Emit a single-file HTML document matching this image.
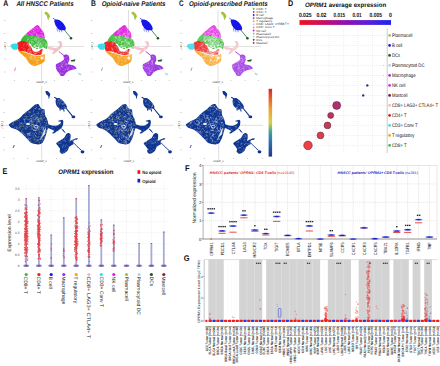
<!DOCTYPE html><html><head><meta charset="utf-8"><style>html,body{margin:0;padding:0;background:#fff;width:440px;height:366px;overflow:hidden}svg{display:block}</style></head><body>
<svg width="440" height="366" viewBox="0 0 440 366" text-rendering="geometricPrecision" font-family='"Liberation Sans", sans-serif'>
<defs>
<g id="uc"><g stroke="#bcbcbc" stroke-width="0.5" fill="none">
<line x1="41.6" y1="10" x2="41.6" y2="81.0"/>
<line x1="7" y1="46.4" x2="84.4" y2="46.4"/>
</g>
<g fill="#a8a8a8">
<rect x="4.0" y="20.0" width="1.3" height="0.6"/>
<rect x="4.0" y="33.300000000000004" width="1.3" height="0.6"/>
<rect x="4.0" y="58.7" width="1.3" height="0.6"/>
<rect x="4.0" y="71.7" width="1.3" height="0.6"/>
<rect x="14.1" y="80" width="0.6" height="1.0"/>
<rect x="28.099999999999998" y="80" width="0.6" height="1.0"/>
<rect x="54.300000000000004" y="80" width="0.6" height="1.0"/>
<rect x="68.4" y="80" width="0.6" height="1.0"/>
<rect x="82.0" y="80" width="0.6" height="1.0"/>
</g>
<text transform="translate(6.00,46.40) rotate(-90)" font-size="2.6" text-anchor="middle" fill="#333" textLength="8.5" lengthAdjust="spacingAndGlyphs" >UMAP_2</text>
<text x="41.40" y="82.90" font-size="2.6" text-anchor="middle" fill="#333" textLength="10.5" lengthAdjust="spacingAndGlyphs" >UMAP_1</text>
<path fill="#3cba3c" fill-opacity="1.0" d="M20.00,42.80 C20.16,42.13 20.97,39.59 21.80,38.40 C22.63,37.21 24.68,34.33 26.20,33.90 C27.72,33.47 30.76,34.60 33.20,35.20 C35.64,35.80 42.58,37.31 44.50,38.40 C46.42,39.49 47.35,41.99 47.60,43.40 C47.85,44.81 46.99,48.49 46.40,49.00 C45.81,49.51 44.29,47.20 43.20,47.20 C42.11,47.20 39.53,49.00 38.20,49.00 C36.87,49.00 34.55,48.03 33.20,47.20 C31.85,46.37 29.78,43.31 28.10,42.80 C26.42,42.29 21.68,43.40 20.60,43.40 C19.52,43.40 19.84,43.47 20.00,42.80Z"/>
<path fill="#e020e0" fill-opacity="1.0" d="M26.20,33.90 C26.35,33.09 30.57,29.93 31.90,28.90 C33.23,27.87 36.54,25.10 37.60,25.10 C38.66,25.10 40.28,28.01 41.00,28.90 C41.72,29.79 43.39,31.59 43.80,32.70 C44.21,33.81 45.15,37.96 44.50,38.40 C43.85,38.84 39.82,36.80 38.20,36.50 C36.58,36.20 32.00,36.10 30.60,35.80 C29.20,35.50 26.05,34.70 26.20,33.90Z"/>
<path fill="#f5a01a" fill-opacity="1.0" d="M18.10,50.30 C18.61,50.14 22.56,51.61 24.40,52.20 C26.24,52.79 29.90,54.19 31.90,54.70 C33.90,55.21 37.72,56.08 39.40,56.00 C41.08,55.92 43.82,53.43 44.50,54.10 C45.18,54.77 45.01,59.67 44.50,61.00 C43.99,62.33 42.05,63.43 40.70,64.10 C39.35,64.77 35.91,66.08 34.40,66.00 C32.89,65.92 30.57,64.59 29.40,63.50 C28.23,62.41 26.77,59.15 25.60,57.80 C24.43,56.45 21.60,54.40 20.60,53.40 C19.60,52.40 17.59,50.46 18.10,50.30Z"/>
<path fill="#ee1a1a" fill-opacity="1.0" d="M17.40,42.80 C17.99,41.55 21.67,40.90 23.10,40.90 C24.53,40.90 27.01,41.96 28.10,42.80 C29.19,43.64 30.62,46.12 31.30,47.20 C31.98,48.28 32.28,50.31 33.20,50.90 C34.12,51.49 37.12,51.85 38.20,51.60 C39.28,51.35 40.63,49.25 41.30,49.00 C41.97,48.75 43.03,49.11 43.20,49.70 C43.37,50.29 43.27,52.65 42.60,53.40 C41.93,54.15 39.63,55.21 38.20,55.30 C36.77,55.39 33.74,54.59 31.90,54.10 C30.06,53.61 26.16,52.11 24.40,51.60 C22.64,51.09 19.63,51.47 18.70,50.30 C17.77,49.13 16.81,44.05 17.40,42.80Z"/>
<path fill="#30dcec" fill-opacity="1.0" d="M11.10,44.60 C11.83,43.97 14.33,43.40 15.50,43.40 C16.67,43.40 17.75,43.67 18.10,44.60 C18.45,45.53 18.33,48.15 17.60,49.00 C16.87,49.85 14.78,50.00 13.70,49.70 C12.62,49.40 11.53,48.05 11.10,47.20 C10.67,46.35 10.37,45.23 11.10,44.60Z"/>
<path d="M41.4,46.5 l0.6,0.5 M28.8,49.4 l-1.0,0.7 M27.9,45.4 l2.3,0.3 M34.0,55.9 l-0.6,1.7 M36.1,33.2 l1.1,2.2 M28.1,49.9 l0.9,0.3 M32.2,41.0 l-1.0,0.4 M32.0,59.5 l0.9,1.0 M30.2,32.8 l1.2,2.1 M26.0,56.7 l-1.4,2.1 M42.7,49.4 l0.7,2.4 M32.3,34.8 l1.2,0.8 M38.6,48.0 l-1.5,1.9 M40.5,57.6 l0.1,0.9 M33.9,63.9 l-0.5,1.6 M38.3,47.0 l2.2,0.5 M31.0,50.9 l-0.7,1.4 M33.0,41.6 l0.7,0.6 M41.7,55.0 l1.1,1.0 M27.0,41.6 l-0.2,0.9 M36.6,53.3 l-1.4,0.2 M43.9,40.8 l-1.8,1.4 M29.7,48.1 l-1.9,1.3 M44.8,61.3 l-0.2,0.9 M35.6,50.8 l-1.1,0.8 M36.2,61.6 l1.7,0.4 M37.7,52.1 l2.3,0.8 M39.1,47.0 l-1.0,0.6 M29.0,45.6 l-0.2,1.6 M42.0,46.0 l0.7,1.8 M39.8,41.0 l-1.7,1.4 M38.2,42.5 l-1.8,0.7 M36.4,44.3 l1.7,1.4 M41.2,39.1 l0.7,0.6 M42.6,34.8 l-0.1,1.0 M29.8,56.4 l-1.0,1.4 M40.4,49.2 l-0.9,0.2 M37.3,52.2 l-0.7,0.5 M41.0,56.1 l0.6,0.8 M37.2,43.7 l0.9,2.2 M31.7,48.3 l1.4,1.0 M44.5,43.0 l1.2,0.1 M39.4,47.1 l1.2,1.4 M42.1,53.7 l1.2,2.1 M30.5,52.6 l1.4,0.6 M31.2,56.5 l-0.4,0.9 M38.6,42.5 l-0.7,0.8 M26.1,57.3 l0.5,1.0 M28.0,34.5 l-0.9,0.6 M42.6,50.9 l-0.7,0.7 M44.9,38.3 l1.2,1.0 M36.4,51.2 l-2.5,0.4 M30.8,49.0 l-0.5,1.4 M30.8,56.0 l1.3,1.8 M21.4,47.3 l1.1,0.3 M42.3,52.3 l-1.5,1.3 M39.8,42.9 l0.9,0.9 M27.9,43.1 l-1.3,2.1 M41.8,44.5 l1.0,0.6 M35.0,51.8 l0.8,2.4 M27.9,52.9 l-0.0,1.1 M41.1,45.1 l-1.0,1.2 M40.9,56.3 l0.4,2.5 M44.2,56.1 l-1.2,0.9 M37.9,59.3 l0.1,1.5 M25.8,51.1 l-0.9,1.0 M36.4,49.1 l-0.6,1.2 M34.7,58.0 l-0.8,1.4 M30.6,51.8 l-1.6,0.7 M46.4,43.1 l-1.3,0.3 M39.1,39.8 l-1.0,1.2 M38.9,45.6 l0.4,0.9 M31.7,65.2 l0.7,1.7 M29.5,50.9 l0.9,0.0 M36.5,44.4 l-1.0,2.0 M35.4,43.8 l0.3,1.8 M26.0,60.2 l0.8,1.7 M40.2,43.2 l-0.6,1.1 M45.7,43.8 l0.3,2.4 M38.4,28.6 l-1.4,0.0 M41.6,47.2 l-1.0,0.2 M46.4,31.3 l-1.1,0.6 M44.2,58.6 l-1.5,0.2 M35.1,56.7 l0.7,1.7 M37.3,54.9 l2.2,0.2 M31.6,37.4 l0.8,0.2 M38.8,44.2 l1.5,2.1 M41.4,42.2 l-1.0,0.3 M33.5,49.6 l1.0,1.0 M30.3,57.6 l-0.2,1.6 M46.0,43.9 l0.0,2.5 M37.1,47.1 l-0.8,0.2 M35.6,44.3 l-2.1,1.0 M43.9,52.7 l-0.5,1.3 M43.9,56.2 l0.5,0.8 M44.7,56.9 l1.0,1.3 M35.9,63.0 l2.2,0.6 M31.3,57.5 l1.4,1.9 M44.1,32.6 l0.7,2.4 M40.1,44.1 l-0.2,1.0 M39.1,44.7 l-1.3,0.6 M35.5,53.1 l-1.6,0.3 M32.9,60.1 l0.6,0.6 M31.0,41.3 l0.7,2.2 M42.5,42.9 l1.6,0.7 M25.7,49.6 l-1.4,1.5 M43.8,49.7 l-1.5,1.1 M45.4,46.8 l0.3,1.8 M42.7,49.1 l-1.9,0.9 M41.3,45.0 l0.8,0.4 M40.5,44.1 l1.1,0.1 M46.9,54.1 l-1.3,1.8 M31.9,54.3 l-1.6,0.9 M32.1,41.1 l-0.2,1.3 M39.4,51.3 l1.0,0.4 M35.4,45.8 l-1.3,1.3 M28.5,46.2 l1.8,1.1 M27.3,28.4 l-0.8,2.1 M42.3,49.9 l-0.5,1.2 M33.2,51.9 l0.8,1.9 M35.2,38.6 l2.4,0.3 M24.1,47.7 l-0.2,1.9 M33.5,49.9 l0.7,2.0 M37.4,43.4 l0.6,1.7 M30.9,48.2 l-1.7,1.5 M46.2,44.0 l1.0,0.3 M37.7,36.5 l-1.0,2.3 M19.3,49.2 l-0.9,1.3 M35.4,49.7 l1.5,0.8 M45.2,32.1 l0.1,0.9 M44.8,65.8 l-0.8,1.1 M30.1,44.4 l-0.4,1.0 M32.4,41.6 l1.2,0.4 M33.7,48.2 l0.5,1.1 M27.3,59.3 l-0.7,0.5 M32.0,52.3 l-1.3,1.2 M38.3,40.9 l-1.5,0.9 M37.9,62.4 l-0.7,0.5 M37.3,64.3 l0.3,2.5 M46.5,38.2 l-1.4,1.5 M34.5,50.5 l1.1,0.7 M39.1,45.8 l-1.2,2.2 M37.4,51.6 l-0.8,2.3 M26.4,63.0 l-0.5,2.1 M35.6,56.3 l-0.5,1.1 M37.9,41.4 l0.6,2.3 M42.2,53.6 l-1.5,0.8 M40.5,43.5 l1.7,0.8 M29.9,40.4 l-0.6,2.2 M33.4,50.2 l-1.3,1.6 M28.6,50.0 l-1.4,1.5 M27.6,44.3 l-1.1,0.9 M25.8,60.2 l2.1,1.4 M37.3,34.1 l-1.2,2.0 M33.4,26.9 l-0.1,2.0 M43.4,63.3 l-1.6,1.0 M38.1,47.1 l-0.3,1.2 M30.6,58.0 l0.0,1.9 M29.7,57.3 l0.9,1.1 M18.4,42.1 l0.6,0.9 M37.7,57.0 l0.7,0.5 M35.1,55.9 l-0.8,1.5 M40.6,44.5 l1.3,0.6 M44.2,45.3 l1.2,1.1 M27.2,65.7 l-0.5,0.7 M37.8,50.7 l0.8,0.6 M36.3,50.0 l-1.2,2.2 M43.6,62.5 l-1.6,2.0 M27.4,50.9 l1.4,1.2 M37.6,57.0 l0.1,1.4 M46.1,45.0 l-0.9,1.5 M39.1,48.2 l0.4,1.0 M30.1,46.3 l1.9,0.3 M41.1,34.6 l1.2,1.0 M40.0,43.6 l-0.9,0.7 M36.9,49.0 l0.3,1.5 M42.5,36.3 l1.6,0.8 M43.1,44.7 l-0.6,2.1 M44.8,48.2 l-0.3,1.7 M23.3,53.7 l-1.0,0.3 M36.9,30.4 l0.8,0.6 M42.7,54.1 l0.9,0.4 M36.6,41.5 l0.4,0.8 M34.8,59.9 l-1.1,0.9 M36.6,46.2 l-0.1,2.1 M39.4,39.2 l1.3,0.6 M30.2,53.9 l1.7,1.3 M44.6,52.1 l0.6,1.3 M43.7,48.5 l1.2,1.5 M30.5,50.7 l-0.9,2.1 M40.7,42.4 l-0.8,1.8 M37.7,57.5 l2.1,0.1 M39.2,37.6 l-0.5,1.2 M19.5,55.0 l-0.5,1.0 M34.5,39.6 l1.9,1.4 M40.6,45.3 l-1.4,1.1 M32.2,56.4 l-1.2,0.4 M29.1,38.8 l-1.6,1.8 M46.7,56.0 l0.8,1.0 M33.1,55.1 l0.9,0.2 M24.8,61.8 l-0.8,0.1 M30.9,46.0 l1.7,1.7 M38.5,37.7 l-1.4,0.4 M32.0,41.2 l0.4,1.4 M38.8,59.2 l-0.1,1.8 M33.0,47.9 l-1.0,0.7 M37.9,26.2 l-0.8,0.2 M37.9,46.0 l1.3,1.2 M24.9,34.4 l-1.0,0.4 M38.6,54.9 l0.7,0.5 M43.3,36.1 l-0.8,1.1 M33.5,42.4 l0.0,1.4 M32.8,43.6 l-1.1,0.8 M36.0,60.0 l2.4,0.6 M29.5,42.7 l-0.9,1.2 M39.1,35.7 l-1.8,0.2 M22.2,51.1 l1.9,0.5 M24.4,43.7 l-0.9,1.9 M44.6,50.7 l1.1,1.1 M30.4,46.6 l-0.5,1.9 M29.0,43.4 l0.5,2.0 M35.3,45.4 l-0.6,1.3 M31.4,47.1 l0.5,0.7 M37.2,39.5 l-2.1,1.4 M37.0,59.0 l-1.7,0.8 M29.1,54.6 l-0.8,0.2 M44.8,41.7 l-1.7,1.2 M40.1,44.7 l-1.4,0.7 M40.1,41.0 l-1.8,1.8 M34.0,39.9 l1.1,0.6 M35.6,43.9 l1.6,0.1 M44.4,29.4 l0.7,2.3 M32.9,55.3 l-1.3,0.4 M26.1,32.1 l0.9,0.4 M35.6,58.8 l0.0,1.1 M33.2,54.8 l1.9,1.2 M41.0,40.5 l-1.4,0.1 M32.2,44.9 l-0.8,0.2" stroke="#ffffff" stroke-width="0.35" opacity="0.8" fill="none"/>
<g fill="#ffffff" opacity="0.85"><ellipse cx="37" cy="48.3" rx="2.6" ry="1.4"/><ellipse cx="34.5" cy="46" rx="1.2" ry="0.8"/><ellipse cx="43" cy="52.5" rx="1.2" ry="2.2"/><ellipse cx="42" cy="58" rx="1.5" ry="1.6"/><ellipse cx="30" cy="44.5" rx="1.3" ry="0.8"/></g><ellipse cx="37" cy="48.3" rx="1.2" ry="0.6" fill="#3cba3c"/>
<path d="M28.3,26.9 l-1.3,0.0 M34.2,37.8 l1.0,0.1 M41.1,26.1 l0.9,0.3 M43.2,38.7 l-0.9,0.7 M41.5,37.4 l-1.6,1.1 M34.7,29.7 l1.2,0.4 M28.5,38.9 l-0.8,0.6 M35.8,27.0 l0.8,1.5 M44.6,32.1 l-0.2,1.2 M41.1,34.9 l1.0,1.2 M28.8,30.3 l-1.1,1.6 M36.8,38.7 l-0.3,1.0 M38.8,34.1 l0.2,1.8 M32.1,32.6 l1.7,0.3 M45.5,39.5 l1.1,0.5 M28.2,37.2 l-1.6,0.5 M29.4,32.3 l0.4,1.1 M36.3,28.6 l-1.6,0.5 M27.0,34.4 l-0.9,0.1 M32.9,30.4 l1.1,0.5 M32.8,39.6 l-0.8,0.1 M41.1,29.0 l0.8,0.6 M28.0,34.3 l-0.3,0.8 M35.7,37.9 l-1.7,0.2 M39.8,31.7 l1.0,1.1 M32.4,28.4 l-1.6,0.1 M37.7,39.2 l1.4,0.0 M37.3,31.5 l-1.0,0.4 M45.3,30.7 l-0.9,1.2 M34.2,26.3 l1.0,1.1 M31.5,36.4 l-0.4,1.6 M39.3,26.8 l0.2,0.8 M39.1,27.6 l0.2,1.2 M32.8,30.8 l1.4,0.5 M26.0,34.5 l-0.9,1.5 M36.1,35.0 l1.0,0.3 M32.7,32.0 l0.7,0.8 M30.5,27.1 l-1.6,0.3 M36.3,27.3 l1.5,1.1 M34.8,31.5 l-0.3,1.5 M27.7,39.7 l-0.6,0.8 M35.9,31.4 l-0.4,1.1 M31.2,39.3 l1.8,0.5 M43.1,30.9 l0.3,1.5 M43.1,26.8 l-0.2,0.8 M32.2,29.4 l0.8,1.0 M43.3,28.9 l1.2,1.3 M30.5,27.4 l0.3,1.0 M28.7,31.0 l-1.5,0.5 M28.2,30.9 l-1.7,0.6 M42.9,31.6 l-0.2,0.8 M34.0,31.9 l1.6,1.0 M39.5,30.6 l-1.3,1.5 M36.7,33.2 l-0.4,1.4 M26.8,38.9 l1.7,0.3 M41.6,33.9 l1.1,0.8 M31.2,36.4 l1.5,0.0 M29.0,30.9 l-0.3,1.1 M30.5,28.2 l-1.5,0.2 M42.6,31.2 l-0.7,1.8 M28.0,27.7 l1.4,0.4 M27.4,29.1 l-1.1,1.6 M29.4,32.8 l0.1,1.0 M29.1,26.8 l0.4,1.1 M34.2,38.6 l0.4,1.4 M35.2,29.8 l-1.7,0.7 M31.3,35.1 l-1.2,1.2 M41.6,30.0 l0.1,1.2 M33.0,39.5 l1.4,0.0 M43.9,38.2 l-1.2,0.6 M33.5,28.0 l-1.6,0.6 M36.0,39.5 l0.5,0.6 M31.3,29.4 l0.2,2.0 M32.3,33.8 l-0.3,1.8 M31.8,33.0 l-1.0,0.8 M45.3,31.8 l-1.5,0.2 M38.2,29.7 l0.6,1.0 M43.9,31.0 l0.0,1.1 M42.0,32.3 l-0.5,0.8 M32.4,30.0 l-1.0,0.2 M35.6,36.2 l-1.3,0.4 M40.6,28.7 l-1.3,1.1 M36.7,38.1 l-1.8,0.1 M33.2,27.2 l-1.4,0.9 M26.3,34.0 l0.9,0.2 M33.0,27.8 l1.8,0.5 M40.1,36.8 l-0.5,1.5 M34.9,32.9 l-1.5,0.6 M31.8,39.3 l-1.4,0.7 M43.0,35.9 l-0.8,1.7 M34.9,38.6 l1.0,1.4 M30.0,36.4 l0.3,0.9 M45.2,31.2 l0.8,0.3 M28.2,37.8 l-0.0,1.7 M32.2,39.7 l-1.1,1.4 M43.8,31.6 l1.3,0.8 M41.6,39.0 l0.3,1.6 M39.7,34.7 l-0.1,1.5 M40.6,34.5 l-0.1,1.9 M45.7,36.3 l1.0,0.0 M33.3,34.3 l-0.6,1.2 M42.0,37.8 l1.5,0.7 M30.6,31.6 l1.2,0.0 M33.8,30.2 l-0.9,0.6 M33.2,37.5 l-0.1,1.2 M45.4,33.6 l0.7,1.6 M41.7,31.7 l0.1,1.5" stroke="#ffffff" stroke-width="0.3" opacity="0.6" fill="none"/>
<path fill="#f4bcc4" fill-opacity="1.0" d="M47.30,46.20 C47.68,46.00 49.71,46.48 50.60,46.70 C51.49,46.92 54.01,48.07 54.90,48.10 C55.79,48.13 57.63,47.35 58.20,47.00 C58.77,46.65 59.67,45.58 59.80,45.10 C59.93,44.62 59.58,43.25 59.30,42.90 C59.02,42.55 57.27,42.32 57.40,42.10 C57.53,41.88 59.86,40.84 60.40,41.00 C60.94,41.16 61.87,42.77 62.00,43.50 C62.13,44.23 61.87,46.54 61.50,47.30 C61.13,48.06 59.37,49.49 58.80,50.00 C58.23,50.51 57.31,51.19 56.60,51.70 C55.89,52.21 53.21,54.21 52.70,54.40 C52.19,54.59 52.07,53.74 52.20,53.30 C52.33,52.86 54.11,51.04 53.80,50.60 C53.48,50.16 50.26,49.76 49.50,49.50 C48.74,49.24 47.56,48.78 47.30,48.40 C47.04,48.02 46.91,46.40 47.30,46.20Z"/>
<path d="M47,48.5 l5,-1 M55,47 l4,2 M52,50 l2,2" stroke="#fff" stroke-width="0.35" fill="none"/>
<path d="M58.8,51.5 L64,55.5" stroke="#9a30e0" stroke-width="0.9"/>
<path fill="#9a30e0" fill-opacity="1.0" d="M63.50,55.40 C63.81,54.85 65.98,54.53 66.60,54.60 C67.22,54.67 68.47,55.37 68.80,56.00 C69.13,56.63 69.49,59.05 69.40,60.00 C69.31,60.95 67.52,63.46 68.00,64.10 C68.48,64.74 72.51,64.97 73.50,65.50 C74.49,66.03 76.91,68.00 76.50,68.60 C76.09,69.19 71.17,70.14 70.00,70.60 C68.83,71.05 67.21,71.91 66.50,72.50 C65.79,73.09 64.60,75.33 63.90,75.70 C63.20,76.07 61.14,76.10 60.50,75.70 C59.86,75.30 58.90,73.09 58.40,72.30 C57.90,71.51 56.48,69.81 56.20,68.90 C55.92,67.99 55.50,65.29 56.00,64.50 C56.50,63.71 59.58,62.71 60.50,62.10 C61.42,61.49 63.55,60.08 63.90,59.30 C64.25,58.52 63.19,55.95 63.50,55.40Z"/>
<path d="M60,66 l4,2 M62,70 l3,1 M65,64 l2,3" stroke="#c090f0" stroke-width="0.35" fill="none"/>
<path d="M67.6,64.4 l-1.7,0.2 M61.3,62.0 l1.0,1.2 M65.5,73.7 l1.0,0.5 M61.5,65.0 l0.9,1.4 M57.4,67.5 l-1.5,0.3 M68.9,62.7 l-0.7,0.4 M68.9,72.3 l-0.1,1.1 M61.8,57.3 l-0.4,0.6 M64.0,60.2 l0.3,1.6 M63.0,61.8 l0.8,1.1 M59.3,73.9 l1.2,0.0 M59.4,70.3 l0.6,0.3 M68.6,71.0 l0.4,1.0 M58.8,74.3 l0.9,0.9 M69.6,66.6 l0.1,0.6 M57.8,62.6 l-0.6,0.3 M65.9,57.5 l0.9,0.0 M56.9,62.1 l-0.2,0.6 M68.0,74.9 l-0.9,1.4 M59.8,60.3 l-0.5,1.1 M67.7,69.2 l0.9,1.2 M58.6,74.8 l1.0,1.1 M59.9,60.2 l1.1,0.4 M62.7,72.5 l-1.3,1.0 M60.5,70.0 l-0.6,0.4 M69.2,74.4 l1.3,0.7 M59.8,61.7 l1.4,0.2 M64.8,69.2 l1.2,0.7 M65.2,61.5 l-1.0,0.2 M56.7,74.2 l0.5,0.4 M61.5,57.2 l0.8,0.9 M65.5,63.7 l0.6,0.0 M62.7,58.9 l0.1,1.3 M65.3,74.6 l-0.2,1.8 M58.3,56.6 l-0.6,1.4 M67.3,56.3 l0.8,0.8 M68.5,67.4 l-0.1,0.7 M59.9,67.5 l0.4,1.6 M56.8,58.3 l-1.2,0.0 M59.6,67.3 l-0.1,0.6 M59.3,67.9 l-0.9,0.2 M59.1,74.4 l1.5,0.6 M62.0,65.9 l-0.6,0.8 M69.3,62.1 l1.2,0.2 M65.0,69.0 l0.2,0.7 M63.0,63.1 l0.1,0.7 M68.4,60.8 l-1.4,0.2 M64.6,65.2 l1.0,0.0 M60.5,72.4 l-1.2,0.6 M62.7,73.7 l1.2,0.0 M66.4,63.3 l0.4,1.5 M58.5,64.8 l-0.5,1.2 M66.9,75.0 l0.5,1.1 M65.0,73.0 l0.6,0.3 M68.5,71.7 l1.6,0.4 M61.2,65.8 l-0.0,1.0 M61.6,58.0 l1.3,0.3 M69.5,70.5 l-0.5,1.1 M60.1,73.1 l1.2,0.2 M65.1,62.6 l0.9,1.2 M56.2,70.4 l0.7,0.1 M57.2,60.3 l-0.6,0.6 M68.3,61.8 l1.3,0.2 M62.4,66.4 l0.6,0.6 M66.9,69.3 l1.2,0.9 M65.7,58.2 l-1.1,0.2 M68.2,68.7 l-0.7,0.2 M68.5,67.9 l0.6,1.6 M66.1,68.0 l1.4,0.2 M61.2,63.6 l-0.9,1.1 M67.6,59.8 l-1.0,0.5 M56.7,72.6 l1.0,0.7 M63.4,57.6 l0.4,0.5 M63.7,57.1 l1.3,1.1 M61.6,64.4 l1.7,0.4 M55.2,46.3 l-0.3,1.1 M56.8,47.5 l0.4,0.9 M58.0,51.6 l-1.0,1.3 M52.6,52.1 l-0.3,0.9 M47.9,51.0 l1.1,0.4 M53.4,44.0 l-1.0,0.3 M60.0,53.1 l1.0,0.2 M55.4,48.3 l-0.8,0.6 M49.4,52.4 l0.4,0.7 M47.1,43.4 l0.6,1.4 M49.3,45.7 l0.9,1.5 M59.6,51.7 l0.9,1.0 M49.2,51.8 l-0.0,0.6 M51.1,48.1 l0.5,0.8 M60.8,49.4 l-1.0,0.1 M58.1,45.6 l-1.3,1.1 M51.6,43.4 l-1.1,1.0 M60.2,44.8 l-0.8,0.1 M55.0,43.2 l-0.4,1.6 M52.4,43.7 l0.5,1.2 M58.7,46.1 l-1.2,1.3 M55.4,47.7 l-0.9,0.6 M52.2,48.5 l0.4,1.0 M57.9,51.4 l-0.7,0.8 M58.6,51.4 l0.4,0.9 M54.6,49.7 l-0.8,0.0 M49.3,53.8 l1.1,1.0 M50.8,48.3 l1.3,0.2 M56.9,44.6 l0.6,1.1 M47.5,45.6 l0.5,0.5 M50.1,44.1 l0.8,0.5" stroke="#ffffff" stroke-width="0.35" opacity="0.75" fill="none"/>
<path d="M71,66.5 L79.5,73.5" stroke="#a8d8f0" stroke-width="0.4"/>
<polygon fill="#9fd2ee" points="78.3,73 81.7,74 80.5,75.3 78.5,74.6"/>
<polygon fill="#1a5a1a" points="70.7,60.2 75.5,59.3 74.6,61.4 71.2,61.6"/>
<path fill="#1616e8" d="M54.50,20.20 C55.14,19.56 56.50,19.44 58.00,19.80 C59.50,20.16 60.60,20.76 62.00,22.00 C63.40,23.24 64.28,24.50 65.00,26.00 C65.72,27.50 66.00,28.64 65.60,29.50 C65.20,30.36 64.32,30.30 63.00,30.30 C61.68,30.30 60.40,30.36 59.00,29.50 C57.60,28.64 56.84,27.30 56.00,26.00 C55.16,24.70 55.10,24.16 54.80,23.00 C54.50,21.84 53.86,20.84 54.50,20.20Z"/>
<path d="M53,18.2 L57,21" stroke="#1616e8" stroke-width="0.7"/>
<path d="M64.4,30 L71,38" stroke="#2a6a3a" stroke-width="0.8"/>
<path d="M57,28 l0.5,3.5 M59,29 l0.6,3.2 M61.5,29.6 l0.3,2.7" stroke="#1616e8" stroke-width="0.45"/>
<circle cx="71" cy="38.3" r="1.3" fill="#1a5a1a"/>
<path fill="#9cc43c" d="M44.60,12.40 C44.84,12.11 46.21,11.67 46.80,11.90 C47.39,12.13 48.57,13.46 49.00,14.10 C49.43,14.74 50.00,16.18 50.00,16.70 C50.00,17.22 49.23,17.52 49.00,18.00 C48.77,18.48 48.51,20.27 48.30,20.30 C48.09,20.33 47.63,18.83 47.40,18.20 C47.17,17.57 46.92,16.15 46.60,15.60 C46.28,15.05 45.27,14.53 45.00,14.10 C44.73,13.67 44.36,12.69 44.60,12.40Z"/>
<circle cx="47.3" cy="14.5" r="0.5" fill="#e8b040"/>
<path d="M14.5,71 L15.6,67.5" stroke="#b02040" stroke-width="0.5"/></g>
<g id="ucb"><g stroke="#bcbcbc" stroke-width="0.5" fill="none">
<line x1="41.6" y1="10" x2="41.6" y2="81.0"/>
<line x1="7" y1="46.4" x2="84.4" y2="46.4"/>
</g>
<g fill="#a8a8a8">
<rect x="4.0" y="20.0" width="1.3" height="0.6"/>
<rect x="4.0" y="33.300000000000004" width="1.3" height="0.6"/>
<rect x="4.0" y="58.7" width="1.3" height="0.6"/>
<rect x="4.0" y="71.7" width="1.3" height="0.6"/>
<rect x="14.1" y="80" width="0.6" height="1.0"/>
<rect x="28.099999999999998" y="80" width="0.6" height="1.0"/>
<rect x="54.300000000000004" y="80" width="0.6" height="1.0"/>
<rect x="68.4" y="80" width="0.6" height="1.0"/>
<rect x="82.0" y="80" width="0.6" height="1.0"/>
</g>
<text transform="translate(6.00,46.40) rotate(-90)" font-size="2.6" text-anchor="middle" fill="#333" textLength="8.5" lengthAdjust="spacingAndGlyphs" >UMAP_2</text>
<text x="41.40" y="82.90" font-size="2.6" text-anchor="middle" fill="#333" textLength="10.5" lengthAdjust="spacingAndGlyphs" >UMAP_1</text>
<path fill="#3cba3c" fill-opacity="0.95" d="M20.00,42.80 C20.16,42.13 20.97,39.59 21.80,38.40 C22.63,37.21 24.68,34.33 26.20,33.90 C27.72,33.47 30.76,34.60 33.20,35.20 C35.64,35.80 42.58,37.31 44.50,38.40 C46.42,39.49 47.35,41.99 47.60,43.40 C47.85,44.81 46.99,48.49 46.40,49.00 C45.81,49.51 44.29,47.20 43.20,47.20 C42.11,47.20 39.53,49.00 38.20,49.00 C36.87,49.00 34.55,48.03 33.20,47.20 C31.85,46.37 29.78,43.31 28.10,42.80 C26.42,42.29 21.68,43.40 20.60,43.40 C19.52,43.40 19.84,43.47 20.00,42.80Z"/>
<path fill="#e020e0" fill-opacity="0.95" d="M26.20,33.90 C26.35,33.09 30.57,29.93 31.90,28.90 C33.23,27.87 36.54,25.10 37.60,25.10 C38.66,25.10 40.28,28.01 41.00,28.90 C41.72,29.79 43.39,31.59 43.80,32.70 C44.21,33.81 45.15,37.96 44.50,38.40 C43.85,38.84 39.82,36.80 38.20,36.50 C36.58,36.20 32.00,36.10 30.60,35.80 C29.20,35.50 26.05,34.70 26.20,33.90Z"/>
<path fill="#f5a01a" fill-opacity="0.95" d="M18.10,50.30 C18.61,50.14 22.56,51.61 24.40,52.20 C26.24,52.79 29.90,54.19 31.90,54.70 C33.90,55.21 37.72,56.08 39.40,56.00 C41.08,55.92 43.82,53.43 44.50,54.10 C45.18,54.77 45.01,59.67 44.50,61.00 C43.99,62.33 42.05,63.43 40.70,64.10 C39.35,64.77 35.91,66.08 34.40,66.00 C32.89,65.92 30.57,64.59 29.40,63.50 C28.23,62.41 26.77,59.15 25.60,57.80 C24.43,56.45 21.60,54.40 20.60,53.40 C19.60,52.40 17.59,50.46 18.10,50.30Z"/>
<path fill="#ee1a1a" fill-opacity="0.95" d="M17.40,42.80 C17.99,41.55 21.67,40.90 23.10,40.90 C24.53,40.90 27.01,41.96 28.10,42.80 C29.19,43.64 30.62,46.12 31.30,47.20 C31.98,48.28 32.28,50.31 33.20,50.90 C34.12,51.49 37.12,51.85 38.20,51.60 C39.28,51.35 40.63,49.25 41.30,49.00 C41.97,48.75 43.03,49.11 43.20,49.70 C43.37,50.29 43.27,52.65 42.60,53.40 C41.93,54.15 39.63,55.21 38.20,55.30 C36.77,55.39 33.74,54.59 31.90,54.10 C30.06,53.61 26.16,52.11 24.40,51.60 C22.64,51.09 19.63,51.47 18.70,50.30 C17.77,49.13 16.81,44.05 17.40,42.80Z"/>
<path fill="#30dcec" fill-opacity="0.95" d="M11.10,44.60 C11.83,43.97 14.33,43.40 15.50,43.40 C16.67,43.40 17.75,43.67 18.10,44.60 C18.45,45.53 18.33,48.15 17.60,49.00 C16.87,49.85 14.78,50.00 13.70,49.70 C12.62,49.40 11.53,48.05 11.10,47.20 C10.67,46.35 10.37,45.23 11.10,44.60Z"/>
<path d="M45.8,31.6 l-1.1,0.0 M37.4,33.4 l-0.1,0.9 M45.6,46.5 l2.3,0.7 M27.5,40.3 l1.8,0.2 M41.1,51.9 l-0.5,0.7 M30.6,36.8 l-1.4,0.1 M38.8,44.6 l1.0,0.8 M43.8,51.8 l0.0,1.9 M19.2,45.5 l-0.6,0.5 M24.8,47.4 l1.1,2.1 M43.9,48.1 l-1.5,0.8 M29.2,52.2 l0.8,0.4 M43.1,49.9 l-0.6,0.6 M41.9,29.9 l1.4,0.9 M36.1,55.6 l-2.5,0.2 M36.9,38.9 l0.7,0.6 M44.8,37.9 l0.5,0.8 M30.9,39.3 l0.1,1.5 M32.9,34.7 l1.0,0.9 M41.2,46.2 l0.7,1.3 M44.5,49.3 l-0.4,0.8 M28.5,37.4 l1.0,0.3 M31.1,57.1 l0.2,1.9 M35.0,38.1 l-1.4,2.1 M34.1,58.9 l-2.0,0.9 M34.6,50.1 l-0.2,1.4 M21.7,55.5 l-0.4,1.3 M38.7,35.3 l0.8,1.8 M32.7,32.4 l0.7,1.5 M38.2,49.1 l2.0,1.3 M36.2,39.4 l-0.8,0.9 M41.3,42.3 l0.9,1.6 M44.7,44.1 l1.9,0.4 M42.8,41.6 l-0.8,2.1 M42.1,44.2 l1.0,0.1 M39.2,40.7 l0.1,1.2 M23.5,41.6 l-1.2,0.4 M44.1,55.5 l-2.1,0.7 M42.9,59.2 l0.5,0.9 M43.8,45.3 l-1.1,1.0 M38.5,37.0 l0.9,1.2 M45.0,35.1 l0.1,1.9 M40.8,45.5 l-0.1,1.0 M32.6,35.3 l-0.6,1.9 M38.0,46.3 l1.3,0.1 M41.2,41.1 l0.6,2.2 M43.3,41.6 l-0.7,0.6 M43.0,39.0 l0.4,0.9 M24.8,43.2 l0.9,2.1 M35.2,41.8 l-1.1,1.0 M38.5,48.8 l2.0,0.1 M41.3,48.2 l1.1,0.9 M40.8,43.8 l1.7,0.2 M35.3,48.4 l0.8,0.2 M36.3,41.1 l1.7,0.6 M46.2,54.6 l-1.0,1.7 M30.4,50.7 l1.5,0.9 M37.9,39.1 l0.8,2.5 M42.9,43.9 l-0.1,2.4 M36.7,46.3 l1.2,0.4 M38.8,41.5 l2.3,0.8 M43.9,47.1 l2.0,1.5 M28.5,40.9 l-0.5,1.1 M39.7,60.3 l-1.8,1.3 M40.4,64.7 l1.1,1.1 M41.7,47.4 l-0.9,1.4 M44.2,28.0 l-0.8,1.1 M30.5,45.4 l1.2,1.1 M37.6,45.6 l-0.8,0.9 M29.5,37.9 l1.1,0.2 M42.1,54.8 l-0.2,1.0 M32.7,45.7 l-1.0,0.9 M31.8,35.9 l-0.4,1.0 M41.2,41.0 l-0.7,0.5 M26.6,52.2 l-1.1,1.5 M46.4,46.0 l1.1,2.0 M31.0,62.9 l0.7,0.8 M38.7,56.9 l-1.9,1.5 M36.2,47.3 l0.1,0.8 M34.3,63.6 l1.9,0.2 M41.9,43.2 l-0.9,1.8 M45.4,54.8 l0.2,2.0 M40.6,38.6 l-0.3,1.1 M41.6,41.3 l-0.9,1.4 M25.1,51.4 l0.3,1.4 M45.7,49.8 l0.5,0.9 M31.4,42.0 l0.9,1.0 M36.5,45.3 l-1.7,0.7 M34.4,41.1 l1.5,2.1 M36.3,33.0 l0.6,0.7 M43.3,43.0 l-2.0,0.5 M38.2,39.8 l1.1,0.1 M36.7,47.5 l-1.9,1.4 M35.6,53.0 l-2.1,0.3 M20.5,61.9 l0.4,0.7 M43.5,47.3 l-0.8,1.9 M34.5,43.3 l0.0,1.5 M46.0,50.8 l1.6,0.0 M41.7,48.0 l0.1,0.9 M38.2,34.6 l0.0,1.7 M43.8,49.9 l-0.4,2.5 M28.4,55.2 l-1.7,1.6 M40.7,45.6 l1.2,1.4 M45.6,33.7 l1.8,0.3 M32.5,52.5 l-1.6,0.0 M25.0,50.9 l-1.1,2.1 M37.5,45.8 l2.0,0.9 M29.4,48.5 l1.8,1.0 M25.7,41.4 l-1.0,0.7 M38.9,44.4 l2.3,0.6 M22.3,31.9 l0.6,1.0 M37.6,50.7 l1.5,0.4 M27.3,46.7 l2.4,0.5 M31.2,44.7 l0.4,2.3 M32.6,37.9 l-0.4,1.0 M28.0,31.4 l-1.4,0.9 M33.4,37.5 l-2.0,0.1 M38.0,51.2 l-2.0,1.2 M37.6,49.2 l-0.7,1.1 M34.4,52.0 l-1.0,0.1 M41.5,47.8 l0.2,0.9 M41.0,29.8 l-0.8,2.1 M42.8,51.5 l0.9,2.1 M26.2,52.0 l-1.9,0.5 M42.0,52.5 l-1.1,0.5 M29.4,53.6 l0.4,1.1 M44.2,39.9 l0.7,0.4 M19.7,43.6 l-1.2,1.2 M46.2,57.2 l-1.2,1.4 M43.2,59.0 l-0.4,2.0 M42.3,52.0 l0.0,2.5 M34.8,53.7 l0.5,1.4 M32.4,30.3 l0.4,1.2 M33.0,53.3 l0.6,0.9 M34.4,53.7 l0.2,1.9 M41.1,37.8 l2.0,0.2 M34.3,56.8 l1.2,0.1 M33.3,47.8 l0.9,0.6 M33.0,57.1 l-2.1,1.1 M38.3,40.3 l-0.8,0.3 M39.2,64.6 l-1.4,0.5 M44.5,56.1 l-0.5,1.1 M46.4,38.1 l0.0,1.0 M32.7,49.9 l-0.2,1.6 M39.2,42.9 l1.8,0.7 M45.9,42.3 l1.3,1.3 M28.7,55.2 l-1.0,0.0 M44.6,53.4 l0.4,1.4 M45.7,46.7 l1.1,0.3 M43.9,43.7 l0.7,1.4 M43.8,55.7 l-1.0,1.2 M40.1,51.5 l-1.3,0.5 M46.1,47.2 l0.1,1.6 M32.2,29.5 l-0.6,2.2 M36.0,47.3 l-0.0,2.2 M33.8,42.7 l0.6,1.5 M46.1,52.1 l-0.4,0.9 M41.0,57.5 l-1.9,1.6 M32.5,47.5 l1.0,1.3 M43.7,46.6 l-0.3,1.9 M41.5,34.6 l-0.0,1.4 M40.6,52.7 l-0.5,2.4 M34.7,50.5 l-1.2,1.1 M33.0,41.0 l-1.5,1.1 M36.7,45.2 l-0.5,0.9 M31.1,50.7 l1.5,1.4 M38.1,32.7 l-1.2,2.3 M32.0,50.1 l2.0,0.4 M46.8,50.9 l-1.6,0.3 M33.4,39.7 l-0.0,1.6 M41.1,47.6 l1.4,1.8 M31.7,46.6 l-2.2,1.2 M41.1,33.6 l-0.5,2.5 M37.2,44.1 l0.7,2.0 M40.7,29.2 l-1.0,0.6 M31.8,62.5 l-2.0,0.8 M27.1,50.7 l-1.4,2.1 M27.7,26.8 l0.8,1.8 M20.9,47.1 l-1.2,0.8 M33.0,46.3 l-1.0,0.5 M38.7,39.6 l-0.4,1.4 M45.0,45.9 l-0.9,1.3 M45.4,47.1 l1.0,1.0 M30.7,60.3 l2.0,1.2 M37.5,43.4 l0.9,1.3 M25.4,42.1 l1.2,1.6 M39.6,34.9 l-1.1,0.0 M34.5,41.2 l1.9,0.6 M39.2,58.1 l-1.8,0.3 M24.7,39.9 l0.1,1.1 M26.7,41.3 l1.1,0.2 M41.9,52.6 l-0.1,1.6 M33.1,46.6 l0.1,0.9 M33.7,55.5 l0.3,1.8 M32.0,37.5 l1.4,1.0 M39.5,51.0 l-0.8,1.1 M24.4,50.7 l-0.7,1.1 M38.8,48.2 l-0.3,2.4 M40.5,50.5 l-1.1,2.2 M34.8,57.5 l1.0,0.2 M27.7,28.7 l1.0,0.6 M33.8,50.5 l2.1,0.8 M22.9,37.3 l1.4,0.4 M46.7,46.7 l-0.8,2.3 M38.4,36.8 l1.4,1.0 M36.5,52.7 l0.0,1.1 M39.5,60.7 l-2.3,0.6 M33.9,53.2 l-0.7,1.4 M44.9,30.2 l-1.2,1.2 M32.5,39.7 l0.6,0.7 M29.1,44.3 l0.5,0.8 M41.3,56.0 l0.2,1.2 M44.1,37.4 l1.0,2.0 M44.2,51.5 l-2.1,1.3 M31.0,55.7 l-0.9,1.1 M34.6,35.6 l-2.5,0.2 M38.5,52.6 l-2.2,1.3 M27.4,41.4 l-0.8,0.8 M39.7,58.2 l2.1,0.9 M24.4,48.3 l1.1,1.0 M46.2,47.0 l-2.3,0.6 M34.0,60.1 l2.4,0.6 M40.0,42.7 l-0.7,0.7 M43.2,55.5 l-1.6,0.1 M41.5,33.2 l0.9,1.5 M41.3,50.4 l-0.5,1.7 M29.9,52.9 l-2.1,0.2 M31.8,43.1 l-0.0,1.2 M26.4,50.2 l-0.8,0.3 M41.1,54.5 l1.0,1.0 M43.5,54.2 l-0.8,0.9 M39.6,43.6 l-0.6,0.8 M38.7,53.4 l0.8,2.2 M40.2,38.1 l0.9,0.3 M41.5,55.7 l0.6,0.6 M25.3,54.4 l-1.5,0.9 M39.0,49.5 l-1.9,1.1 M32.7,46.9 l-1.3,2.1 M45.8,65.6 l-0.3,1.6 M45.5,48.5 l1.3,0.5 M45.7,45.7 l-0.0,0.9 M46.1,54.1 l0.2,1.0 M31.8,55.9 l-1.0,1.5 M30.1,45.9 l-0.9,1.2 M39.3,41.8 l1.1,1.5 M37.1,41.5 l-2.3,0.2 M25.4,36.7 l0.9,0.9 M32.6,39.7 l-1.6,0.6 M41.6,58.4 l0.8,1.1 M34.0,39.0 l-1.9,1.7 M36.8,42.2 l2.2,0.4 M46.7,53.7 l-0.9,2.3 M26.6,49.3 l-1.7,0.1 M20.5,59.4 l1.4,0.3 M26.6,41.6 l-1.0,2.0 M36.0,45.8 l-0.3,0.8 M34.1,42.4 l1.2,0.5 M27.4,39.2 l0.6,0.7 M36.7,53.2 l-0.7,1.3 M41.6,57.5 l1.0,1.4 M46.7,53.5 l0.1,1.2 M44.5,38.2 l-0.2,2.5 M44.5,38.3 l-1.6,0.0 M40.7,49.5 l-0.6,2.2 M22.5,41.8 l-2.3,0.0 M45.1,41.6 l-2.0,0.1" stroke="#ffffff" stroke-width="0.35" opacity="0.8" fill="none"/>
<g fill="#ffffff" opacity="0.85"><ellipse cx="37" cy="48.3" rx="2.6" ry="1.4"/><ellipse cx="34.5" cy="46" rx="1.2" ry="0.8"/><ellipse cx="43" cy="52.5" rx="1.2" ry="2.2"/><ellipse cx="42" cy="58" rx="1.5" ry="1.6"/><ellipse cx="30" cy="44.5" rx="1.3" ry="0.8"/></g><ellipse cx="37" cy="48.3" rx="1.2" ry="0.6" fill="#3cba3c"/>
<path d="M30.9,29.7 l-1.8,0.0 M31.6,32.5 l-0.2,0.8 M35.8,36.8 l-1.4,0.8 M35.4,31.0 l-0.9,0.2 M29.2,26.2 l-0.8,0.2 M45.6,36.6 l-1.5,0.3 M29.6,29.0 l1.6,1.2 M30.7,28.6 l0.8,0.9 M39.6,36.8 l-1.3,1.2 M44.3,36.6 l-0.7,0.5 M44.0,29.6 l-0.1,0.9 M31.9,33.7 l-1.7,0.0 M35.2,34.4 l1.4,0.0 M28.9,36.6 l-1.0,0.5 M28.9,37.6 l-0.8,0.2 M34.1,37.0 l-0.2,1.0 M28.1,28.6 l1.4,0.0 M34.6,29.9 l-1.0,0.9 M29.7,28.0 l-0.7,0.6 M39.2,39.9 l-1.1,0.6 M41.0,37.4 l-1.9,0.6 M45.6,30.7 l1.7,0.8 M39.5,34.3 l-0.5,1.5 M40.6,32.1 l0.7,1.6 M41.3,26.7 l-1.2,1.1 M29.0,27.3 l-0.8,0.4 M36.1,28.5 l-1.0,0.3 M37.3,31.0 l1.0,1.0 M32.2,35.3 l1.6,0.7 M44.4,34.6 l-1.4,1.0 M26.1,32.3 l1.0,1.3 M36.4,36.8 l1.1,1.4 M28.9,37.3 l0.8,0.3 M33.8,38.4 l-0.5,0.7 M26.6,38.5 l-0.3,1.5 M34.5,30.8 l-1.5,0.1 M40.6,36.7 l0.4,1.7 M31.9,29.0 l-0.9,0.0 M39.7,27.5 l-0.9,0.2 M29.8,37.5 l-1.3,0.6 M28.4,36.4 l-1.8,0.6 M28.6,36.5 l0.9,1.1 M33.2,34.5 l-1.2,0.9 M42.7,32.8 l-1.1,0.7 M26.3,29.6 l-0.8,0.4 M34.5,36.1 l0.7,0.8 M38.2,33.1 l-1.2,0.3 M38.1,28.3 l1.2,1.3 M41.1,36.4 l-1.1,1.1 M36.1,32.8 l1.5,0.2 M35.3,34.2 l0.2,1.8 M26.5,28.5 l0.4,1.6 M38.8,27.6 l0.7,0.9 M30.6,38.6 l-1.2,0.5 M37.2,37.5 l-0.7,0.8 M32.4,31.6 l-1.1,0.8 M26.8,34.0 l1.1,0.8 M38.7,29.3 l-0.6,0.8 M32.5,36.6 l-0.5,1.6 M40.9,27.6 l-0.2,1.7 M29.5,38.0 l1.2,1.4 M30.2,26.4 l1.5,0.9 M42.4,36.9 l-1.7,0.8 M35.2,39.8 l-0.3,0.8 M42.0,33.1 l1.3,0.3 M34.9,27.1 l-1.1,0.3 M37.3,37.5 l0.1,0.9 M42.4,34.5 l0.3,1.1 M43.9,29.1 l1.8,0.2 M39.9,35.7 l0.2,1.1 M27.5,29.5 l-1.6,1.1 M40.7,28.3 l-0.7,0.5 M45.9,38.6 l0.4,1.9 M27.8,36.8 l-0.8,1.6 M39.2,32.6 l1.1,1.0 M40.7,32.4 l-0.4,1.6 M30.1,32.6 l1.2,0.7 M43.2,27.4 l0.1,1.7 M38.9,35.6 l0.2,1.6 M41.2,31.1 l-1.2,0.8 M32.0,38.6 l-1.0,1.6 M40.4,32.5 l0.0,1.0 M39.6,39.2 l0.4,1.9 M39.6,26.1 l1.0,0.9 M43.1,34.4 l-1.4,0.2 M30.1,38.3 l-1.7,0.6 M28.7,30.2 l1.8,0.7 M40.3,36.7 l1.1,0.7 M42.0,31.3 l0.3,1.2 M45.9,37.2 l-0.4,0.8 M40.0,26.6 l-0.4,1.0 M40.2,40.0 l0.6,0.7 M26.9,28.8 l0.6,0.8 M41.6,31.7 l1.0,1.7 M40.8,30.3 l-0.1,0.9 M35.5,30.0 l-1.6,0.2 M31.0,33.0 l-0.6,1.7 M44.4,28.6 l-1.2,0.8 M45.4,36.5 l-1.3,0.5 M33.8,27.2 l-0.5,1.0 M40.8,36.4 l1.1,0.7 M28.2,27.5 l1.1,0.1 M36.4,34.3 l0.4,1.7 M27.7,37.4 l1.2,0.7 M28.6,31.2 l-0.6,1.1 M26.6,28.4 l-1.6,0.2 M36.9,35.5 l-1.1,0.4 M35.5,34.3 l0.9,0.2 M38.7,39.0 l-0.5,0.8 M39.5,33.0 l-1.5,0.0 M37.2,33.3 l-1.0,0.1 M44.6,36.4 l-0.6,1.7 M45.4,30.7 l-0.6,1.5 M38.8,38.0 l1.4,0.5 M26.1,28.5 l-0.3,1.3 M27.8,28.7 l2.0,0.0" stroke="#ffffff" stroke-width="0.3" opacity="0.6" fill="none"/>
<path fill="#f4bcc4" fill-opacity="0.95" d="M47.30,46.20 C47.68,46.00 49.71,46.48 50.60,46.70 C51.49,46.92 54.01,48.07 54.90,48.10 C55.79,48.13 57.63,47.35 58.20,47.00 C58.77,46.65 59.67,45.58 59.80,45.10 C59.93,44.62 59.58,43.25 59.30,42.90 C59.02,42.55 57.27,42.32 57.40,42.10 C57.53,41.88 59.86,40.84 60.40,41.00 C60.94,41.16 61.87,42.77 62.00,43.50 C62.13,44.23 61.87,46.54 61.50,47.30 C61.13,48.06 59.37,49.49 58.80,50.00 C58.23,50.51 57.31,51.19 56.60,51.70 C55.89,52.21 53.21,54.21 52.70,54.40 C52.19,54.59 52.07,53.74 52.20,53.30 C52.33,52.86 54.11,51.04 53.80,50.60 C53.48,50.16 50.26,49.76 49.50,49.50 C48.74,49.24 47.56,48.78 47.30,48.40 C47.04,48.02 46.91,46.40 47.30,46.20Z"/>
<path d="M47,48.5 l5,-1 M55,47 l4,2 M52,50 l2,2" stroke="#fff" stroke-width="0.35" fill="none"/>
<path d="M58.8,51.5 L64,55.5" stroke="#9a30e0" stroke-width="0.9"/>
<path fill="#9a30e0" fill-opacity="0.95" d="M63.50,55.40 C63.81,54.85 65.98,54.53 66.60,54.60 C67.22,54.67 68.47,55.37 68.80,56.00 C69.13,56.63 69.49,59.05 69.40,60.00 C69.31,60.95 67.52,63.46 68.00,64.10 C68.48,64.74 72.51,64.97 73.50,65.50 C74.49,66.03 76.91,68.00 76.50,68.60 C76.09,69.19 71.17,70.14 70.00,70.60 C68.83,71.05 67.21,71.91 66.50,72.50 C65.79,73.09 64.60,75.33 63.90,75.70 C63.20,76.07 61.14,76.10 60.50,75.70 C59.86,75.30 58.90,73.09 58.40,72.30 C57.90,71.51 56.48,69.81 56.20,68.90 C55.92,67.99 55.50,65.29 56.00,64.50 C56.50,63.71 59.58,62.71 60.50,62.10 C61.42,61.49 63.55,60.08 63.90,59.30 C64.25,58.52 63.19,55.95 63.50,55.40Z"/>
<path d="M60,66 l4,2 M62,70 l3,1 M65,64 l2,3" stroke="#c090f0" stroke-width="0.35" fill="none"/>
<path d="M65.9,61.5 l-1.4,0.4 M69.8,64.4 l1.5,0.3 M61.2,68.7 l0.4,0.7 M63.6,69.1 l1.7,0.2 M57.1,63.9 l0.8,0.1 M57.7,60.3 l-0.6,0.3 M59.5,60.6 l0.2,0.7 M59.1,68.3 l0.5,0.9 M59.4,67.7 l1.7,0.6 M57.2,66.1 l-1.6,0.8 M65.7,61.9 l-0.2,1.6 M68.9,74.3 l1.2,0.9 M61.7,67.6 l-0.6,0.5 M61.9,68.4 l1.3,1.1 M60.1,56.0 l-1.1,1.0 M58.6,73.9 l-0.3,0.8 M65.2,68.7 l1.1,0.0 M63.5,73.5 l-1.0,0.5 M65.9,71.1 l0.9,0.9 M59.9,59.0 l-0.4,0.6 M60.6,67.9 l0.7,0.5 M62.0,62.8 l-0.7,1.4 M67.2,68.1 l0.9,0.5 M59.3,70.0 l-0.7,0.6 M65.4,63.1 l0.8,1.0 M66.4,60.3 l-1.4,0.3 M56.4,66.5 l-0.1,0.7 M58.4,71.7 l1.0,1.0 M60.1,58.3 l0.8,0.5 M68.8,73.4 l0.6,0.1 M65.1,66.3 l0.6,0.6 M57.8,69.7 l-1.0,0.2 M62.7,72.7 l-0.2,1.8 M64.7,67.2 l0.9,0.5 M67.3,64.2 l-0.6,0.3 M65.3,60.2 l0.7,1.2 M62.5,72.6 l-0.5,0.7 M59.2,73.1 l0.5,1.5 M67.3,57.9 l-0.1,0.7 M67.6,58.9 l-0.8,0.7 M59.2,75.0 l0.9,0.5 M62.7,56.3 l1.3,0.9 M69.6,63.1 l0.0,1.1 M58.4,73.9 l-0.1,0.8 M69.3,61.9 l0.1,1.3 M63.1,63.1 l1.6,0.7 M66.3,56.3 l-1.2,0.3 M61.8,68.1 l-0.5,0.3 M59.3,74.0 l-0.3,0.7 M58.5,66.7 l0.7,1.3 M61.6,61.3 l-0.3,1.0 M60.2,61.6 l1.1,0.3 M64.2,61.1 l1.2,1.3 M64.9,70.6 l-1.0,1.1 M64.8,62.4 l1.3,0.1 M56.4,68.8 l0.1,1.0 M58.2,67.3 l-1.3,0.6 M61.6,71.7 l0.4,0.8 M64.4,60.4 l0.7,1.3 M61.3,59.7 l1.3,0.6 M62.0,69.1 l-0.8,0.8 M66.1,56.4 l0.3,1.4 M64.0,71.5 l-1.3,0.2 M57.5,71.7 l0.0,0.8 M56.5,66.3 l1.1,0.4 M59.9,72.0 l1.0,0.9 M61.1,63.0 l-1.3,0.4 M61.9,73.1 l0.3,1.2 M61.7,59.3 l0.7,0.7 M60.0,70.4 l0.7,0.0 M65.7,64.4 l-1.7,0.5 M62.2,71.0 l1.5,0.1 M57.9,60.8 l0.6,0.7 M61.5,62.6 l0.4,1.6 M62.5,57.2 l-0.9,1.2 M59.2,64.0 l-0.2,1.5 M62.3,65.0 l0.5,1.3 M69.2,70.9 l-0.2,0.6 M57.3,51.3 l0.9,0.3 M56.1,51.8 l1.1,1.0 M61.0,49.9 l-1.2,0.9 M54.7,48.9 l-0.8,1.0 M47.0,43.2 l-0.5,0.7 M60.1,46.8 l0.4,1.2 M59.4,49.5 l0.9,0.9 M59.8,44.9 l1.3,0.2 M49.4,45.7 l1.4,0.3 M53.1,53.3 l0.7,1.2 M50.3,45.2 l-1.1,1.3 M53.8,47.1 l-0.5,1.2 M51.6,49.6 l-1.1,0.5 M58.2,49.2 l0.2,1.0 M57.7,49.3 l0.2,1.3 M52.4,50.4 l-0.9,0.4 M55.5,45.4 l-1.0,0.7 M57.5,49.2 l0.2,0.7 M54.4,43.6 l-1.0,0.6 M52.0,52.3 l0.4,0.5 M57.9,52.2 l-0.4,0.7 M49.4,43.1 l1.0,0.0 M59.8,46.4 l0.9,0.6 M50.4,53.0 l-1.0,0.9 M54.8,45.3 l-0.5,1.4 M57.0,47.9 l0.6,0.0 M50.5,43.2 l-1.4,0.4 M48.9,44.2 l-0.9,0.9 M52.6,53.3 l-0.9,0.1 M50.3,51.0 l-1.8,0.3 M60.1,46.9 l1.2,0.5 M56.3,49.3 l1.4,1.0" stroke="#ffffff" stroke-width="0.35" opacity="0.75" fill="none"/>
<path d="M71,66.5 L79.5,73.5" stroke="#a8d8f0" stroke-width="0.4"/>
<polygon fill="#9fd2ee" points="78.3,73 81.7,74 80.5,75.3 78.5,74.6"/>
<polygon fill="#1a5a1a" points="70.7,60.2 75.5,59.3 74.6,61.4 71.2,61.6"/>
<path fill="#1616e8" d="M54.50,20.20 C55.14,19.56 56.50,19.44 58.00,19.80 C59.50,20.16 60.60,20.76 62.00,22.00 C63.40,23.24 64.28,24.50 65.00,26.00 C65.72,27.50 66.00,28.64 65.60,29.50 C65.20,30.36 64.32,30.30 63.00,30.30 C61.68,30.30 60.40,30.36 59.00,29.50 C57.60,28.64 56.84,27.30 56.00,26.00 C55.16,24.70 55.10,24.16 54.80,23.00 C54.50,21.84 53.86,20.84 54.50,20.20Z"/>
<path d="M53,18.2 L57,21" stroke="#1616e8" stroke-width="0.7"/>
<path d="M64.4,30 L71,38" stroke="#2a6a3a" stroke-width="0.8"/>
<path d="M57,28 l0.5,3.5 M59,29 l0.6,3.2 M61.5,29.6 l0.3,2.7" stroke="#1616e8" stroke-width="0.45"/>
<circle cx="71" cy="38.3" r="1.3" fill="#1a5a1a"/>
<path fill="#9cc43c" d="M44.60,12.40 C44.84,12.11 46.21,11.67 46.80,11.90 C47.39,12.13 48.57,13.46 49.00,14.10 C49.43,14.74 50.00,16.18 50.00,16.70 C50.00,17.22 49.23,17.52 49.00,18.00 C48.77,18.48 48.51,20.27 48.30,20.30 C48.09,20.33 47.63,18.83 47.40,18.20 C47.17,17.57 46.92,16.15 46.60,15.60 C46.28,15.05 45.27,14.53 45.00,14.10 C44.73,13.67 44.36,12.69 44.60,12.40Z"/>
<circle cx="47.3" cy="14.5" r="0.5" fill="#e8b040"/>
<path d="M14.5,71 L15.6,67.5" stroke="#b02040" stroke-width="0.5"/></g>
<g id="ucc"><g stroke="#bcbcbc" stroke-width="0.5" fill="none">
<line x1="41.6" y1="10" x2="41.6" y2="81.0"/>
<line x1="7" y1="46.4" x2="84.4" y2="46.4"/>
</g>
<g fill="#a8a8a8">
<rect x="4.0" y="20.0" width="1.3" height="0.6"/>
<rect x="4.0" y="33.300000000000004" width="1.3" height="0.6"/>
<rect x="4.0" y="58.7" width="1.3" height="0.6"/>
<rect x="4.0" y="71.7" width="1.3" height="0.6"/>
<rect x="14.1" y="80" width="0.6" height="1.0"/>
<rect x="28.099999999999998" y="80" width="0.6" height="1.0"/>
<rect x="54.300000000000004" y="80" width="0.6" height="1.0"/>
<rect x="68.4" y="80" width="0.6" height="1.0"/>
<rect x="82.0" y="80" width="0.6" height="1.0"/>
</g>
<text transform="translate(6.00,46.40) rotate(-90)" font-size="2.6" text-anchor="middle" fill="#333" textLength="8.5" lengthAdjust="spacingAndGlyphs" >UMAP_2</text>
<text x="41.40" y="82.90" font-size="2.6" text-anchor="middle" fill="#333" textLength="10.5" lengthAdjust="spacingAndGlyphs" >UMAP_1</text>
<path fill="#3cba3c" fill-opacity="0.85" d="M20.00,42.80 C20.16,42.13 20.97,39.59 21.80,38.40 C22.63,37.21 24.68,34.33 26.20,33.90 C27.72,33.47 30.76,34.60 33.20,35.20 C35.64,35.80 42.58,37.31 44.50,38.40 C46.42,39.49 47.35,41.99 47.60,43.40 C47.85,44.81 46.99,48.49 46.40,49.00 C45.81,49.51 44.29,47.20 43.20,47.20 C42.11,47.20 39.53,49.00 38.20,49.00 C36.87,49.00 34.55,48.03 33.20,47.20 C31.85,46.37 29.78,43.31 28.10,42.80 C26.42,42.29 21.68,43.40 20.60,43.40 C19.52,43.40 19.84,43.47 20.00,42.80Z"/>
<path fill="#e020e0" fill-opacity="0.85" d="M26.20,33.90 C26.35,33.09 30.57,29.93 31.90,28.90 C33.23,27.87 36.54,25.10 37.60,25.10 C38.66,25.10 40.28,28.01 41.00,28.90 C41.72,29.79 43.39,31.59 43.80,32.70 C44.21,33.81 45.15,37.96 44.50,38.40 C43.85,38.84 39.82,36.80 38.20,36.50 C36.58,36.20 32.00,36.10 30.60,35.80 C29.20,35.50 26.05,34.70 26.20,33.90Z"/>
<path fill="#f5a01a" fill-opacity="0.85" d="M18.10,50.30 C18.61,50.14 22.56,51.61 24.40,52.20 C26.24,52.79 29.90,54.19 31.90,54.70 C33.90,55.21 37.72,56.08 39.40,56.00 C41.08,55.92 43.82,53.43 44.50,54.10 C45.18,54.77 45.01,59.67 44.50,61.00 C43.99,62.33 42.05,63.43 40.70,64.10 C39.35,64.77 35.91,66.08 34.40,66.00 C32.89,65.92 30.57,64.59 29.40,63.50 C28.23,62.41 26.77,59.15 25.60,57.80 C24.43,56.45 21.60,54.40 20.60,53.40 C19.60,52.40 17.59,50.46 18.10,50.30Z"/>
<path fill="#ee1a1a" fill-opacity="0.85" d="M17.40,42.80 C17.99,41.55 21.67,40.90 23.10,40.90 C24.53,40.90 27.01,41.96 28.10,42.80 C29.19,43.64 30.62,46.12 31.30,47.20 C31.98,48.28 32.28,50.31 33.20,50.90 C34.12,51.49 37.12,51.85 38.20,51.60 C39.28,51.35 40.63,49.25 41.30,49.00 C41.97,48.75 43.03,49.11 43.20,49.70 C43.37,50.29 43.27,52.65 42.60,53.40 C41.93,54.15 39.63,55.21 38.20,55.30 C36.77,55.39 33.74,54.59 31.90,54.10 C30.06,53.61 26.16,52.11 24.40,51.60 C22.64,51.09 19.63,51.47 18.70,50.30 C17.77,49.13 16.81,44.05 17.40,42.80Z"/>
<path fill="#30dcec" fill-opacity="0.85" d="M11.10,44.60 C11.83,43.97 14.33,43.40 15.50,43.40 C16.67,43.40 17.75,43.67 18.10,44.60 C18.45,45.53 18.33,48.15 17.60,49.00 C16.87,49.85 14.78,50.00 13.70,49.70 C12.62,49.40 11.53,48.05 11.10,47.20 C10.67,46.35 10.37,45.23 11.10,44.60Z"/>
<path d="M35.1,52.3 l-1.4,0.1 M40.0,40.7 l-0.7,1.2 M35.1,43.9 l0.9,0.6 M27.4,58.6 l0.9,0.3 M41.8,39.2 l0.8,1.1 M40.5,48.0 l2.1,0.7 M38.5,59.1 l-0.3,2.4 M35.2,63.8 l-0.9,0.1 M28.9,33.7 l0.1,1.1 M33.8,58.5 l0.6,2.3 M36.5,35.5 l0.6,2.1 M34.2,48.0 l1.8,0.6 M34.3,47.7 l-0.3,1.6 M31.0,54.7 l0.8,2.1 M31.9,53.6 l-0.3,1.7 M26.6,62.0 l-2.2,0.9 M35.5,37.7 l0.6,1.2 M45.8,39.7 l0.6,2.2 M31.9,48.2 l0.6,0.7 M37.7,37.7 l-1.9,0.5 M38.6,48.8 l-1.6,1.0 M35.2,39.1 l2.2,0.7 M36.0,47.3 l0.3,1.4 M40.4,59.2 l0.7,2.0 M40.0,47.4 l0.3,0.9 M35.1,42.6 l1.1,1.7 M36.1,43.1 l-2.5,0.6 M37.2,43.2 l-1.3,0.7 M29.1,28.3 l0.9,2.4 M39.5,54.4 l0.7,0.8 M32.9,47.7 l1.6,0.3 M36.0,56.0 l-0.1,1.1 M45.5,52.7 l-2.5,0.6 M45.8,51.3 l1.2,1.4 M22.1,65.0 l-1.8,1.2 M34.5,48.9 l-0.4,1.0 M41.1,40.2 l-0.1,2.4 M30.0,60.1 l1.0,1.7 M35.7,59.3 l-1.8,1.3 M46.3,50.5 l-0.0,2.3 M33.1,47.5 l-2.2,0.5 M46.5,56.7 l1.0,1.0 M43.7,44.4 l-0.2,1.2 M40.5,55.4 l-0.4,1.9 M40.0,43.9 l-1.2,0.3 M39.4,44.6 l0.5,0.8 M29.7,52.7 l-0.7,0.8 M43.5,63.8 l-2.0,0.9 M29.7,39.6 l1.4,0.0 M37.3,59.9 l1.8,0.7 M43.7,35.8 l-0.8,1.9 M39.2,39.6 l-0.6,2.2 M41.0,30.7 l0.9,0.4 M34.6,55.9 l-1.3,1.4 M37.1,33.7 l-1.7,0.7 M40.0,58.3 l-0.1,1.1 M35.8,43.4 l1.1,0.4 M45.9,60.6 l-1.0,0.6 M23.6,62.5 l-0.1,1.2 M40.4,31.3 l0.8,0.5 M42.7,47.1 l-0.1,2.3 M27.1,49.2 l-1.8,1.8 M24.5,43.0 l1.7,0.5 M45.0,36.4 l1.1,2.1 M22.6,55.1 l1.5,1.0 M34.1,54.8 l-1.8,1.3 M41.6,44.0 l1.6,0.4 M45.9,53.2 l-0.8,0.3 M36.0,34.0 l2.1,0.2 M40.7,40.9 l-0.2,1.1 M33.3,39.7 l-0.7,1.0 M34.6,46.1 l1.6,1.0 M26.6,50.9 l0.5,2.5 M34.5,58.4 l0.7,1.9 M40.1,53.7 l0.3,1.3 M22.1,40.2 l-1.2,1.5 M28.5,55.9 l0.6,0.8 M28.5,64.7 l0.6,2.3 M40.0,54.9 l-1.1,1.7 M42.2,40.9 l1.1,1.0 M37.0,52.5 l0.5,1.5 M37.7,43.5 l0.7,0.6 M31.0,37.6 l0.1,2.2 M43.9,51.3 l-2.0,0.2 M41.9,59.7 l1.8,1.3 M29.3,62.0 l-1.9,0.4 M31.6,39.9 l0.1,1.3 M25.2,47.5 l1.0,1.2 M40.7,60.6 l0.3,1.1 M36.9,56.4 l0.8,1.3 M24.7,56.5 l-0.1,2.1 M36.2,44.8 l0.9,2.2 M26.9,48.4 l2.4,0.4 M32.0,50.2 l1.6,1.9 M35.3,48.0 l-0.8,0.8 M40.7,45.3 l1.4,2.2 M36.5,41.9 l-0.2,1.4 M46.3,46.0 l-0.8,0.5 M26.1,44.1 l0.3,1.6 M33.4,52.1 l1.2,0.2 M46.6,49.0 l1.0,1.2 M26.5,40.4 l0.6,0.8 M41.4,60.1 l-1.5,1.7 M36.9,50.8 l0.7,1.2 M33.6,33.6 l1.2,0.1 M33.5,51.8 l2.1,0.5 M37.8,54.2 l0.5,1.4 M33.8,58.8 l0.9,2.3 M36.1,45.0 l1.9,0.4 M32.4,41.8 l1.2,1.5 M38.8,30.6 l0.4,1.0 M31.2,56.6 l-0.5,1.0 M29.1,58.6 l-1.4,1.2 M43.1,36.2 l1.8,1.1 M33.0,45.7 l2.5,0.2 M34.5,49.4 l-1.5,0.6 M33.6,57.9 l-1.6,1.0 M33.9,53.9 l2.6,0.2 M46.0,58.6 l0.4,2.5 M22.9,48.8 l-0.1,1.0 M44.0,50.6 l-0.6,1.3 M45.1,36.9 l0.1,2.2 M40.4,52.4 l-2.0,1.4 M38.1,44.6 l-1.3,1.9 M45.8,55.1 l0.8,1.4 M38.9,56.2 l0.3,1.9 M38.7,49.7 l0.1,1.7 M29.1,38.8 l1.1,0.2 M41.3,29.2 l-1.4,0.2 M31.2,43.0 l-0.1,1.2 M28.8,45.2 l-0.2,0.9 M40.2,58.7 l-0.1,1.8 M46.1,59.9 l-1.2,1.7 M30.0,35.4 l-2.0,0.8 M26.7,65.6 l-2.0,0.3 M34.0,49.0 l1.3,1.4 M27.8,53.8 l1.0,0.8 M45.8,63.4 l-0.4,1.1 M28.0,38.2 l-0.3,1.1 M32.9,38.4 l-1.4,1.4 M34.8,45.9 l1.2,0.3 M21.7,42.7 l0.0,1.4 M42.2,53.0 l-0.6,0.6 M37.8,50.2 l0.8,0.8 M40.1,56.9 l-1.5,1.6 M32.8,47.0 l0.2,1.2 M34.6,60.3 l0.4,1.4 M28.4,53.1 l-0.1,1.6 M33.2,36.1 l-0.7,0.5 M35.0,38.3 l-1.0,0.1 M42.2,61.2 l-0.3,1.7 M22.4,53.3 l2.3,0.0 M46.4,38.1 l1.3,1.5 M33.3,48.4 l1.2,1.3 M33.4,51.0 l-1.0,0.1 M32.8,49.7 l0.5,1.1 M33.8,54.1 l0.1,1.2 M28.5,39.6 l-2.3,0.9 M25.0,53.4 l0.5,1.8 M35.8,52.6 l-0.1,2.3 M44.4,45.4 l-0.3,0.8 M31.9,40.1 l0.6,1.9 M30.1,40.9 l-0.9,0.6 M26.9,58.9 l1.5,1.4 M31.3,53.8 l-2.4,0.9 M42.0,42.3 l0.6,2.3 M41.7,39.3 l-2.1,0.1 M24.5,45.2 l1.5,1.7 M45.7,43.1 l0.5,1.9 M40.1,60.2 l0.4,2.1 M27.5,50.3 l-1.3,2.2 M29.9,36.8 l-2.1,0.9 M34.9,49.5 l-0.2,0.8 M34.3,52.4 l0.8,1.7 M40.7,62.3 l0.2,1.6 M37.4,50.1 l0.8,0.2 M36.0,49.1 l-1.9,0.7 M38.0,35.9 l-0.2,1.4 M33.7,52.1 l1.4,2.2 M43.2,41.9 l-0.4,0.8 M40.0,57.1 l-1.4,1.1 M45.6,58.7 l-0.9,1.3 M37.1,40.9 l-0.7,1.1 M34.2,54.0 l0.9,0.6 M35.9,64.5 l-0.0,2.2 M36.9,48.9 l0.5,1.1 M38.4,52.3 l0.2,1.3 M37.7,51.4 l0.4,1.7 M37.2,52.5 l-0.7,0.8 M36.8,53.0 l-0.8,1.4 M45.3,51.6 l-0.0,1.6 M31.1,53.6 l-1.1,0.1 M38.5,39.2 l-0.9,2.1 M39.5,39.6 l-0.7,1.4 M43.6,42.2 l-0.8,0.3 M28.7,54.1 l0.3,2.3 M44.7,62.0 l0.4,0.8 M35.8,63.7 l-2.1,0.2 M37.3,43.1 l1.0,1.6 M28.5,51.9 l-0.5,1.1 M45.9,30.8 l-1.9,0.7 M42.2,56.4 l2.1,1.5 M36.0,48.6 l0.1,1.1 M40.2,42.6 l1.1,0.5 M23.2,56.2 l0.6,0.9 M33.7,45.4 l0.5,2.3 M19.7,49.9 l1.2,2.1 M35.6,59.0 l-2.0,0.5 M40.8,60.6 l-1.8,0.8 M34.5,57.0 l0.9,0.2 M33.6,55.4 l-1.5,1.8 M32.1,29.8 l2.0,0.7 M40.8,33.6 l-1.2,0.6 M32.1,41.7 l-0.9,0.0 M34.3,54.3 l0.3,2.6 M46.4,45.8 l-2.0,1.6 M31.9,43.7 l-0.3,1.0 M40.5,43.6 l-2.1,0.0 M36.0,60.9 l2.0,0.6 M42.9,47.9 l0.7,1.2 M41.7,48.8 l-0.1,2.2 M46.0,48.7 l-0.5,1.3 M36.8,44.0 l-1.5,1.2 M36.9,39.9 l0.7,0.4 M42.4,58.4 l-0.9,1.0 M28.1,56.8 l-0.5,1.3 M31.7,35.1 l-1.6,0.2 M43.6,44.7 l1.0,0.5 M44.2,44.5 l0.8,0.4 M32.3,52.6 l0.6,2.0 M35.5,37.7 l-0.3,1.3 M26.6,33.1 l1.3,1.1 M46.7,54.5 l0.8,0.9 M35.9,41.0 l-1.0,1.0 M29.3,36.0 l0.3,2.0 M36.3,52.5 l-0.9,1.0 M37.6,42.6 l-1.8,0.8 M42.2,50.5 l-0.9,0.7 M39.3,51.3 l-1.0,0.4 M37.2,46.6 l2.0,0.5 M37.6,56.3 l-1.6,0.4 M43.5,44.9 l0.9,0.8 M33.6,51.2 l-2.1,1.1 M37.5,55.0 l-1.4,0.5 M41.7,43.5 l0.7,1.2 M24.3,46.4 l-2.1,0.5 M33.4,41.0 l1.7,1.0 M32.4,43.9 l-2.1,0.1 M36.7,61.9 l1.0,2.2 M38.3,38.8 l-1.6,0.1 M38.0,46.0 l1.2,1.9 M41.4,44.9 l1.1,1.4 M30.0,49.8 l-0.9,0.1 M36.6,44.0 l-2.4,0.6 M46.2,62.4 l1.6,0.5 M39.8,45.0 l1.7,1.4 M34.8,53.3 l1.9,1.7 M32.6,48.8 l1.1,0.0 M27.9,63.9 l-1.9,0.3 M22.3,48.3 l-0.9,0.9 M37.8,48.2 l2.1,0.3 M32.0,50.6 l-0.8,0.2 M33.4,42.6 l1.2,0.4 M26.4,42.7 l0.6,2.5 M39.7,31.7 l-2.5,0.2 M36.0,36.5 l-1.0,0.5 M28.8,34.2 l1.2,0.5 M38.7,43.6 l2.1,0.3 M43.9,50.5 l1.1,1.3 M38.8,39.1 l2.5,0.5 M30.1,53.9 l1.2,0.8 M36.4,47.4 l0.0,1.6 M29.0,40.1 l-0.0,2.2 M24.3,44.8 l1.4,1.1 M44.4,37.3 l-2.3,0.8 M41.1,36.4 l-1.1,0.1 M40.0,35.6 l-1.3,1.8 M29.9,40.6 l-1.9,0.1 M37.8,59.9 l0.2,1.5 M40.0,34.6 l-0.1,0.8 M39.0,48.4 l-1.7,1.5 M43.3,39.6 l2.0,1.1 M40.1,45.1 l1.9,0.7 M36.6,54.6 l1.1,0.3 M29.5,55.4 l0.8,1.5 M24.9,26.5 l1.2,1.4 M32.8,38.1 l-0.5,2.1 M35.4,57.2 l1.1,0.1 M37.7,48.4 l0.9,0.1 M24.6,38.7 l-2.3,0.5 M36.2,42.8 l-1.0,0.7 M20.9,49.6 l-2.3,1.1 M45.6,51.7 l-0.6,1.5 M31.4,39.8 l2.3,0.3 M40.4,49.5 l0.5,1.8 M43.9,49.1 l0.9,0.5 M41.2,41.6 l0.4,0.9 M32.1,62.1 l1.9,0.1 M37.2,54.2 l1.0,1.6 M42.0,65.1 l2.0,0.7 M39.7,64.1 l2.5,0.6 M39.4,54.2 l-1.7,1.2 M31.4,63.4 l1.0,1.9 M43.5,51.7 l-2.4,0.1 M38.7,45.2 l-0.9,1.5 M33.7,45.1 l1.7,0.4 M37.8,41.7 l0.5,1.0 M36.7,51.0 l1.5,0.7 M32.2,41.5 l-1.0,1.6 M44.0,53.1 l-1.2,0.4 M36.1,41.0 l-1.5,0.1 M33.0,45.3 l-1.4,0.3 M45.6,57.6 l-1.8,0.3 M32.0,46.8 l1.0,0.2 M38.5,58.9 l-0.7,0.5 M41.0,36.8 l-1.4,0.8 M35.8,57.1 l-0.1,1.1 M41.3,45.3 l2.4,0.2 M36.2,53.1 l-0.7,1.9 M36.1,35.3 l0.2,1.7 M25.9,56.4 l2.0,0.4 M33.4,51.5 l-1.0,1.5 M39.5,38.8 l-0.9,0.3 M30.8,50.7 l0.5,2.5 M33.6,40.1 l0.8,1.4 M39.1,58.6 l1.7,0.2 M30.5,49.9 l0.3,0.8 M41.4,44.4 l0.1,1.4 M40.3,56.4 l-1.2,0.0 M31.4,31.5 l0.1,2.1 M44.5,50.0 l-1.8,1.3 M29.7,52.4 l0.3,1.1 M35.0,60.5 l-2.4,0.3 M29.6,52.3 l1.0,0.7 M45.1,60.3 l-1.6,0.8 M29.3,40.9 l-1.7,1.6 M41.4,56.5 l-0.4,1.7 M40.3,51.1 l-1.1,0.2 M46.9,52.2 l1.9,1.0 M43.0,56.2 l1.8,1.7 M41.2,31.5 l-0.7,0.8 M29.0,55.6 l-0.5,1.9 M25.6,41.5 l-2.5,0.3 M23.9,51.9 l1.0,0.5 M39.3,63.2 l-0.3,1.0 M42.2,41.5 l-0.0,1.3 M39.7,41.0 l0.8,0.9 M43.7,44.7 l1.7,1.6 M38.9,40.9 l-1.1,1.2 M36.0,47.9 l0.6,0.9 M37.8,33.0 l-2.1,1.2 M29.1,44.5 l0.9,0.4 M33.8,61.4 l-1.7,0.3 M31.2,46.9 l0.3,1.5 M36.0,41.6 l0.1,1.9 M23.2,34.1 l0.9,1.2 M45.4,43.0 l-0.7,1.9 M39.0,39.1 l-1.3,0.8 M45.5,39.9 l0.7,2.4 M39.7,54.7 l0.1,1.5 M27.9,38.5 l-1.0,1.7 M40.1,50.6 l-1.2,0.4 M37.2,56.1 l-0.8,1.6 M34.2,43.5 l-0.6,0.7 M42.2,54.7 l1.7,1.0 M33.1,43.1 l-0.2,1.5 M41.9,34.8 l-1.1,0.1 M28.5,52.6 l2.1,0.1 M44.8,51.4 l-2.1,1.0 M34.4,29.3 l-1.0,1.0 M33.7,49.0 l-1.1,0.7 M40.8,48.3 l0.4,0.7 M28.3,52.3 l-0.0,0.9 M36.4,33.3 l-0.6,1.4 M31.5,48.0 l1.5,0.3 M33.0,37.1 l-2.0,0.9 M38.3,45.8 l-0.2,2.3 M34.9,56.4 l-1.6,0.0 M37.7,31.8 l-1.4,0.5 M25.1,45.9 l-0.9,0.1 M36.5,60.7 l-0.1,2.3 M37.4,44.4 l0.4,2.2 M45.6,37.1 l-0.3,1.9 M33.5,46.9 l-2.0,0.4 M41.6,52.3 l-2.3,0.8 M43.6,46.9 l0.0,1.0 M31.1,59.2 l0.2,1.1 M42.6,48.8 l-0.2,0.9 M26.9,41.8 l0.3,0.9 M32.5,34.7 l-1.0,1.8 M30.1,40.2 l-1.5,1.8 M36.2,65.7 l-0.4,1.0 M30.1,54.8 l-0.5,1.2 M40.6,46.9 l1.2,1.2 M37.3,63.5 l1.1,0.8 M27.9,49.8 l-1.1,1.5 M26.6,58.8 l-0.3,1.0 M24.7,49.5 l-1.3,2.0 M45.2,45.8 l-0.1,1.5 M41.0,45.4 l2.4,0.0 M39.1,63.4 l-0.8,0.3 M42.8,39.8 l-1.3,1.1 M33.0,40.3 l0.8,0.3 M44.7,61.6 l-1.5,0.6 M43.4,56.6 l1.1,0.8 M35.9,42.9 l0.7,1.4 M35.7,29.1 l-1.5,0.8 M28.5,30.6 l-0.9,0.7 M40.3,49.8 l0.4,1.8 M33.6,37.2 l-1.0,2.0 M37.0,50.7 l-1.6,1.6 M33.6,45.6 l1.1,1.7 M44.4,40.5 l0.9,0.1 M20.9,56.5 l1.3,0.4 M37.3,40.5 l1.0,0.7 M39.3,51.1 l-0.8,1.8 M37.5,49.2 l-1.6,0.5 M40.3,45.0 l2.1,0.8 M33.9,40.3 l0.5,2.0 M45.1,62.1 l-0.3,0.8 M34.1,44.4 l1.0,0.4 M41.5,55.3 l-0.9,1.1 M40.1,43.1 l-1.8,0.1 M34.0,62.8 l-1.6,1.4 M45.3,49.3 l1.2,0.7 M41.6,43.7 l1.2,1.7 M34.2,38.8 l1.0,0.3 M46.9,55.1 l-1.4,0.5 M38.3,53.1 l-1.4,0.2 M41.6,41.3 l0.6,0.9 M46.7,39.8 l0.7,0.5 M44.9,47.1 l-0.8,2.1 M37.6,53.0 l-1.4,1.2 M42.1,47.4 l-1.6,1.5 M36.6,41.6 l0.2,1.2 M35.1,38.5 l-1.2,0.8 M31.3,53.5 l0.2,1.3 M41.5,46.4 l-1.1,0.7 M41.7,42.2 l0.0,2.5 M44.8,44.0 l-1.1,0.7 M36.9,43.2 l-2.4,0.7 M37.3,33.6 l1.2,0.6 M35.9,53.1 l1.2,1.5 M35.1,51.1 l-1.1,1.9 M29.4,46.2 l0.0,1.4 M35.5,60.5 l-0.2,0.9 M44.2,45.5 l1.3,0.9 M25.1,44.4 l0.7,1.6 M25.0,56.5 l-0.4,1.4 M46.2,56.0 l-1.2,1.8 M38.6,60.0 l2.4,0.3 M38.4,53.4 l0.7,1.1 M44.3,35.6 l-1.0,0.3 M39.7,32.6 l1.1,2.2 M31.7,49.3 l-1.0,2.2 M29.5,26.2 l0.5,2.5 M36.5,48.0 l-1.3,1.3 M35.9,47.3 l0.2,1.2 M35.5,56.8 l-1.6,0.2 M44.0,57.4 l-1.4,1.4 M21.7,56.5 l0.7,0.7 M36.9,53.8 l1.2,1.1 M35.6,38.4 l0.5,1.5 M40.4,50.7 l0.9,1.8 M40.2,49.0 l1.3,1.6 M26.9,56.0 l-2.2,0.4 M47.0,42.4 l1.4,0.8 M32.9,43.7 l-0.5,1.5 M24.7,35.6 l0.1,1.5 M37.1,45.3 l1.5,0.8 M44.0,49.1 l-0.9,1.8 M27.0,35.9 l1.5,2.0 M31.1,43.9 l0.5,0.8 M34.8,41.8 l-0.3,1.1 M28.1,54.0 l2.4,0.7 M34.0,37.8 l1.2,0.2 M39.1,48.1 l1.8,1.8 M41.6,49.4 l0.9,0.1 M39.7,46.2 l-2.4,0.3 M39.8,55.2 l1.6,1.9 M46.4,54.5 l-0.4,1.7 M39.9,44.6 l0.6,0.7 M46.9,41.0 l0.0,0.9 M27.2,58.9 l0.9,1.9 M33.0,53.6 l1.9,1.1 M38.6,35.6 l1.3,1.7 M32.5,44.6 l0.7,0.6 M33.6,52.3 l-2.2,0.1 M35.0,36.4 l-2.1,1.1 M43.1,53.3 l0.3,2.1 M43.0,48.1 l-1.5,0.1 M44.4,52.4 l0.4,0.7 M37.7,37.2 l-0.3,1.0 M39.1,42.4 l-2.0,1.1 M40.2,46.3 l0.9,0.5 M44.3,45.8 l-1.1,0.1 M32.4,54.0 l1.5,1.2 M40.6,37.2 l-1.3,1.9 M39.5,50.9 l0.8,1.2 M34.3,39.1 l-0.9,0.9 M36.1,45.8 l-0.8,0.7 M37.1,48.5 l-0.2,1.1 M33.4,34.3 l-1.2,0.9 M36.4,45.1 l0.5,0.8 M40.0,56.9 l-0.1,0.8 M40.0,45.5 l-0.9,0.1 M44.8,48.0 l0.4,1.2 M42.6,33.2 l-1.1,0.4 M40.8,44.7 l0.6,1.2 M38.4,50.2 l-1.6,0.8 M22.0,49.5 l-1.5,0.2 M40.7,55.1 l-1.3,1.1 M43.5,55.8 l2.2,0.4 M46.7,51.4 l1.0,1.9 M34.1,40.0 l0.9,1.5 M33.2,37.4 l-1.7,0.0 M37.8,54.5 l-1.8,0.8 M39.7,28.0 l1.1,0.1 M36.2,47.7 l-2.1,0.9 M30.0,27.9 l-1.7,1.8 M36.3,37.4 l2.4,0.0 M33.6,31.3 l-1.2,1.7 M39.6,48.1 l0.7,0.7 M26.9,46.9 l-0.7,1.9 M36.9,45.3 l1.8,0.6 M36.0,52.7 l-0.4,0.9 M36.1,35.7 l0.6,1.4 M28.5,51.3 l-0.8,2.4 M44.6,50.5 l-2.0,0.1 M30.8,49.5 l0.7,0.9 M37.9,41.7 l-1.3,0.2 M45.3,43.6 l0.5,0.7 M44.6,48.4 l-0.7,1.9 M27.8,40.8 l2.4,0.1 M33.2,39.1 l0.5,2.5 M31.0,52.1 l1.4,1.7 M35.1,57.6 l2.1,0.7 M36.6,47.2 l0.6,1.2 M35.0,50.5 l1.7,1.9 M45.1,32.8 l0.6,0.8 M40.4,38.2 l-1.5,0.5 M34.3,39.0 l1.9,1.2 M41.0,51.4 l1.2,2.2 M31.5,46.0 l-1.6,1.1" stroke="#ffffff" stroke-width="0.35" opacity="0.8" fill="none"/>
<g fill="#ffffff" opacity="0.85"><ellipse cx="37" cy="48.3" rx="2.6" ry="1.4"/><ellipse cx="34.5" cy="46" rx="1.2" ry="0.8"/><ellipse cx="43" cy="52.5" rx="1.2" ry="2.2"/><ellipse cx="42" cy="58" rx="1.5" ry="1.6"/><ellipse cx="30" cy="44.5" rx="1.3" ry="0.8"/></g><ellipse cx="37" cy="48.3" rx="1.2" ry="0.6" fill="#3cba3c"/>
<path d="M35.6,33.3 l-1.6,0.6 M35.8,33.1 l1.7,0.6 M28.0,30.4 l-1.4,0.8 M40.0,29.2 l-0.9,0.0 M38.4,26.0 l-1.3,0.4 M42.9,27.8 l1.5,1.0 M35.5,35.2 l-0.2,0.8 M26.1,29.7 l1.0,0.2 M30.9,31.7 l0.9,0.4 M32.1,31.9 l-0.9,0.0 M28.6,33.7 l0.4,1.2 M44.3,32.3 l-1.5,0.8 M31.1,39.4 l0.6,0.9 M27.5,29.3 l0.1,1.4 M40.5,28.4 l-0.8,0.1 M33.0,39.6 l-1.3,0.5 M41.1,33.6 l1.7,0.2 M34.3,32.2 l0.5,1.7 M45.7,35.4 l0.4,1.1 M43.6,31.8 l1.0,0.0 M45.2,39.5 l-0.6,1.6 M28.3,38.4 l0.8,0.9 M40.7,26.1 l-0.2,1.3 M37.6,34.6 l-1.3,0.2 M32.3,35.2 l-1.5,0.3 M32.3,32.3 l-0.5,0.8 M34.0,29.5 l-1.2,0.4 M40.5,27.7 l0.9,1.0 M29.6,28.9 l0.4,1.6 M33.0,33.3 l-0.9,0.0 M33.3,30.3 l-0.1,0.8 M41.1,26.9 l-0.7,0.6 M44.7,32.7 l-1.2,0.2 M30.8,32.8 l-1.6,0.6 M33.1,34.1 l-1.0,0.2 M33.8,36.5 l-0.4,1.3 M44.0,37.2 l1.4,0.3 M28.2,39.8 l0.4,1.9 M37.0,29.3 l-1.8,0.3 M28.9,36.5 l1.7,0.6 M42.7,38.6 l0.9,1.1 M40.3,36.9 l0.1,1.5 M42.6,34.9 l1.9,0.1 M42.6,30.7 l1.1,0.6 M34.3,28.5 l1.6,1.0 M29.7,28.3 l0.8,0.5 M27.4,35.1 l0.2,0.8 M28.6,32.6 l-1.8,0.1 M44.6,28.7 l1.5,1.2 M42.9,35.0 l-0.0,1.8 M41.8,37.8 l1.8,0.4 M40.1,36.4 l1.6,0.8 M37.7,37.1 l-1.2,1.4 M36.7,35.1 l1.0,0.7 M37.1,39.2 l0.1,1.2 M33.6,38.7 l0.1,2.0 M38.4,38.6 l-0.4,1.9 M31.9,27.6 l-1.4,1.0 M31.9,32.2 l-1.0,1.4 M43.6,38.8 l-0.5,1.0 M42.3,37.4 l-1.4,0.7 M37.7,34.8 l0.8,1.0 M45.9,29.1 l-1.2,0.0 M36.0,27.2 l0.4,1.4 M43.3,27.3 l1.0,0.4 M42.7,33.8 l-0.0,1.1 M40.3,27.0 l0.3,0.9 M26.4,37.9 l1.4,0.4 M43.5,30.4 l1.8,0.6 M28.4,38.1 l-1.8,0.1 M33.2,39.5 l1.5,0.0 M26.8,31.7 l1.4,1.1 M28.8,39.7 l1.0,0.4 M43.3,37.9 l0.4,1.1 M28.1,35.7 l0.2,1.8 M39.2,39.3 l-0.1,1.4 M28.2,39.4 l1.1,1.5 M27.6,33.9 l1.9,0.3 M28.5,33.6 l-0.8,1.6 M34.0,30.4 l0.6,1.3 M37.2,29.0 l-1.4,0.2 M30.9,26.5 l0.9,0.8 M26.0,37.2 l-1.0,0.3 M35.3,35.7 l0.5,1.5 M38.8,34.6 l-1.2,1.5 M37.2,29.8 l-1.1,1.3 M32.6,32.3 l0.5,1.5 M26.2,27.5 l0.8,0.6 M38.1,39.6 l0.8,0.3 M35.9,28.4 l-1.0,0.8 M38.8,39.5 l-1.5,1.3 M41.5,30.3 l0.8,0.0 M36.8,28.3 l0.7,0.6 M35.5,39.4 l1.1,0.4 M38.3,35.2 l-0.9,0.0 M28.4,29.6 l-0.7,0.5 M27.0,39.0 l1.8,0.1 M43.1,28.2 l-0.7,0.6 M42.5,31.9 l-1.3,1.4 M45.3,27.0 l-0.8,0.5 M29.5,31.8 l-0.7,1.6 M39.4,33.8 l-0.4,0.8 M38.5,37.8 l1.5,1.0 M35.5,35.7 l-0.7,1.8 M40.9,28.1 l-1.7,0.1 M44.9,32.9 l-0.6,1.8 M32.9,30.4 l-0.6,0.7 M45.8,29.2 l0.9,0.4 M35.9,29.0 l1.5,1.1 M29.9,37.1 l0.1,1.7 M30.6,36.5 l1.1,0.3 M27.4,26.1 l-1.4,1.4 M32.2,38.8 l-1.2,0.3 M38.0,36.3 l0.6,1.6 M26.4,33.5 l-1.2,1.5 M39.2,27.5 l-0.8,0.3 M30.3,27.0 l0.2,1.9 M31.6,39.9 l-0.2,0.9 M43.5,32.3 l0.2,1.2 M34.8,27.8 l-0.9,1.5 M38.8,35.6 l1.3,0.1 M26.8,26.1 l0.6,1.0 M26.3,29.7 l-1.4,0.4 M44.1,27.9 l1.2,0.2 M36.2,28.5 l0.5,1.9 M45.9,26.4 l-0.8,0.9 M28.7,38.6 l1.5,0.6 M38.3,39.3 l-1.3,0.2 M30.8,38.6 l0.1,1.0 M33.6,26.4 l-1.3,0.0 M26.1,33.3 l0.1,1.1 M43.9,31.7 l0.8,1.8 M39.2,26.3 l1.7,0.5 M43.4,38.1 l2.0,0.1 M42.2,29.2 l0.0,0.8 M39.9,29.6 l-0.1,0.9 M27.8,34.5 l0.6,0.6 M30.2,35.8 l0.6,0.7" stroke="#ffffff" stroke-width="0.3" opacity="0.6" fill="none"/>
<path fill="#f4bcc4" fill-opacity="0.85" d="M47.30,46.20 C47.68,46.00 49.71,46.48 50.60,46.70 C51.49,46.92 54.01,48.07 54.90,48.10 C55.79,48.13 57.63,47.35 58.20,47.00 C58.77,46.65 59.67,45.58 59.80,45.10 C59.93,44.62 59.58,43.25 59.30,42.90 C59.02,42.55 57.27,42.32 57.40,42.10 C57.53,41.88 59.86,40.84 60.40,41.00 C60.94,41.16 61.87,42.77 62.00,43.50 C62.13,44.23 61.87,46.54 61.50,47.30 C61.13,48.06 59.37,49.49 58.80,50.00 C58.23,50.51 57.31,51.19 56.60,51.70 C55.89,52.21 53.21,54.21 52.70,54.40 C52.19,54.59 52.07,53.74 52.20,53.30 C52.33,52.86 54.11,51.04 53.80,50.60 C53.48,50.16 50.26,49.76 49.50,49.50 C48.74,49.24 47.56,48.78 47.30,48.40 C47.04,48.02 46.91,46.40 47.30,46.20Z"/>
<path d="M47,48.5 l5,-1 M55,47 l4,2 M52,50 l2,2" stroke="#fff" stroke-width="0.35" fill="none"/>
<path d="M58.8,51.5 L64,55.5" stroke="#9a30e0" stroke-width="0.9"/>
<path fill="#9a30e0" fill-opacity="0.85" d="M63.50,55.40 C63.81,54.85 65.98,54.53 66.60,54.60 C67.22,54.67 68.47,55.37 68.80,56.00 C69.13,56.63 69.49,59.05 69.40,60.00 C69.31,60.95 67.52,63.46 68.00,64.10 C68.48,64.74 72.51,64.97 73.50,65.50 C74.49,66.03 76.91,68.00 76.50,68.60 C76.09,69.19 71.17,70.14 70.00,70.60 C68.83,71.05 67.21,71.91 66.50,72.50 C65.79,73.09 64.60,75.33 63.90,75.70 C63.20,76.07 61.14,76.10 60.50,75.70 C59.86,75.30 58.90,73.09 58.40,72.30 C57.90,71.51 56.48,69.81 56.20,68.90 C55.92,67.99 55.50,65.29 56.00,64.50 C56.50,63.71 59.58,62.71 60.50,62.10 C61.42,61.49 63.55,60.08 63.90,59.30 C64.25,58.52 63.19,55.95 63.50,55.40Z"/>
<path d="M60,66 l4,2 M62,70 l3,1 M65,64 l2,3" stroke="#c090f0" stroke-width="0.35" fill="none"/>
<path d="M58.8,57.1 l0.3,0.6 M63.5,56.2 l-0.2,0.9 M63.6,58.8 l0.2,1.3 M56.7,72.8 l-0.5,0.8 M65.5,64.6 l-1.1,0.1 M61.4,66.8 l0.6,0.8 M58.0,57.4 l-0.1,1.7 M62.2,66.1 l0.6,0.4 M68.7,58.2 l0.1,0.8 M68.8,60.9 l0.6,0.3 M56.8,68.6 l0.7,1.4 M57.5,61.1 l1.2,0.7 M65.8,56.1 l0.0,0.7 M69.1,66.2 l0.8,0.2 M58.2,71.9 l0.6,0.7 M57.3,61.5 l-0.1,1.7 M61.9,69.1 l-1.5,0.4 M62.0,65.7 l0.9,0.8 M64.1,60.8 l1.1,0.3 M67.5,66.1 l0.5,1.0 M59.6,59.0 l0.5,0.7 M56.4,69.5 l0.4,0.7 M57.9,66.6 l-0.5,0.6 M57.8,56.5 l-1.0,0.2 M61.7,64.8 l1.0,1.4 M69.2,58.5 l0.1,0.9 M57.4,66.0 l-0.9,0.2 M60.5,58.9 l-0.4,0.5 M61.9,57.6 l-0.3,1.3 M61.8,73.0 l0.2,1.7 M61.8,64.1 l1.4,0.9 M67.9,60.8 l0.2,0.6 M59.1,71.9 l1.3,0.3 M68.3,70.8 l-0.9,0.4 M62.4,60.7 l-1.1,0.6 M66.0,73.5 l-0.4,0.7 M64.7,61.9 l0.5,1.1 M60.5,61.7 l1.2,1.1 M67.5,67.9 l0.7,0.9 M69.3,74.0 l0.9,0.8 M65.6,68.1 l1.0,0.7 M62.8,74.8 l-0.6,0.5 M67.1,69.8 l0.8,0.7 M57.6,62.5 l-0.8,1.3 M62.3,60.9 l0.4,0.5 M57.9,74.6 l1.5,0.5 M56.4,73.2 l-0.7,0.6 M69.3,65.4 l0.7,0.3 M59.4,61.8 l0.7,0.4 M61.7,68.4 l0.8,0.4 M69.5,63.5 l-0.9,0.6 M67.6,70.3 l-0.9,0.6 M58.1,57.6 l-0.5,0.4 M62.6,67.5 l0.5,1.4 M66.5,60.5 l-0.0,1.4 M58.9,62.9 l-0.4,0.9 M67.9,57.3 l-0.2,0.7 M67.5,73.7 l-1.2,0.3 M65.0,68.6 l-0.1,0.8 M69.4,63.1 l-0.7,0.0 M59.1,65.1 l-0.3,1.2 M58.8,57.3 l0.3,1.1 M56.7,63.7 l0.1,0.8 M64.5,72.6 l-0.4,0.6 M69.4,60.6 l-0.9,0.7 M57.0,59.7 l0.4,1.5 M62.7,56.5 l-1.2,0.9 M69.9,74.1 l0.3,0.7 M69.0,58.6 l1.5,0.0 M67.9,67.9 l-0.9,1.1 M59.5,65.5 l-0.4,0.4 M65.4,71.3 l-1.3,0.1 M59.2,74.9 l-0.8,0.2 M61.3,63.0 l1.0,0.9 M65.6,74.0 l-0.3,1.5 M62.8,61.3 l0.5,1.3 M58.1,61.1 l0.5,0.4 M60.6,64.0 l-0.6,0.2 M56.9,66.3 l0.6,1.6 M66.1,60.7 l-0.9,1.2 M65.6,58.0 l0.4,1.4 M57.9,62.8 l0.3,0.9 M66.6,70.8 l0.5,0.3 M61.7,73.4 l0.4,1.0 M64.8,58.1 l1.1,0.2 M66.5,60.2 l-0.8,1.6 M57.8,64.4 l-0.1,0.7 M58.0,62.6 l-0.2,0.7 M57.7,63.0 l-1.4,0.3 M64.6,57.5 l1.5,0.7 M68.2,59.3 l-1.7,0.1 M62.8,60.2 l-0.6,0.5 M65.2,68.5 l-0.8,0.9 M58.5,74.1 l0.9,1.4 M62.7,69.8 l0.2,0.7 M63.6,60.4 l-0.4,0.6 M61.2,62.6 l-0.2,0.8 M63.4,71.5 l0.7,0.7 M67.5,67.2 l-0.7,0.6 M64.9,73.6 l0.1,1.4 M62.9,72.1 l-1.5,0.1 M68.3,71.9 l-1.0,0.9 M63.4,62.9 l0.9,0.7 M69.7,60.4 l0.8,0.2 M59.5,59.9 l-1.4,0.2 M65.9,59.7 l0.9,0.8 M62.6,67.4 l-0.2,1.8 M56.5,74.4 l1.4,0.5 M57.4,46.1 l0.5,0.4 M51.7,49.3 l1.2,0.5 M56.4,50.3 l1.3,0.5 M50.2,52.0 l0.7,0.4 M47.4,46.1 l0.9,0.5 M52.2,49.2 l0.4,0.8 M54.7,46.8 l0.9,0.5 M47.0,43.0 l0.7,0.5 M48.7,44.9 l-1.6,0.7 M48.6,49.9 l0.6,0.3 M48.9,45.1 l0.7,0.4 M48.4,45.4 l0.8,0.3 M55.7,43.2 l-0.7,0.3 M54.2,47.1 l1.6,0.7 M50.4,50.4 l-1.0,0.6 M50.5,50.9 l-0.0,0.9 M56.6,46.6 l-0.4,1.6 M58.3,50.5 l1.0,0.5 M54.8,44.2 l-0.8,0.2 M50.1,44.0 l1.1,0.1 M51.2,53.0 l-0.6,1.4 M61.0,46.3 l0.8,0.4 M60.8,45.7 l0.5,0.4 M50.2,50.3 l-0.4,1.1 M56.6,50.4 l0.6,0.6 M58.5,48.5 l-0.7,0.7 M52.8,49.6 l1.2,0.8 M57.3,44.7 l-1.0,0.2 M54.8,46.7 l-0.6,0.8 M55.2,43.4 l0.8,1.1 M47.8,53.0 l0.2,1.2 M47.2,45.4 l0.5,1.1 M52.2,47.1 l-0.7,0.1 M58.4,51.1 l-0.8,0.3 M56.2,51.4 l-0.1,0.8 M60.0,50.6 l1.4,0.7 M56.6,47.9 l-1.2,0.6 M50.0,52.7 l-0.5,0.7 M56.2,51.9 l-1.0,0.4 M49.4,50.0 l-0.3,1.6 M60.2,49.1 l0.4,0.7 M55.2,44.3 l1.3,1.2 M58.8,46.4 l0.6,1.7 M52.3,49.0 l-0.6,0.9 M57.9,52.1 l-1.5,0.4" stroke="#ffffff" stroke-width="0.35" opacity="0.75" fill="none"/>
<path d="M71,66.5 L79.5,73.5" stroke="#a8d8f0" stroke-width="0.4"/>
<polygon fill="#9fd2ee" points="78.3,73 81.7,74 80.5,75.3 78.5,74.6"/>
<polygon fill="#1a5a1a" points="70.7,60.2 75.5,59.3 74.6,61.4 71.2,61.6"/>
<path fill="#1616e8" d="M54.50,20.20 C55.14,19.56 56.50,19.44 58.00,19.80 C59.50,20.16 60.60,20.76 62.00,22.00 C63.40,23.24 64.28,24.50 65.00,26.00 C65.72,27.50 66.00,28.64 65.60,29.50 C65.20,30.36 64.32,30.30 63.00,30.30 C61.68,30.30 60.40,30.36 59.00,29.50 C57.60,28.64 56.84,27.30 56.00,26.00 C55.16,24.70 55.10,24.16 54.80,23.00 C54.50,21.84 53.86,20.84 54.50,20.20Z"/>
<path d="M53,18.2 L57,21" stroke="#1616e8" stroke-width="0.7"/>
<path d="M64.4,30 L71,38" stroke="#2a6a3a" stroke-width="0.8"/>
<path d="M57,28 l0.5,3.5 M59,29 l0.6,3.2 M61.5,29.6 l0.3,2.7" stroke="#1616e8" stroke-width="0.45"/>
<circle cx="71" cy="38.3" r="1.3" fill="#1a5a1a"/>
<path fill="#9cc43c" d="M44.60,12.40 C44.84,12.11 46.21,11.67 46.80,11.90 C47.39,12.13 48.57,13.46 49.00,14.10 C49.43,14.74 50.00,16.18 50.00,16.70 C50.00,17.22 49.23,17.52 49.00,18.00 C48.77,18.48 48.51,20.27 48.30,20.30 C48.09,20.33 47.63,18.83 47.40,18.20 C47.17,17.57 46.92,16.15 46.60,15.60 C46.28,15.05 45.27,14.53 45.00,14.10 C44.73,13.67 44.36,12.69 44.60,12.40Z"/>
<circle cx="47.3" cy="14.5" r="0.5" fill="#e8b040"/>
<path d="M14.5,71 L15.6,67.5" stroke="#b02040" stroke-width="0.5"/></g>
<g id="un"><g stroke="#bcbcbc" stroke-width="0.5" fill="none">
<line x1="41.7" y1="86" x2="41.7" y2="159.6"/>
<line x1="0" y1="125.3" x2="85.8" y2="125.3"/>
</g>
<g fill="#a8a8a8">
<rect x="3.3" y="99.7" width="1.3" height="0.6"/>
<rect x="3.3" y="112.0" width="1.3" height="0.6"/>
<rect x="3.3" y="137.29999999999998" width="1.3" height="0.6"/>
<rect x="3.3" y="149.7" width="1.3" height="0.6"/>
<rect x="13.2" y="158" width="0.6" height="1.0"/>
<rect x="27.0" y="158" width="0.6" height="1.0"/>
<rect x="56.1" y="158" width="0.6" height="1.0"/>
<rect x="70.4" y="158" width="0.6" height="1.0"/>
<rect x="84.8" y="158" width="0.6" height="1.0"/>
</g>
<text transform="translate(2.80,125.00) rotate(-90)" font-size="2.6" text-anchor="middle" fill="#333" textLength="8.5" lengthAdjust="spacingAndGlyphs" >UMAP_2</text>
<text x="41.50" y="161.50" font-size="2.6" text-anchor="middle" fill="#333" textLength="10.5" lengthAdjust="spacingAndGlyphs" >UMAP_1</text>
<path fill="#0e3590" d="M8.90,124.60 C9.09,123.87 10.94,122.71 12.30,121.90 C13.66,121.09 17.55,119.59 19.10,118.50 C20.65,117.41 22.53,114.89 23.90,113.70 C25.27,112.51 27.95,110.79 29.40,109.60 C30.85,108.41 33.61,105.53 34.80,104.80 C35.99,104.07 37.47,103.65 38.30,104.10 C39.13,104.55 40.19,107.47 41.00,108.20 C41.81,108.93 43.85,108.68 44.40,109.60 C44.95,110.52 44.74,113.82 45.10,115.10 C45.46,116.38 46.65,117.84 47.10,119.20 C47.55,120.56 48.50,123.75 48.50,125.30 C48.50,126.85 47.55,129.16 47.10,130.80 C46.65,132.44 45.74,135.96 45.10,137.60 C44.46,139.24 43.21,142.19 42.30,143.10 C41.39,144.01 39.75,144.40 38.30,144.40 C36.85,144.40 32.87,143.82 31.40,143.10 C29.93,142.38 28.57,140.28 27.30,139.00 C26.03,137.72 23.35,134.78 21.90,133.50 C20.45,132.22 17.87,130.21 16.40,129.40 C14.93,128.59 11.90,128.04 10.90,127.40 C9.90,126.76 8.71,125.33 8.90,124.60Z"/>
<path fill="#0e3590" d="M47.50,124.20 C48.10,123.98 52.07,125.68 53.00,125.80 C53.93,125.92 56.11,125.59 56.80,125.40 C57.49,125.21 59.48,124.24 59.90,123.90 C60.32,123.56 61.12,122.23 61.00,122.00 C60.88,121.77 58.96,121.72 58.70,121.60 C58.44,121.48 58.05,120.99 58.40,120.80 C58.75,120.61 61.71,119.66 62.20,119.70 C62.69,119.74 63.22,120.67 63.30,121.20 C63.38,121.73 63.19,124.31 63.00,125.00 C62.81,125.69 61.86,127.56 61.40,128.10 C60.94,128.64 59.16,129.87 58.40,130.40 C57.64,130.93 54.42,133.14 53.80,133.40 C53.18,133.66 52.16,133.23 52.20,133.00 C52.24,132.77 54.42,131.52 54.20,131.10 C53.98,130.68 50.72,129.11 50.00,128.80 C49.28,128.49 47.25,128.46 47.00,128.00 C46.75,127.54 46.90,124.42 47.50,124.20Z"/>
<path fill="#0e3590" d="M45.50,91.10 C45.64,90.82 47.03,90.82 47.50,91.10 C47.97,91.38 49.99,93.35 50.20,93.90 C50.41,94.45 49.73,96.06 49.60,96.60 C49.47,97.14 49.04,99.37 48.90,99.30 C48.76,99.23 48.48,96.44 48.20,95.90 C47.92,95.36 46.37,94.38 46.10,93.90 C45.83,93.42 45.36,91.38 45.50,91.10Z"/>
<path fill="#0e3590" d="M56.10,99.00 C56.65,98.20 58.03,97.77 59.00,97.90 C59.97,98.03 60.93,98.93 61.90,99.80 C62.87,100.67 63.98,102.02 64.80,103.10 C65.62,104.18 66.53,105.42 66.80,106.30 C67.07,107.18 66.82,107.98 66.40,108.40 C65.98,108.82 64.92,108.60 64.30,108.80 C63.68,109.00 63.30,109.47 62.70,109.60 C62.10,109.73 61.25,109.80 60.70,109.60 C60.15,109.40 60.02,108.95 59.40,108.40 C58.78,107.85 57.62,107.25 57.00,106.30 C56.38,105.35 55.85,103.92 55.70,102.70 C55.55,101.48 55.55,99.80 56.10,99.00Z"/>
<path d="M54.2,97.3 L57.5,99 M65.5,107.5 L72.3,115.8 M59.8,108.5 l0.5,2.2 M63.5,108.5 l0.6,3" stroke="#0e3590" stroke-width="1.1" fill="none"/>
<ellipse cx="73.4" cy="116.9" rx="1.9" ry="1.4" fill="#0e3590"/>
<path fill="#0e3590" d="M56.20,143.20 C56.39,142.72 58.78,141.38 59.60,140.80 C60.42,140.22 63.73,138.07 64.40,137.40 C65.07,136.73 65.87,134.53 66.30,134.10 C66.73,133.67 68.27,133.05 68.70,133.10 C69.13,133.15 70.41,134.07 70.60,134.60 C70.79,135.13 70.65,137.78 70.60,138.40 C70.55,139.02 69.86,140.70 70.10,140.80 C70.34,140.90 72.47,139.64 73.00,139.40 C73.53,139.16 74.92,138.50 75.40,138.40 C75.88,138.30 77.66,138.26 77.80,138.40 C77.94,138.54 77.14,139.61 76.80,139.80 C76.46,139.99 74.78,140.06 74.40,140.30 C74.02,140.54 73.05,141.86 73.00,142.20 C72.95,142.54 74.00,143.41 73.90,143.70 C73.80,143.99 72.48,144.77 72.00,145.10 C71.52,145.43 69.53,146.47 69.10,147.00 C68.67,147.53 68.17,149.78 67.70,150.40 C67.23,151.02 65.02,152.87 64.40,153.20 C63.78,153.53 61.98,153.84 61.50,153.70 C61.02,153.56 59.75,152.28 59.60,151.80 C59.45,151.32 60.19,149.52 60.00,148.90 C59.81,148.28 58.08,146.17 57.70,145.60 C57.32,145.03 56.01,143.68 56.20,143.20Z"/>
<path d="M73,142.2 L78.7,148 L81.6,150.4" stroke="#0e3590" stroke-width="0.9" fill="none"/>
<ellipse cx="82.5" cy="151.8" rx="1.9" ry="1.6" fill="#0e3590"/>
<path d="M61.4,128.8 L64.5,131.9 M62.6,129.3 l2.5,3.4" stroke="#0e3590" stroke-width="0.9"/>
<path d="M13,148 L14.3,145" stroke="#0e3590" stroke-width="0.8"/>
<clipPath id="mainclip3"><path d="M8.90,124.60 C9.09,123.87 10.94,122.71 12.30,121.90 C13.66,121.09 17.55,119.59 19.10,118.50 C20.65,117.41 22.53,114.89 23.90,113.70 C25.27,112.51 27.95,110.79 29.40,109.60 C30.85,108.41 33.61,105.53 34.80,104.80 C35.99,104.07 37.47,103.65 38.30,104.10 C39.13,104.55 40.19,107.47 41.00,108.20 C41.81,108.93 43.85,108.68 44.40,109.60 C44.95,110.52 44.74,113.82 45.10,115.10 C45.46,116.38 46.65,117.84 47.10,119.20 C47.55,120.56 48.50,123.75 48.50,125.30 C48.50,126.85 47.55,129.16 47.10,130.80 C46.65,132.44 45.74,135.96 45.10,137.60 C44.46,139.24 43.21,142.19 42.30,143.10 C41.39,144.01 39.75,144.40 38.30,144.40 C36.85,144.40 32.87,143.82 31.40,143.10 C29.93,142.38 28.57,140.28 27.30,139.00 C26.03,137.72 23.35,134.78 21.90,133.50 C20.45,132.22 17.87,130.21 16.40,129.40 C14.93,128.59 11.90,128.04 10.90,127.40 C9.90,126.76 8.71,125.33 8.90,124.60Z"/></clipPath>
<g clip-path="url(#mainclip3)">
<path d="M20.6,125.8 l-0.5,1.5 M28.9,137.5 l-0.4,0.8 M34.9,138.7 l-1.2,1.2 M29.0,132.8 l-1.3,1.6 M26.2,136.0 l-2.0,0.4 M15.5,109.4 l-1.3,0.1 M34.6,116.0 l0.4,1.1 M33.1,127.4 l-1.1,1.8 M44.6,126.8 l1.5,1.2 M32.6,115.4 l-2.0,1.0 M15.2,136.0 l1.0,0.5 M39.7,138.9 l-0.2,0.6 M37.9,117.2 l-1.4,0.1 M47.9,116.4 l-0.2,0.6 M25.6,122.4 l-0.7,1.4 M32.1,128.8 l-0.0,1.3 M37.9,113.5 l-1.4,0.1 M31.7,104.5 l-0.2,0.6 M34.2,129.3 l-0.5,1.2 M36.5,118.1 l-0.4,0.5 M23.5,118.6 l0.6,1.4 M20.6,111.5 l-0.4,0.6 M27.8,138.2 l0.8,1.4 M43.9,122.0 l1.3,0.5 M35.1,136.3 l1.0,0.4 M40.6,114.8 l0.3,1.2 M26.7,140.8 l2.1,0.0 M43.7,143.5 l-2.1,0.3 M35.9,124.8 l0.5,0.8 M14.5,127.5 l-0.6,0.4 M44.5,131.7 l-1.9,0.7 M30.9,120.6 l-0.4,1.1 M21.1,138.5 l-0.9,0.7 M41.0,136.9 l-0.8,1.8 M13.8,114.9 l-0.1,1.3 M29.0,135.1 l0.8,0.1 M42.8,107.4 l0.6,0.9 M25.0,111.6 l1.4,0.6 M37.8,119.2 l1.0,0.6 M33.8,135.3 l-1.3,0.9 M27.5,118.9 l-0.8,1.0 M37.0,122.4 l-0.2,1.7 M14.6,121.0 l-2.0,0.8 M21.4,122.6 l-1.4,0.9 M43.9,135.7 l-1.0,1.1 M15.7,127.5 l1.7,0.8 M13.6,107.7 l-0.8,0.3 M12.8,137.7 l-1.5,0.8 M30.4,132.6 l-1.5,1.5 M41.8,113.7 l1.1,1.1 M39.1,119.7 l0.4,1.1 M27.1,107.3 l-1.3,0.1 M39.2,131.0 l0.1,1.6 M44.3,110.0 l-1.5,1.5 M30.6,121.7 l0.9,0.6 M19.2,127.4 l1.3,1.1 M46.3,115.8 l0.5,1.9 M33.0,114.7 l1.4,0.1 M25.8,110.9 l1.0,1.6 M17.2,143.6 l-0.4,1.3 M42.0,136.9 l0.1,1.8 M42.8,120.0 l-1.3,0.2 M20.7,111.6 l1.4,1.0 M42.9,140.0 l-1.0,0.5 M27.2,133.2 l1.9,0.6 M36.3,104.3 l0.3,1.3 M26.1,125.8 l1.1,1.3 M15.5,141.7 l-1.4,1.2 M46.6,130.9 l1.3,0.5 M33.5,126.2 l0.1,1.1 M39.2,125.7 l0.4,0.9 M25.8,138.9 l-0.0,1.0 M39.7,118.2 l0.4,1.4 M39.8,118.1 l1.0,0.4 M38.2,111.4 l0.5,1.7 M41.4,133.9 l1.1,0.5 M46.2,119.3 l-0.4,1.6 M47.2,131.5 l-1.2,0.6 M33.6,133.1 l-1.2,1.1 M29.7,124.9 l1.2,0.8 M34.4,106.0 l0.5,0.5 M31.4,141.2 l-1.6,0.7 M45.4,132.6 l0.9,1.7 M45.5,138.5 l-1.0,1.0 M15.9,105.7 l0.7,0.5 M29.9,132.0 l0.4,1.6 M37.9,118.7 l-0.1,1.5 M20.1,104.1 l-0.6,0.5 M28.6,111.8 l1.1,0.6 M18.1,105.1 l1.2,0.7 M14.1,104.9 l0.5,1.7 M13.8,120.1 l2.1,0.2 M19.9,107.8 l1.4,0.8 M24.5,109.0 l-0.7,0.8 M40.4,122.6 l0.6,0.8 M46.9,127.7 l0.7,0.1 M18.1,105.5 l-1.0,1.8 M19.2,143.0 l-1.7,1.2 M45.8,105.4 l-0.7,2.0 M16.1,119.6 l-1.1,1.8 M42.1,126.1 l0.5,1.1 M20.3,135.2 l0.6,0.7 M37.9,128.2 l0.5,1.3 M17.5,132.4 l0.2,1.8 M36.4,107.9 l-1.4,0.8 M43.6,138.9 l-1.7,0.6 M24.0,118.8 l0.7,2.0 M15.8,126.8 l1.6,0.4 M20.7,106.0 l-0.7,1.4 M19.9,126.5 l-1.2,1.0 M40.4,125.4 l0.6,0.4 M41.7,108.5 l-0.9,0.1 M44.2,107.4 l1.5,1.2 M34.2,129.7 l-1.1,0.5 M33.7,121.8 l-1.3,0.8 M41.3,112.2 l0.2,1.8 M14.8,117.8 l1.4,0.3 M38.5,120.9 l-0.3,0.9 M24.6,143.8 l0.2,0.7 M38.1,139.0 l-0.7,2.0 M31.3,120.7 l-2.0,0.6 M29.4,134.9 l-2.1,0.0 M22.5,141.4 l1.7,0.5 M13.5,133.8 l0.2,1.1 M38.7,133.9 l1.0,0.3 M26.8,107.1 l-1.3,1.2 M25.4,110.5 l0.2,1.4 M31.5,118.4 l0.8,1.0 M43.9,136.3 l1.4,1.3 M12.4,109.3 l-0.1,0.9 M47.3,105.4 l1.3,0.1 M24.2,106.1 l1.1,0.3 M20.9,136.1 l0.5,0.5 M44.9,136.3 l1.7,0.7 M40.4,124.4 l-0.2,1.0 M44.3,140.2 l-1.0,1.8 M41.3,128.1 l-0.1,0.9 M31.7,120.3 l0.3,1.9 M28.3,142.4 l0.8,1.2 M45.5,128.5 l-0.3,1.4 M29.6,115.2 l-0.7,0.2 M36.1,118.9 l-2.0,0.7 M46.0,116.7 l0.5,0.6 M21.0,143.2 l0.7,0.6 M42.2,129.2 l1.1,0.0 M46.6,106.8 l0.1,1.0 M31.7,105.9 l-0.8,0.1 M36.3,129.9 l1.8,0.3 M31.2,119.3 l0.7,2.1 M22.1,109.3 l1.1,0.5 M44.9,107.1 l-2.2,0.4 M47.3,113.8 l-1.4,0.2 M37.3,116.5 l0.8,1.6 M40.1,126.8 l-0.2,1.3 M31.2,137.3 l-0.6,2.0 M42.2,110.7 l0.6,0.4 M30.9,134.6 l-0.2,1.3 M17.3,128.0 l-0.0,1.2 M42.1,115.5 l0.5,0.6 M30.0,133.3 l-0.5,0.9 M46.8,122.1 l-0.2,2.0 M47.5,125.1 l-0.3,0.7 M14.1,138.2 l-1.2,0.1 M25.0,116.0 l0.4,1.1 M35.5,139.0 l0.9,0.4 M25.4,128.6 l1.1,0.3 M22.2,105.2 l-1.4,0.4 M38.5,137.1 l-1.3,0.4 M33.6,107.4 l0.3,0.5 M42.0,111.3 l0.5,1.3 M36.9,107.3 l-1.6,1.5 M14.4,104.4 l0.5,2.0 M41.8,117.3 l-0.5,1.9 M19.3,119.7 l-0.3,0.6 M45.7,124.9 l0.9,0.3 M28.9,138.3 l1.4,1.7 M35.8,125.1 l1.2,1.6 M42.9,133.5 l1.3,0.2 M16.3,140.5 l0.7,0.6 M13.4,124.0 l-1.7,0.9 M14.1,120.1 l0.8,0.5 M21.5,131.8 l0.9,0.3 M27.9,126.6 l-0.6,0.8 M36.1,128.4 l-0.9,0.9 M31.4,127.9 l0.1,0.7 M40.3,138.4 l-0.3,1.0 M44.4,131.4 l-1.8,1.2 M24.5,143.8 l1.5,0.9 M29.2,125.6 l0.2,1.4 M33.0,137.0 l1.7,0.5 M31.9,116.1 l-1.4,0.5 M38.5,118.0 l-0.2,1.0 M37.1,126.5 l1.4,0.5 M23.5,133.0 l0.3,0.9 M26.7,127.1 l1.4,0.2 M19.3,124.2 l1.4,0.5 M45.2,138.7 l0.2,0.7 M16.2,141.9 l0.2,1.0 M30.4,112.0 l-1.9,0.1 M38.4,140.1 l-1.1,1.4 M23.8,134.5 l-0.5,0.9 M30.3,118.9 l-1.0,1.0 M36.7,121.1 l1.0,1.1 M33.1,119.5 l1.4,0.8 M19.6,134.3 l-1.9,0.3 M38.2,118.9 l-0.3,1.8 M45.2,112.1 l-1.8,0.1 M29.4,133.5 l-0.2,1.7 M33.7,110.4 l-0.8,1.9 M17.0,104.3 l-1.0,0.8 M21.5,132.0 l1.1,1.3 M18.1,105.3 l1.1,1.8 M15.7,136.1 l-1.1,0.8 M36.0,117.1 l0.3,1.9 M24.4,113.2 l1.1,0.3 M32.6,125.8 l0.4,0.5 M13.0,117.6 l-0.2,1.0 M39.4,128.1 l-1.0,1.1 M27.4,116.3 l-1.1,0.8 M34.4,121.5 l-0.9,0.0 M25.2,144.0 l0.0,1.4 M20.9,141.0 l1.4,0.0 M23.0,122.9 l0.5,0.7 M13.6,142.6 l1.7,0.5 M31.1,134.8 l-0.3,0.7 M36.3,124.5 l0.7,0.0 M36.3,141.0 l-0.9,1.2 M21.3,122.9 l0.7,1.5 M38.8,142.3 l0.9,0.7 M34.0,113.7 l0.8,0.3 M32.3,117.6 l1.8,0.2 M39.0,118.5 l0.6,0.7 M35.1,133.1 l-1.0,0.9 M25.6,124.1 l1.0,0.7 M35.3,132.6 l1.7,1.2 M40.8,132.5 l1.7,0.8 M46.1,115.7 l-1.2,0.4 M27.2,116.6 l-1.0,0.2 M12.7,142.0 l0.8,2.0 M20.3,140.0 l0.5,0.8 M31.5,126.4 l-0.0,1.1 M42.2,141.4 l-0.6,0.4 M21.0,112.1 l-2.0,0.2 M44.9,126.3 l0.2,0.7 M44.6,114.6 l-0.9,0.2 M45.2,116.4 l1.9,0.7 M33.4,114.0 l-0.2,0.6 M43.4,117.8 l0.4,0.7 M23.4,125.7 l0.5,0.9 M29.5,135.1 l-1.0,0.9 M29.3,119.3 l-1.1,0.6 M25.0,118.6 l-0.2,1.4 M29.8,122.1 l-0.6,0.7 M18.3,135.8 l1.4,0.4 M42.2,137.8 l-0.7,0.0 M28.3,133.8 l-1.7,0.0 M43.5,125.9 l-0.7,0.3 M15.1,137.2 l-0.3,0.6 M19.6,132.6 l-0.1,2.1 M34.3,134.7 l0.9,0.0 M31.3,142.8 l-0.2,0.8 M42.5,121.8 l-0.4,0.7 M38.2,136.0 l0.6,0.8 M17.9,140.0 l0.5,1.3 M37.1,116.7 l-1.4,1.2 M38.3,127.8 l-1.3,0.2 M19.8,108.0 l-0.4,1.1 M46.1,130.0 l-0.8,1.4 M34.2,123.8 l0.1,1.9 M18.9,135.4 l-0.6,0.3 M29.5,121.7 l0.8,0.6 M12.0,111.1 l-1.3,0.2 M32.4,115.6 l-1.4,0.9 M12.1,121.6 l1.8,0.3 M33.1,123.9 l-0.1,1.1" stroke="#ffffff" stroke-width="0.4" opacity="0.75" fill="none"/>
<ellipse cx="28" cy="124" rx="2" ry="1.1" fill="#fff"/>
<ellipse cx="36.2" cy="126.7" rx="1.9" ry="1.4" fill="none" stroke="#fff" stroke-width="0.8"/>
<path d="M41.5,137 L45.5,128.5 L44.5,134.5 Z M40,140 l2,-3 M43,131 l1,-4" fill="#fff" stroke="#fff" stroke-width="0.6" opacity="0.9"/>
<path d="M31,125 q2,-2 3,1 M33,130 q2,1 4,0 M38,121 l2,1 M30,118 l1.5,1 M39,108 l1,2 M24,121 l1.2,0.8 M35,135 l1.5,1.5" stroke="#fff" stroke-width="0.5" fill="none" opacity="0.85"/>
<path d="M14.3,126.5 l0.5,1.0 M24.5,106.3 l0.7,0.1 M15.4,137.5 l-0.2,0.7 M37.6,129.5 l1.3,0.3 M20.2,142.9 l0.7,0.4 M21.0,137.9 l-1.0,0.6 M17.4,121.9 l-0.3,0.5 M45.2,137.1 l-1.2,0.3 M34.2,142.1 l0.6,0.6 M16.4,112.7 l-0.5,0.4 M38.8,120.7 l-1.2,0.5 M36.7,137.3 l0.8,0.1 M25.3,121.9 l-0.7,1.3 M38.6,140.4 l-0.5,0.7 M30.3,133.7 l-0.8,0.5 M24.8,128.7 l1.1,1.0 M12.0,130.0 l0.0,0.7 M32.5,123.5 l-1.5,0.2 M33.1,138.2 l-0.6,0.2 M41.8,136.8 l-1.3,0.0 M26.1,113.6 l-0.3,0.6 M39.3,127.3 l-0.8,0.5 M22.9,139.5 l-0.4,0.8 M32.2,122.1 l-0.5,1.0 M22.3,142.2 l-1.2,0.5 M22.0,113.2 l-0.9,1.1 M35.5,113.9 l-0.7,0.8 M25.4,127.8 l0.2,1.2 M39.1,142.4 l1.1,0.4 M46.0,130.3 l-0.4,1.4 M13.1,135.3 l-0.4,1.1 M23.2,128.9 l1.0,0.4 M21.3,140.5 l-0.8,0.6 M39.2,120.2 l-0.1,0.7 M42.9,134.3 l-0.4,0.4 M41.5,106.4 l-0.2,1.0 M14.1,121.6 l-1.1,0.4 M23.3,136.1 l0.7,1.3 M26.4,108.9 l-0.6,0.1 M21.1,134.5 l1.0,0.4 M42.9,127.8 l0.6,1.2 M41.7,127.4 l-0.3,0.8 M26.7,142.7 l-0.5,0.0 M19.1,114.3 l-0.6,0.4 M18.1,134.3 l1.4,0.8 M28.4,139.2 l-0.6,0.4 M40.3,121.4 l0.4,0.4 M37.3,126.8 l0.8,1.2 M19.1,122.5 l0.9,0.2 M43.8,124.5 l0.7,0.4 M35.2,116.3 l-0.5,0.2 M43.3,129.0 l-0.8,0.5 M14.5,112.4 l-0.2,0.5 M16.0,134.9 l-1.3,0.5 M42.1,126.5 l-1.2,0.5 M32.1,121.8 l0.6,0.0 M21.0,123.1 l1.5,0.6 M32.8,133.4 l-0.7,0.2 M43.9,141.4 l0.4,0.5 M40.8,138.9 l-0.8,0.6 M33.7,110.2 l0.7,0.6 M38.8,109.3 l-0.5,0.1 M46.9,114.8 l-1.2,0.8 M46.4,123.4 l-0.5,0.7 M42.0,110.0 l-1.1,0.4 M14.2,140.8 l0.3,0.5 M21.3,107.0 l0.8,1.0 M47.6,129.4 l-1.3,0.6 M37.7,120.2 l0.5,0.5 M31.7,113.6 l-0.6,0.6 M32.9,126.2 l-0.3,0.6 M21.2,131.5 l1.0,0.8 M46.7,120.4 l-1.2,0.1 M46.0,125.5 l-0.9,0.9 M19.0,125.2 l-0.3,1.0 M35.8,139.6 l-1.1,0.8 M17.2,132.0 l-0.6,1.4 M12.1,112.4 l-0.9,0.1 M37.4,127.9 l0.3,0.9 M32.2,142.5 l-0.1,1.4 M22.9,132.3 l-0.4,1.2 M43.7,109.0 l-1.2,0.1 M21.4,123.2 l0.7,0.2 M42.2,132.3 l-0.6,0.3 M15.9,120.0 l0.0,1.3 M22.7,133.3 l-0.2,0.8 M40.4,108.7 l-0.2,0.7 M13.5,123.7 l-0.1,1.2 M25.5,140.4 l-0.5,0.4 M12.2,141.5 l0.2,0.6 M18.4,131.9 l0.8,0.5 M36.4,119.0 l-0.7,1.4 M40.5,129.2 l-0.3,0.8 M35.1,130.0 l-0.3,1.0 M39.1,113.6 l-1.0,1.2 M13.3,115.3 l-0.6,0.0 M41.4,127.5 l1.2,0.3 M12.3,137.4 l0.9,1.2 M44.3,111.1 l0.2,0.6 M39.3,109.5 l0.6,0.1 M42.9,115.1 l0.5,0.8 M31.9,121.3 l-0.9,0.1 M29.1,137.9 l0.5,0.5 M42.1,117.7 l-1.3,0.5 M25.4,118.3 l1.4,0.5 M27.9,118.7 l0.6,0.4 M43.5,110.8 l-0.2,1.2 M30.7,124.6 l0.2,0.7 M41.6,139.2 l-0.2,0.8 M44.8,113.5 l1.0,0.6 M41.9,127.2 l1.5,0.5 M17.6,118.7 l-1.4,0.1 M39.2,108.8 l-0.8,0.4 M12.4,135.2 l-0.5,0.1 M28.3,139.4 l0.4,0.7 M40.0,122.3 l-1.4,0.0 M42.9,132.2 l1.0,0.7 M32.8,123.9 l-0.2,0.8 M19.1,139.8 l0.3,0.6 M47.2,124.9 l-0.5,0.7 M17.4,118.3 l-0.7,0.4 M44.8,117.3 l-0.7,0.2 M28.0,110.8 l1.0,0.5 M25.1,125.9 l0.7,0.5 M23.6,139.2 l0.9,0.2 M42.8,127.2 l1.1,1.1 M15.9,111.1 l1.0,0.1 M42.9,116.4 l0.9,1.1 M14.8,106.6 l-0.3,0.5 M31.0,111.4 l-0.5,1.4 M28.3,116.1 l-0.5,1.2 M14.0,114.9 l0.4,1.0 M21.8,130.4 l1.0,1.1 M24.7,114.2 l0.6,0.2 M19.8,138.7 l0.3,1.0 M46.5,141.8 l-0.6,0.5 M23.8,124.7 l0.6,0.6 M19.7,114.9 l-0.8,0.8 M28.0,123.5 l-0.4,1.2 M12.8,137.2 l0.1,0.9 M46.5,134.0 l0.2,0.5 M27.7,122.3 l0.2,0.6 M32.8,115.4 l-0.8,0.7 M22.5,136.6 l0.1,0.6 M22.1,107.9 l0.3,1.5 M45.9,130.1 l0.7,0.4 M19.3,119.8 l-0.2,0.5 M29.6,121.7 l-0.7,1.2 M26.3,128.3 l0.7,0.8 M34.9,107.9 l-0.0,1.1 M18.6,115.2 l-0.8,0.5 M18.9,116.5 l-0.1,0.9 M24.6,117.9 l0.8,0.7 M33.6,109.3 l-0.2,0.8 M47.2,140.7 l1.2,0.5 M24.4,110.1 l-1.4,0.6 M40.3,129.6 l-1.1,0.1 M36.3,130.1 l-1.3,0.6 M23.0,113.7 l-0.2,1.1 M24.7,137.8 l-1.1,0.6 M31.3,131.7 l1.1,0.8 M16.6,139.4 l-0.3,0.7 M18.9,128.2 l0.1,1.3 M15.5,138.4 l0.2,1.0 M38.6,128.4 l0.1,0.8 M28.8,107.2 l1.0,1.0 M16.3,109.2 l-0.8,0.4 M31.1,127.7 l-0.5,0.7 M39.7,106.0 l-0.7,0.4 M34.5,117.2 l-0.6,0.6 M33.7,117.9 l-1.2,0.7 M19.2,134.0 l-0.7,0.1 M18.9,140.4 l-0.6,0.1 M39.9,140.4 l0.9,1.0 M22.7,135.1 l-0.0,1.0 M16.5,130.1 l-0.5,0.7 M13.6,109.4 l1.1,1.2 M38.8,139.2 l-0.5,0.5 M25.9,141.1 l-1.4,0.7 M41.5,132.3 l-1.1,1.0 M27.5,107.2 l0.3,0.4 M21.8,127.8 l0.5,0.6 M15.4,119.3 l-0.1,1.1 M45.9,108.6 l0.4,0.4 M45.5,129.4 l-0.7,1.2 M12.1,139.4 l0.6,1.0 M26.5,133.6 l0.5,0.7 M21.0,132.8 l0.1,0.7 M24.8,127.0 l0.4,1.1 M42.3,129.7 l-0.7,0.5 M43.3,140.8 l-0.0,0.5 M15.1,134.0 l-1.2,0.5 M30.3,126.0 l1.1,0.4 M48.0,113.6 l-0.5,1.4 M35.4,119.0 l1.0,0.9 M45.4,138.5 l0.4,1.3 M41.2,119.9 l-0.7,0.6 M19.2,106.0 l-0.9,1.0 M13.5,108.3 l0.4,0.6 M38.3,113.0 l-0.3,1.1 M24.6,137.6 l0.2,1.0 M36.0,121.0 l1.3,0.9 M39.1,126.2 l0.0,1.2 M22.6,108.7 l-0.2,1.5 M15.6,142.3 l0.6,1.5 M39.7,116.1 l1.2,0.9 M47.3,135.8 l-0.3,1.1 M40.2,136.4 l-0.7,0.4 M41.8,141.3 l-0.1,0.5 M18.8,130.1 l0.4,1.5 M35.1,131.9 l1.0,0.5 M37.6,139.9 l-0.8,0.2 M30.1,142.2 l0.6,0.2 M18.5,133.1 l0.7,1.1 M41.8,135.9 l1.2,0.2 M40.7,132.0 l-1.3,0.6 M34.1,138.0 l-0.1,0.6 M22.3,140.5 l0.5,0.9 M43.4,131.4 l-0.8,0.6 M30.3,108.9 l0.5,0.4 M31.3,125.5 l1.2,0.3 M15.7,120.3 l1.0,0.1 M17.2,140.8 l0.6,1.3 M27.9,118.1 l-0.7,0.4 M30.5,129.7 l-1.3,0.0 M13.8,122.9 l-1.4,0.2 M25.3,110.8 l0.9,1.0 M18.5,139.0 l0.8,0.9 M37.0,115.0 l-0.1,1.2 M21.7,125.7 l-0.6,1.4 M22.2,112.4 l-0.0,1.2 M29.5,139.8 l0.9,0.6 M29.0,113.3 l0.1,1.0 M25.5,134.6 l-1.6,0.1 M19.9,119.8 l-0.6,0.1 M15.2,108.4 l-1.0,0.1 M27.6,109.6 l-1.5,0.6 M36.8,139.8 l-0.2,0.8 M18.5,117.2 l0.8,0.4 M13.7,107.5 l-1.4,0.5 M41.3,119.0 l0.2,1.1 M40.3,117.2 l-0.0,1.1 M42.3,118.9 l0.9,0.0 M43.8,112.5 l-0.2,0.6 M21.8,129.1 l0.9,0.3 M33.1,120.4 l-1.0,1.0 M22.1,134.1 l-0.8,0.8 M33.3,127.0 l-0.9,0.9 M21.8,130.1 l-0.6,0.8 M44.3,117.6 l-0.2,1.1 M33.7,112.8 l-0.3,0.5 M31.2,122.7 l-0.8,1.2 M47.4,114.5 l-1.0,0.3 M30.2,107.5 l-0.7,0.3 M22.0,117.3 l0.6,0.5 M22.4,125.7 l0.6,1.2 M45.6,140.5 l0.5,1.2 M38.4,132.8 l0.2,0.7 M39.3,130.3 l0.6,1.1 M14.4,135.0 l-1.5,0.5 M16.1,131.6 l-0.5,0.4 M34.0,113.0 l0.4,0.3 M22.1,137.4 l-0.4,1.3 M46.9,111.6 l-1.3,0.7 M35.4,118.4 l0.8,0.5 M25.4,115.6 l-0.6,1.0 M21.3,112.4 l0.0,1.3 M36.0,129.7 l-1.3,0.4 M27.9,133.6 l-0.4,0.8 M18.0,120.0 l-0.8,1.0 M22.9,126.0 l1.1,0.3 M28.2,134.4 l-0.5,0.2 M46.7,112.3 l-1.6,0.2 M20.0,116.8 l1.3,0.7 M39.2,141.8 l-0.7,0.5 M39.9,119.2 l0.5,0.8 M37.2,117.7 l-0.2,1.1 M40.6,123.4 l0.3,1.1 M28.6,133.1 l0.7,0.2 M13.4,121.3 l-1.0,0.5 M34.9,140.6 l-0.7,0.4 M20.0,125.9 l0.9,0.8 M14.9,120.5 l-0.5,0.6 M17.4,133.7 l1.2,0.9 M34.1,138.9 l-0.1,1.0 M21.3,108.1 l-0.7,0.1 M14.9,140.5 l-0.1,1.1 M45.1,133.1 l0.6,0.6 M35.6,131.2 l0.6,0.5 M30.3,108.2 l-1.0,0.7 M17.4,127.4 l-0.2,0.6 M27.5,135.3 l0.2,1.3 M20.4,142.9 l-0.6,1.0 M12.4,119.2 l1.0,0.0 M18.4,115.0 l0.4,0.5 M22.2,124.6 l1.0,0.5 M46.2,132.7 l-0.6,0.1 M35.8,114.9 l-1.0,0.2 M38.0,134.7 l0.6,0.2 M41.2,136.3 l0.1,0.5" stroke="#c8c040" stroke-width="0.4" opacity="0.85" fill="none"/>
</g>
<path d="M57.2,107.8 l-0.6,0.9 M63.1,107.9 l1.5,0.0 M65.8,108.6 l-1.1,0.4 M62.5,100.3 l-1.1,0.8 M60.6,99.5 l0.9,0.6 M65.3,104.2 l-0.8,0.3 M59.3,101.6 l1.0,1.2 M60.3,102.5 l-0.6,1.0 M64.9,106.7 l-1.0,0.6 M60.6,104.0 l-1.7,0.1 M62.1,104.4 l1.6,0.4 M62.5,103.5 l1.0,0.6 M63.4,102.0 l0.8,0.9 M61.5,99.1 l1.0,0.2 M63.4,103.2 l0.9,0.0 M58.8,107.4 l1.3,1.2 M59.6,101.0 l1.2,0.1 M61.6,107.6 l-0.6,1.1 M57.5,109.2 l0.6,0.6 M58.6,105.5 l-0.5,0.9 M59.3,99.1 l-0.4,1.4 M58.1,101.7 l-1.0,1.0 M58.2,109.9 l-0.9,1.1 M59.9,109.6 l0.2,1.3 M65.8,108.2 l0.6,0.4 M58.9,100.3 l-1.2,0.4 M61.3,103.1 l0.0,1.1 M63.5,103.6 l-1.5,0.7 M64.8,107.2 l0.9,0.6 M64.6,102.9 l-0.2,0.8 M64.4,102.7 l0.7,1.4 M57.8,99.1 l0.3,1.1 M58.0,103.3 l-1.2,1.1 M65.3,107.7 l1.0,0.2 M61.0,99.3 l-0.7,0.6 M64.0,106.4 l0.7,0.8 M61.0,101.1 l1.1,0.0 M59.1,101.8 l-1.2,0.9 M60.7,99.3 l-0.7,0.6 M57.9,107.3 l-0.9,0.3 M68.4,150.9 l-0.1,1.0 M61.0,134.5 l-1.5,0.5 M61.5,146.3 l1.2,0.9 M65.2,147.2 l-0.1,0.7 M68.8,146.4 l0.6,0.1 M63.1,147.7 l-1.1,0.1 M74.3,147.5 l0.7,0.9 M74.1,143.2 l-0.0,1.5 M60.8,142.7 l-0.1,1.3 M71.2,139.2 l0.1,1.1 M60.0,148.9 l-1.3,0.2 M65.8,141.0 l0.2,1.0 M63.2,152.0 l0.3,0.8 M70.5,134.1 l0.6,1.1 M73.6,139.8 l1.7,0.3 M58.2,141.9 l-0.1,1.8 M64.8,138.6 l0.7,0.8 M60.8,151.1 l-0.1,1.5 M63.3,146.7 l-0.8,0.2 M76.2,139.4 l-1.1,1.3 M66.8,151.7 l0.4,1.1 M75.6,145.4 l0.8,0.1 M68.2,140.5 l1.6,0.3 M64.2,151.2 l0.3,0.7 M66.0,149.7 l-1.2,0.4 M62.8,144.0 l0.7,0.8 M58.1,134.3 l-1.5,0.3 M62.6,145.7 l1.6,0.2 M69.6,147.7 l0.2,1.1 M73.5,140.0 l0.7,0.2 M75.4,139.3 l1.3,0.3 M60.5,142.1 l-0.7,0.6 M66.0,151.7 l-1.5,0.7 M58.7,152.5 l-0.1,0.8 M76.7,136.3 l-0.6,0.0 M59.5,143.0 l-0.4,1.2 M73.5,136.1 l-0.6,0.7 M76.1,145.9 l-0.4,0.6 M75.4,139.5 l0.9,0.7 M72.9,140.1 l0.1,1.3 M62.7,136.3 l0.4,1.4 M70.9,138.0 l-0.8,1.4 M71.4,137.5 l1.8,0.2 M71.5,139.2 l-0.9,0.9 M70.0,140.8 l-0.5,0.9 M65.3,140.2 l-1.1,1.2 M63.5,135.4 l1.1,1.1 M64.8,134.2 l-1.0,0.5 M59.3,148.2 l-0.0,1.6 M73.9,149.6 l-1.0,0.4 M73.4,143.4 l-0.4,0.8 M69.9,135.4 l-0.7,0.3 M68.8,150.0 l-1.4,0.8 M66.1,135.3 l-1.0,0.0 M74.4,141.8 l0.2,1.2 M68.4,148.8 l-0.2,0.8 M68.1,135.8 l-0.7,0.4 M64.9,145.2 l0.8,1.5 M73.1,140.3 l0.3,1.4 M67.7,146.1 l0.6,1.1 M69.3,151.1 l0.7,1.4 M62.1,139.5 l1.3,1.1 M59.8,139.5 l0.1,1.4 M70.6,136.3 l0.5,1.4 M60.7,136.3 l-0.5,0.3 M59.5,137.6 l-0.9,0.5 M66.2,144.3 l-0.6,0.2 M61.7,141.6 l-0.3,0.7 M66.3,144.8 l1.0,0.2 M59.2,151.3 l0.8,0.0 M69.7,138.4 l-0.2,1.0 M76.8,144.8 l0.4,0.7 M67.1,148.7 l-0.9,1.1 M67.8,151.8 l0.4,1.2 M76.2,149.0 l0.1,1.5 M72.7,139.6 l0.5,1.4 M65.1,140.7 l-0.1,0.7 M63.0,152.7 l1.1,1.1 M58.1,139.8 l-0.0,1.0 M75.9,152.2 l0.5,0.6 M75.5,149.1 l-0.0,0.7 M58.2,147.1 l-0.6,1.0 M64.3,139.2 l0.4,1.0 M69.6,141.9 l0.4,0.8 M70.6,151.8 l1.3,0.8 M70.3,138.4 l1.5,0.7 M60.8,136.3 l1.5,0.4 M65.2,134.0 l0.8,0.9 M67.0,136.8 l-1.3,0.7 M63.2,140.1 l0.4,0.4 M57.1,123.6 l-0.8,1.4 M52.8,123.7 l0.5,1.1 M48.7,125.1 l0.4,0.6 M60.5,129.1 l0.0,0.7 M58.9,124.9 l-1.3,0.5 M51.6,129.8 l-0.3,1.0 M59.9,124.3 l0.6,0.3 M57.2,123.6 l0.6,0.3 M59.6,123.6 l-1.5,0.7 M60.3,122.9 l-1.3,0.2 M60.7,131.8 l0.6,0.9 M61.5,123.8 l0.6,0.2 M56.3,124.0 l-0.6,0.1 M54.0,129.3 l-0.5,1.5 M57.7,131.3 l-1.6,0.2 M57.0,125.2 l-0.1,0.9 M51.8,126.8 l0.2,1.0 M49.3,132.8 l0.6,1.0 M53.2,127.2 l-1.3,1.1 M57.0,132.2 l0.5,1.1 M53.1,132.6 l0.8,0.3 M59.5,123.1 l1.0,0.2 M55.0,125.9 l0.8,0.7 M52.3,122.3 l-0.0,0.9 M50.9,132.1 l-1.0,0.4" stroke="#ffffff" stroke-width="0.35" opacity="0.7" fill="none"/></g>
<g id="unb"><g stroke="#bcbcbc" stroke-width="0.5" fill="none">
<line x1="41.7" y1="86" x2="41.7" y2="159.6"/>
<line x1="0" y1="125.3" x2="85.8" y2="125.3"/>
</g>
<g fill="#a8a8a8">
<rect x="3.3" y="99.7" width="1.3" height="0.6"/>
<rect x="3.3" y="112.0" width="1.3" height="0.6"/>
<rect x="3.3" y="137.29999999999998" width="1.3" height="0.6"/>
<rect x="3.3" y="149.7" width="1.3" height="0.6"/>
<rect x="13.2" y="158" width="0.6" height="1.0"/>
<rect x="27.0" y="158" width="0.6" height="1.0"/>
<rect x="56.1" y="158" width="0.6" height="1.0"/>
<rect x="70.4" y="158" width="0.6" height="1.0"/>
<rect x="84.8" y="158" width="0.6" height="1.0"/>
</g>
<text transform="translate(2.80,125.00) rotate(-90)" font-size="2.6" text-anchor="middle" fill="#333" textLength="8.5" lengthAdjust="spacingAndGlyphs" >UMAP_2</text>
<text x="41.50" y="161.50" font-size="2.6" text-anchor="middle" fill="#333" textLength="10.5" lengthAdjust="spacingAndGlyphs" >UMAP_1</text>
<path fill="#0e3590" d="M8.90,124.60 C9.09,123.87 10.94,122.71 12.30,121.90 C13.66,121.09 17.55,119.59 19.10,118.50 C20.65,117.41 22.53,114.89 23.90,113.70 C25.27,112.51 27.95,110.79 29.40,109.60 C30.85,108.41 33.61,105.53 34.80,104.80 C35.99,104.07 37.47,103.65 38.30,104.10 C39.13,104.55 40.19,107.47 41.00,108.20 C41.81,108.93 43.85,108.68 44.40,109.60 C44.95,110.52 44.74,113.82 45.10,115.10 C45.46,116.38 46.65,117.84 47.10,119.20 C47.55,120.56 48.50,123.75 48.50,125.30 C48.50,126.85 47.55,129.16 47.10,130.80 C46.65,132.44 45.74,135.96 45.10,137.60 C44.46,139.24 43.21,142.19 42.30,143.10 C41.39,144.01 39.75,144.40 38.30,144.40 C36.85,144.40 32.87,143.82 31.40,143.10 C29.93,142.38 28.57,140.28 27.30,139.00 C26.03,137.72 23.35,134.78 21.90,133.50 C20.45,132.22 17.87,130.21 16.40,129.40 C14.93,128.59 11.90,128.04 10.90,127.40 C9.90,126.76 8.71,125.33 8.90,124.60Z"/>
<path fill="#0e3590" d="M47.50,124.20 C48.10,123.98 52.07,125.68 53.00,125.80 C53.93,125.92 56.11,125.59 56.80,125.40 C57.49,125.21 59.48,124.24 59.90,123.90 C60.32,123.56 61.12,122.23 61.00,122.00 C60.88,121.77 58.96,121.72 58.70,121.60 C58.44,121.48 58.05,120.99 58.40,120.80 C58.75,120.61 61.71,119.66 62.20,119.70 C62.69,119.74 63.22,120.67 63.30,121.20 C63.38,121.73 63.19,124.31 63.00,125.00 C62.81,125.69 61.86,127.56 61.40,128.10 C60.94,128.64 59.16,129.87 58.40,130.40 C57.64,130.93 54.42,133.14 53.80,133.40 C53.18,133.66 52.16,133.23 52.20,133.00 C52.24,132.77 54.42,131.52 54.20,131.10 C53.98,130.68 50.72,129.11 50.00,128.80 C49.28,128.49 47.25,128.46 47.00,128.00 C46.75,127.54 46.90,124.42 47.50,124.20Z"/>
<path fill="#0e3590" d="M45.50,91.10 C45.64,90.82 47.03,90.82 47.50,91.10 C47.97,91.38 49.99,93.35 50.20,93.90 C50.41,94.45 49.73,96.06 49.60,96.60 C49.47,97.14 49.04,99.37 48.90,99.30 C48.76,99.23 48.48,96.44 48.20,95.90 C47.92,95.36 46.37,94.38 46.10,93.90 C45.83,93.42 45.36,91.38 45.50,91.10Z"/>
<path fill="#0e3590" d="M56.10,99.00 C56.65,98.20 58.03,97.77 59.00,97.90 C59.97,98.03 60.93,98.93 61.90,99.80 C62.87,100.67 63.98,102.02 64.80,103.10 C65.62,104.18 66.53,105.42 66.80,106.30 C67.07,107.18 66.82,107.98 66.40,108.40 C65.98,108.82 64.92,108.60 64.30,108.80 C63.68,109.00 63.30,109.47 62.70,109.60 C62.10,109.73 61.25,109.80 60.70,109.60 C60.15,109.40 60.02,108.95 59.40,108.40 C58.78,107.85 57.62,107.25 57.00,106.30 C56.38,105.35 55.85,103.92 55.70,102.70 C55.55,101.48 55.55,99.80 56.10,99.00Z"/>
<path d="M54.2,97.3 L57.5,99 M65.5,107.5 L72.3,115.8 M59.8,108.5 l0.5,2.2 M63.5,108.5 l0.6,3" stroke="#0e3590" stroke-width="1.1" fill="none"/>
<ellipse cx="73.4" cy="116.9" rx="1.9" ry="1.4" fill="#0e3590"/>
<path fill="#0e3590" d="M56.20,143.20 C56.39,142.72 58.78,141.38 59.60,140.80 C60.42,140.22 63.73,138.07 64.40,137.40 C65.07,136.73 65.87,134.53 66.30,134.10 C66.73,133.67 68.27,133.05 68.70,133.10 C69.13,133.15 70.41,134.07 70.60,134.60 C70.79,135.13 70.65,137.78 70.60,138.40 C70.55,139.02 69.86,140.70 70.10,140.80 C70.34,140.90 72.47,139.64 73.00,139.40 C73.53,139.16 74.92,138.50 75.40,138.40 C75.88,138.30 77.66,138.26 77.80,138.40 C77.94,138.54 77.14,139.61 76.80,139.80 C76.46,139.99 74.78,140.06 74.40,140.30 C74.02,140.54 73.05,141.86 73.00,142.20 C72.95,142.54 74.00,143.41 73.90,143.70 C73.80,143.99 72.48,144.77 72.00,145.10 C71.52,145.43 69.53,146.47 69.10,147.00 C68.67,147.53 68.17,149.78 67.70,150.40 C67.23,151.02 65.02,152.87 64.40,153.20 C63.78,153.53 61.98,153.84 61.50,153.70 C61.02,153.56 59.75,152.28 59.60,151.80 C59.45,151.32 60.19,149.52 60.00,148.90 C59.81,148.28 58.08,146.17 57.70,145.60 C57.32,145.03 56.01,143.68 56.20,143.20Z"/>
<path d="M73,142.2 L78.7,148 L81.6,150.4" stroke="#0e3590" stroke-width="0.9" fill="none"/>
<ellipse cx="82.5" cy="151.8" rx="1.9" ry="1.6" fill="#0e3590"/>
<path d="M61.4,128.8 L64.5,131.9 M62.6,129.3 l2.5,3.4" stroke="#0e3590" stroke-width="0.9"/>
<path d="M13,148 L14.3,145" stroke="#0e3590" stroke-width="0.8"/>
<clipPath id="mainclip4"><path d="M8.90,124.60 C9.09,123.87 10.94,122.71 12.30,121.90 C13.66,121.09 17.55,119.59 19.10,118.50 C20.65,117.41 22.53,114.89 23.90,113.70 C25.27,112.51 27.95,110.79 29.40,109.60 C30.85,108.41 33.61,105.53 34.80,104.80 C35.99,104.07 37.47,103.65 38.30,104.10 C39.13,104.55 40.19,107.47 41.00,108.20 C41.81,108.93 43.85,108.68 44.40,109.60 C44.95,110.52 44.74,113.82 45.10,115.10 C45.46,116.38 46.65,117.84 47.10,119.20 C47.55,120.56 48.50,123.75 48.50,125.30 C48.50,126.85 47.55,129.16 47.10,130.80 C46.65,132.44 45.74,135.96 45.10,137.60 C44.46,139.24 43.21,142.19 42.30,143.10 C41.39,144.01 39.75,144.40 38.30,144.40 C36.85,144.40 32.87,143.82 31.40,143.10 C29.93,142.38 28.57,140.28 27.30,139.00 C26.03,137.72 23.35,134.78 21.90,133.50 C20.45,132.22 17.87,130.21 16.40,129.40 C14.93,128.59 11.90,128.04 10.90,127.40 C9.90,126.76 8.71,125.33 8.90,124.60Z"/></clipPath>
<g clip-path="url(#mainclip4)">
<path d="M20.5,108.1 l0.6,0.3 M39.5,112.9 l0.6,0.7 M41.8,136.3 l0.9,0.6 M34.6,133.3 l-0.7,0.3 M33.8,130.9 l1.2,0.7 M31.7,116.0 l-0.5,2.0 M42.5,124.3 l-0.4,1.2 M13.6,105.9 l0.9,1.1 M29.0,117.7 l1.0,0.7 M19.3,129.3 l0.8,1.6 M15.6,106.5 l-1.2,1.1 M20.5,117.2 l0.1,0.7 M37.1,139.8 l-1.4,1.6 M39.9,120.4 l-0.7,1.8 M22.6,111.7 l1.1,0.5 M46.6,117.3 l0.9,0.1 M40.2,118.5 l2.1,0.7 M27.3,112.3 l0.9,0.2 M36.4,110.0 l0.0,1.0 M47.9,108.9 l-1.0,0.8 M47.6,123.1 l0.2,0.6 M41.9,123.9 l0.7,0.7 M32.4,143.6 l-1.6,0.5 M40.5,133.8 l0.9,0.3 M43.5,140.0 l0.8,1.4 M40.8,129.7 l-0.1,1.6 M46.6,130.7 l-0.8,0.3 M46.9,130.7 l1.4,0.8 M32.5,133.9 l0.5,0.4 M43.6,126.0 l1.3,1.0 M29.0,125.1 l1.5,0.2 M29.6,138.6 l1.1,0.5 M39.6,124.9 l-1.7,0.9 M15.1,125.7 l-0.9,0.7 M15.4,108.6 l-1.3,0.5 M14.4,139.3 l1.1,1.6 M27.2,135.9 l-0.8,0.3 M17.4,123.8 l-0.3,2.0 M37.6,104.2 l-0.2,1.4 M37.8,123.4 l1.4,1.4 M34.6,131.1 l1.1,1.7 M28.8,140.5 l-1.7,0.8 M34.1,121.7 l-0.9,0.8 M35.8,109.3 l1.7,0.8 M18.4,140.1 l-0.3,1.1 M34.3,107.7 l-0.9,0.2 M35.6,117.1 l0.6,0.0 M46.2,137.2 l-1.7,1.2 M17.7,127.4 l-0.5,2.0 M39.4,142.7 l-0.8,1.5 M38.8,128.7 l1.2,1.7 M37.3,116.4 l0.8,1.4 M47.9,140.0 l0.6,1.8 M22.2,120.5 l1.2,0.8 M37.0,128.6 l-1.6,0.2 M47.6,140.8 l0.4,0.6 M44.1,135.1 l0.8,0.7 M36.5,125.9 l1.0,1.1 M17.7,107.9 l0.4,0.7 M14.2,143.7 l-1.6,0.6 M38.3,130.2 l-1.6,0.7 M32.2,131.8 l-0.2,1.4 M17.6,137.8 l0.8,0.2 M43.5,114.2 l-1.1,1.7 M23.8,119.5 l2.0,0.2 M12.7,142.4 l1.7,0.9 M41.6,113.3 l0.1,1.7 M37.4,140.8 l0.7,1.8 M42.0,127.5 l-0.8,1.9 M33.6,105.5 l1.4,1.4 M35.8,116.3 l-0.4,1.1 M42.0,139.7 l-1.5,0.6 M37.2,128.2 l-1.2,0.0 M14.9,132.5 l-0.2,1.5 M21.0,112.0 l-1.6,1.3 M41.8,124.4 l-1.4,0.8 M13.2,123.1 l0.9,1.8 M38.9,136.6 l0.5,1.5 M39.1,138.5 l-1.1,1.5 M37.4,121.5 l2.0,0.1 M45.5,115.0 l0.5,1.5 M42.3,116.8 l1.0,1.0 M13.1,114.5 l-0.8,0.2 M18.0,107.7 l-1.6,0.3 M44.1,124.0 l0.6,1.2 M47.7,110.7 l-0.7,0.4 M47.0,115.9 l-1.0,1.8 M14.7,137.9 l-0.4,0.5 M39.6,111.2 l1.1,0.1 M23.8,143.3 l0.9,2.0 M46.3,131.4 l2.0,0.4 M37.4,130.7 l0.9,0.3 M17.0,123.2 l-0.2,1.2 M38.8,137.5 l0.8,0.1 M19.9,113.5 l1.3,0.9 M46.0,111.6 l-0.9,0.1 M38.3,141.5 l1.1,0.1 M37.9,119.7 l0.5,1.2 M24.8,121.9 l1.8,0.2 M38.4,120.7 l0.9,1.2 M44.2,123.3 l-0.1,0.9 M34.1,128.0 l-0.4,0.5 M27.7,136.0 l0.9,0.1 M22.3,121.4 l-0.4,0.8 M24.4,131.0 l-2.1,0.3 M21.3,117.4 l-0.2,1.2 M43.1,111.9 l1.9,0.7 M33.4,143.5 l-1.0,1.2 M33.8,125.8 l1.3,0.2 M43.2,112.4 l1.1,1.3 M46.5,139.5 l0.2,0.6 M31.1,138.1 l1.3,0.3 M45.2,143.9 l1.1,0.0 M30.6,121.0 l-0.7,1.5 M34.7,124.4 l-0.4,0.6 M27.7,109.4 l-0.8,0.8 M24.2,115.1 l1.5,0.6 M14.5,142.2 l-1.1,1.0 M27.3,116.2 l-1.0,1.0 M31.3,113.9 l1.2,0.7 M35.5,125.8 l-0.2,0.9 M46.5,131.4 l-1.3,0.2 M24.0,116.2 l0.6,0.9 M19.5,123.4 l0.7,1.5 M23.8,137.4 l2.1,0.6 M12.1,130.2 l0.8,0.6 M46.8,119.7 l0.3,1.7 M15.5,106.2 l-1.3,0.0 M38.5,126.3 l0.5,1.0 M36.6,104.0 l-1.1,1.0 M29.6,141.5 l-0.8,0.9 M15.1,119.5 l1.1,0.1 M39.3,139.3 l-1.0,1.7 M26.3,140.5 l-1.9,0.5 M32.7,128.9 l0.7,0.9 M13.3,139.1 l-0.5,0.8 M24.8,120.9 l-0.7,0.4 M39.5,122.8 l0.5,0.6 M32.3,130.4 l-1.4,1.2 M46.9,141.2 l0.7,1.3 M39.2,135.5 l-1.2,1.2 M21.2,128.9 l-0.4,0.8 M42.2,127.0 l0.7,0.1 M27.9,132.9 l1.4,1.2 M14.3,128.6 l0.9,0.0 M40.6,112.8 l0.1,1.2 M32.7,127.1 l-1.1,0.3 M34.9,108.7 l1.9,0.6 M25.8,112.3 l0.0,1.2 M14.5,138.0 l-1.8,0.8 M38.1,137.0 l0.4,1.9 M45.0,108.3 l1.1,0.7 M43.1,125.1 l0.6,1.4 M20.9,129.6 l1.2,0.0 M32.3,139.2 l-1.8,0.4 M46.6,131.7 l-0.2,1.6 M31.5,106.9 l1.3,0.3 M15.4,125.2 l-1.6,0.9 M18.8,136.5 l1.4,1.5 M12.2,120.0 l1.2,0.7 M43.8,117.7 l1.8,1.2 M24.0,105.3 l-0.9,1.0 M31.1,109.1 l0.6,1.3 M41.5,122.0 l-1.6,0.5 M39.2,136.2 l0.5,0.6 M35.7,133.9 l-1.4,0.4 M29.6,142.6 l0.6,1.4 M33.7,128.4 l-0.0,0.9 M25.8,111.2 l-0.5,1.1 M22.8,114.9 l-0.4,0.5 M18.9,137.0 l0.0,1.0 M39.9,134.8 l1.7,0.3 M27.1,118.9 l0.6,1.4 M26.0,109.2 l-1.8,0.1 M37.9,141.1 l0.8,1.7 M15.7,134.7 l-0.5,1.3 M12.1,120.3 l-2.1,0.1 M13.0,109.5 l-1.5,1.1 M32.0,140.9 l-1.5,0.6 M45.4,110.8 l0.5,0.9 M25.9,106.4 l0.2,1.0 M15.7,127.0 l-0.9,0.4 M44.3,109.0 l-1.1,0.9 M28.1,139.2 l-1.3,0.6 M22.3,118.0 l-0.5,1.2 M30.7,130.0 l-0.6,0.9 M36.0,131.7 l0.5,1.4 M39.2,117.4 l-0.4,1.1 M42.5,117.9 l-0.5,1.5 M47.7,141.7 l0.3,1.6 M30.2,127.5 l-1.8,0.9 M40.5,134.0 l1.5,1.5 M19.3,108.0 l0.9,0.5 M33.8,109.9 l0.9,1.9 M14.8,124.4 l1.0,0.6 M25.1,118.3 l-0.2,1.3 M27.9,128.4 l1.5,0.6 M26.7,138.1 l-0.2,1.1 M34.8,136.7 l-0.5,2.0 M20.1,143.8 l-0.3,0.7 M13.1,110.4 l1.4,1.3 M36.9,140.9 l-0.6,0.3 M30.4,116.0 l-1.2,1.3 M19.3,110.8 l-1.3,1.4 M15.3,109.5 l-0.7,0.0 M32.7,139.1 l-0.6,1.0 M35.1,122.7 l-1.3,0.4 M35.6,106.3 l-1.7,0.0 M40.5,137.5 l-1.0,1.3 M32.0,135.5 l0.4,1.4 M32.0,137.8 l-0.3,1.4 M36.3,127.2 l1.2,1.5 M24.8,132.5 l-0.9,0.0 M38.3,114.5 l-0.9,0.9 M35.8,136.3 l0.1,0.8 M32.5,113.2 l-0.2,0.8 M40.6,110.7 l-0.7,0.7 M22.7,135.3 l-1.6,1.1 M46.7,107.5 l0.2,1.0 M43.2,119.8 l1.3,0.3 M34.6,135.5 l-1.0,0.3 M24.8,111.7 l0.1,1.8 M18.9,123.5 l-1.4,0.1 M12.9,110.1 l-0.1,1.4 M34.4,117.9 l0.5,1.5 M37.7,116.4 l-1.9,1.1 M14.3,121.0 l1.2,0.7 M19.5,132.7 l1.2,1.4 M20.5,114.4 l-0.6,0.7 M23.4,106.7 l-1.1,1.2 M33.6,139.9 l1.0,1.2 M24.9,143.1 l-1.8,0.2 M36.4,141.7 l0.6,1.1 M38.5,136.8 l-1.3,1.0 M31.2,117.1 l-0.3,0.9 M25.0,125.8 l0.5,0.5 M24.6,137.1 l0.5,0.6 M33.8,133.6 l-0.5,0.3 M15.0,133.2 l0.4,0.6 M41.2,118.8 l-0.9,1.2 M28.6,126.5 l-0.9,0.1 M34.7,122.8 l1.4,1.2 M21.8,128.2 l0.6,0.4 M14.4,132.5 l-0.1,1.5 M39.4,110.4 l-1.2,1.2 M29.1,129.6 l-1.3,0.5 M36.5,121.8 l1.0,0.8 M21.9,108.0 l-2.0,0.9 M14.1,117.4 l-1.4,0.5 M44.3,136.4 l-1.0,1.5 M30.1,131.1 l-2.0,0.3 M36.3,123.7 l0.7,2.0 M36.0,136.0 l1.3,0.4 M31.0,132.3 l0.4,1.8 M47.8,125.1 l-1.9,0.0 M43.3,125.0 l-0.6,0.4 M37.7,115.7 l-0.6,1.3 M29.3,115.9 l-0.4,2.1 M16.3,105.0 l1.2,1.8 M23.0,115.6 l1.5,0.3 M32.2,112.6 l-0.0,1.7 M36.7,134.3 l-0.3,1.2 M36.5,142.2 l0.2,1.7 M29.9,118.7 l-1.2,0.8 M42.5,117.7 l-0.8,0.6 M40.0,105.7 l-1.4,1.1 M22.5,118.1 l-1.5,0.5 M40.1,123.6 l-2.1,0.4 M38.7,130.0 l0.6,0.9 M40.3,131.0 l-0.8,1.0 M31.1,116.7 l0.8,0.5 M32.8,123.2 l2.1,0.1 M22.1,123.9 l0.5,1.3 M46.1,111.7 l-1.9,0.9 M29.9,124.7 l0.2,1.3 M27.6,113.7 l0.3,0.6 M28.7,135.2 l1.1,0.5 M43.3,142.2 l1.6,1.0 M21.1,115.8 l1.4,0.4 M32.7,121.3 l-0.8,1.3 M41.4,109.7 l0.6,0.7 M44.3,138.0 l0.7,1.8 M45.6,134.7 l-0.3,0.5 M23.8,114.3 l-0.4,2.0 M21.4,143.1 l-0.9,0.7 M32.3,128.7 l-0.4,1.6 M21.4,107.7 l0.6,0.6 M20.7,126.9 l0.3,0.7 M19.9,128.6 l1.6,1.0 M31.7,117.8 l-0.1,0.8 M40.1,107.0 l-0.7,1.2 M23.2,123.5 l0.1,1.5 M45.6,128.5 l1.4,0.2 M32.3,130.6 l-1.7,0.3 M16.7,139.9 l-0.2,0.6 M14.4,135.8 l-2.1,0.1 M31.5,127.6 l-0.2,1.9 M47.5,117.4 l0.2,0.7 M26.7,144.0 l0.4,0.7 M35.6,112.9 l1.1,0.3 M31.8,104.0 l-0.5,0.8 M13.6,136.4 l-0.5,0.5 M43.0,122.9 l1.5,1.2 M27.0,126.3 l0.9,0.6 M39.9,115.8 l-1.3,0.2 M28.0,112.7 l0.9,0.7 M25.0,121.4 l1.7,1.0 M31.1,119.1 l1.0,0.3 M28.0,120.3 l-0.8,0.7 M36.4,118.5 l0.7,0.2 M26.1,112.9 l-0.9,1.0 M38.3,116.1 l-1.3,0.8 M14.2,138.1 l-1.3,0.5 M16.5,115.0 l-0.6,1.8 M42.4,112.8 l-0.7,0.6 M41.1,113.7 l0.0,1.5 M42.7,109.5 l-1.6,0.2 M44.4,113.2 l-0.5,1.8 M30.4,107.0 l-1.5,1.3 M38.4,128.7 l0.0,1.3 M30.1,123.8 l-1.1,0.7 M18.8,128.7 l1.4,0.6 M12.7,140.7 l1.4,1.6 M13.9,115.1 l-1.0,1.9 M41.4,111.1 l1.6,0.5 M27.4,130.1 l0.0,1.3 M38.9,142.6 l-0.7,1.4 M28.3,136.1 l1.6,0.4 M42.7,118.8 l1.9,1.0 M47.2,104.6 l-1.4,0.3 M14.9,133.2 l0.3,0.6 M20.0,136.7 l-0.2,1.6 M12.7,129.6 l-0.0,2.1 M41.8,116.1 l1.5,0.9 M39.5,105.6 l-0.3,2.2 M40.6,117.7 l0.9,0.5 M41.1,108.5 l1.8,0.5 M35.5,129.8 l-1.5,0.9 M19.9,135.5 l0.5,1.2 M32.3,119.5 l-0.9,0.1 M32.2,139.5 l0.7,0.6 M37.4,126.9 l1.0,0.4 M31.8,121.6 l1.1,1.1 M40.3,119.0 l-0.7,1.0 M39.9,104.1 l-0.2,0.8 M13.5,128.7 l-0.9,1.7" stroke="#ffffff" stroke-width="0.4" opacity="0.75" fill="none"/>
<ellipse cx="28" cy="124" rx="2" ry="1.1" fill="#fff"/>
<ellipse cx="36.2" cy="126.7" rx="1.9" ry="1.4" fill="none" stroke="#fff" stroke-width="0.8"/>
<path d="M41.5,137 L45.5,128.5 L44.5,134.5 Z M40,140 l2,-3 M43,131 l1,-4" fill="#fff" stroke="#fff" stroke-width="0.6" opacity="0.9"/>
<path d="M31,125 q2,-2 3,1 M33,130 q2,1 4,0 M38,121 l2,1 M30,118 l1.5,1 M39,108 l1,2 M24,121 l1.2,0.8 M35,135 l1.5,1.5" stroke="#fff" stroke-width="0.5" fill="none" opacity="0.85"/>
<path d="M23.6,139.6 l-1.4,0.7 M23.0,108.4 l-0.5,0.5 M14.1,132.8 l-0.7,1.0 M15.9,132.4 l0.8,0.7 M36.3,119.0 l0.6,1.3 M35.5,136.8 l1.3,0.2 M18.7,118.0 l-0.6,1.2 M35.0,124.7 l-0.1,1.2 M19.7,119.7 l0.1,0.6 M27.5,131.6 l0.9,0.0 M45.6,139.5 l1.4,0.6 M45.0,129.4 l0.8,0.6 M17.3,126.3 l0.9,0.3 M17.1,131.1 l0.7,1.3 M41.8,111.8 l-0.9,1.0 M21.7,136.6 l0.8,0.2 M36.8,135.8 l-1.1,0.2 M38.3,141.1 l-0.8,0.2 M27.9,134.6 l-0.0,0.6 M44.7,120.3 l0.8,0.4 M13.0,139.8 l0.5,0.2 M46.5,117.4 l-0.3,0.8 M24.2,140.2 l-0.6,0.6 M41.8,134.5 l-0.9,0.4 M27.4,139.3 l0.1,0.9 M34.3,131.8 l-0.0,0.6 M47.7,112.7 l-0.2,0.8 M13.8,114.6 l0.2,0.5 M15.4,125.1 l0.2,0.5 M23.3,114.3 l-1.4,0.7 M43.6,139.1 l0.1,0.7 M34.7,114.3 l-0.7,0.2 M33.0,128.8 l1.2,0.4 M29.2,131.8 l-0.2,1.3 M16.0,114.2 l-0.3,0.5 M26.5,132.3 l0.9,0.4 M37.2,113.6 l0.6,0.9 M42.7,125.3 l-0.9,0.5 M15.9,139.1 l0.1,0.6 M32.4,122.2 l0.8,0.0 M16.6,120.7 l0.8,1.3 M13.7,117.0 l0.9,0.1 M24.7,117.9 l0.7,0.5 M42.0,139.4 l-0.1,1.1 M20.9,141.2 l1.1,0.1 M31.0,124.8 l-1.1,0.3 M16.2,110.0 l-0.2,0.5 M25.9,134.8 l0.2,1.6 M28.9,118.6 l1.0,0.3 M27.1,132.5 l-0.4,1.4 M29.1,121.6 l1.2,0.4 M23.6,123.2 l-0.5,1.0 M18.6,130.7 l1.3,0.7 M47.9,142.5 l0.1,0.9 M32.3,134.3 l0.9,0.8 M24.2,120.0 l1.3,0.3 M24.2,126.7 l-0.1,1.4 M38.3,133.4 l-1.4,0.3 M17.3,138.1 l-0.7,0.3 M22.1,134.3 l-0.5,0.2 M39.7,138.2 l0.1,0.7 M21.0,114.8 l-1.2,0.6 M21.3,133.5 l-0.7,0.4 M44.3,128.7 l0.9,0.2 M24.2,113.2 l-0.4,0.9 M46.2,122.6 l-0.3,1.5 M12.2,117.6 l-1.2,0.4 M42.2,108.5 l-0.6,0.5 M23.4,119.1 l-0.1,1.4 M35.9,131.7 l1.0,0.8 M25.6,136.8 l-0.2,0.6 M26.1,130.6 l-0.3,0.7 M19.4,133.4 l1.0,0.3 M40.1,113.5 l1.6,0.1 M41.5,132.4 l-1.0,1.0 M29.1,139.8 l-1.3,0.2 M38.4,107.9 l0.9,0.6 M40.2,107.3 l-1.4,0.5 M13.5,132.7 l-0.5,0.7 M32.3,112.6 l0.3,1.5 M27.0,124.2 l0.6,1.1 M30.1,120.2 l-0.1,1.2 M45.5,117.2 l0.6,0.4 M21.1,125.8 l0.7,0.3 M28.2,106.3 l0.5,1.4 M22.1,127.7 l-0.7,1.1 M46.7,124.9 l1.1,0.8 M17.1,121.9 l0.7,0.1 M22.1,128.4 l-0.5,0.2 M46.3,117.7 l0.3,0.4 M22.8,106.0 l0.5,1.2 M31.2,114.8 l-1.5,0.2 M34.2,116.0 l0.2,0.5 M38.8,129.5 l-0.7,1.0 M29.0,124.5 l0.3,0.7 M14.8,128.0 l-0.3,1.5 M27.5,142.6 l1.0,0.2 M29.9,127.8 l-1.0,0.4 M36.1,137.4 l-0.6,0.0 M41.7,120.5 l-0.9,1.1 M15.4,107.9 l-1.0,0.4 M41.6,110.8 l-0.1,1.1 M15.5,129.9 l0.8,0.9 M17.6,131.5 l-0.3,1.3 M35.1,135.1 l0.6,0.0 M26.5,121.1 l0.0,1.2 M24.2,116.7 l0.5,0.7 M30.0,139.8 l1.1,0.8 M36.9,121.7 l-0.4,1.2 M42.5,108.2 l-0.2,1.0 M22.1,138.4 l0.8,0.9 M39.5,136.9 l1.1,0.5 M19.5,135.3 l0.9,0.0 M43.7,107.3 l0.8,0.9 M19.7,141.7 l0.6,0.8 M26.7,127.9 l1.1,0.3 M31.6,110.6 l0.4,0.4 M29.4,114.9 l-0.1,1.2 M33.2,114.7 l-0.3,1.2 M32.1,106.5 l0.8,0.0 M33.7,116.1 l-1.0,1.0 M37.9,109.1 l-0.4,1.3 M44.5,108.3 l-0.2,0.7 M30.5,120.9 l-0.6,0.2 M18.4,132.6 l-0.7,0.5 M47.6,129.5 l-0.4,0.4 M38.1,126.4 l0.7,0.2 M21.5,142.7 l0.7,0.9 M21.2,121.5 l0.0,0.5 M13.9,126.5 l0.8,0.5 M12.8,125.7 l0.8,0.9 M39.0,141.5 l-1.1,0.4 M35.1,142.2 l0.0,1.0 M24.6,118.1 l1.3,0.3 M33.5,142.5 l0.6,0.5 M22.1,117.7 l1.1,0.6 M25.6,108.3 l0.5,1.0 M14.0,129.2 l-1.1,0.4 M38.9,108.0 l1.3,0.2 M40.4,112.3 l0.6,0.5 M35.7,115.0 l-1.2,0.5 M23.1,126.6 l-0.7,0.4 M19.3,128.0 l-0.7,0.0 M29.1,106.7 l1.2,0.8 M45.8,115.8 l0.4,0.5 M34.9,121.2 l-0.7,0.5 M29.5,135.2 l0.7,0.2 M42.0,139.7 l-1.4,0.3 M19.0,115.6 l0.3,0.5 M32.6,119.2 l1.3,0.4 M21.4,119.8 l0.2,1.2 M43.2,140.9 l0.5,1.3 M40.1,128.2 l0.1,0.5 M26.3,142.4 l1.0,1.2 M41.7,135.2 l-1.0,0.3 M43.0,127.6 l-0.4,0.4 M14.7,133.2 l0.8,0.3 M13.5,140.0 l-1.4,0.7 M46.3,124.6 l0.3,0.7 M28.7,117.9 l-0.5,0.6 M45.4,125.5 l0.8,0.3 M18.3,128.1 l-0.5,0.7 M40.9,111.0 l-0.2,0.5 M22.8,129.2 l-0.5,0.9 M39.9,121.1 l-0.2,0.6 M37.3,120.1 l-0.3,1.0 M20.0,136.2 l-0.3,1.0 M12.9,108.9 l-0.8,0.6 M20.7,136.4 l0.9,0.2 M19.4,141.5 l0.4,1.2 M15.1,122.8 l1.1,0.3 M41.1,129.6 l-0.1,1.3 M33.1,108.0 l-0.6,1.2 M34.3,126.3 l-0.9,0.1 M41.1,125.4 l0.1,0.9 M14.9,131.3 l-0.3,1.3 M46.0,142.7 l0.1,0.8 M15.2,133.2 l-0.4,1.3 M46.7,115.1 l0.5,0.3 M17.3,139.0 l0.7,0.5 M31.9,106.8 l-0.5,1.1 M12.3,110.2 l-0.1,1.5 M28.9,111.9 l0.6,0.2 M19.3,107.7 l-0.9,1.0 M33.2,109.4 l-0.4,0.8 M24.9,130.5 l0.2,0.5 M13.9,142.0 l-1.2,0.4 M42.4,130.2 l0.6,1.0 M27.2,111.3 l1.3,0.6 M30.1,130.9 l0.6,0.6 M14.6,123.2 l-1.5,0.3 M34.0,136.9 l0.1,1.3 M33.7,124.3 l1.0,0.5 M22.7,136.2 l-1.1,0.7 M25.7,113.1 l0.7,0.0 M19.3,121.7 l0.6,0.0 M13.8,123.8 l-0.7,1.2 M43.3,107.1 l0.0,1.1 M29.8,109.6 l1.2,0.7 M33.3,115.6 l-0.0,1.4" stroke="#c8c040" stroke-width="0.4" opacity="0.85" fill="none"/>
</g>
<path d="M61.7,101.1 l0.6,1.6 M64.8,105.7 l-0.1,0.7 M64.1,101.6 l-0.9,0.8 M64.3,103.0 l0.2,0.9 M62.6,105.2 l-0.1,0.8 M65.3,101.5 l0.4,0.6 M61.6,99.7 l-0.6,0.5 M64.8,105.5 l0.2,1.6 M64.8,101.2 l0.2,0.7 M57.9,108.8 l-0.8,0.6 M65.1,105.2 l-0.6,1.6 M64.8,99.1 l-0.4,0.5 M59.6,100.6 l-0.7,0.4 M65.4,99.7 l1.5,0.4 M60.3,103.3 l0.2,1.7 M59.9,107.8 l-0.5,1.1 M64.6,108.5 l-0.3,0.7 M65.3,101.5 l-1.3,0.2 M64.9,106.2 l-0.9,1.3 M61.8,103.7 l-0.6,0.3 M65.8,102.5 l-0.2,0.6 M57.3,101.0 l1.4,0.1 M57.2,106.6 l-0.2,1.2 M58.2,99.7 l0.1,0.7 M61.5,107.9 l-0.4,0.6 M65.3,104.4 l1.7,0.6 M64.4,108.2 l0.5,1.6 M57.5,107.3 l0.2,1.6 M63.0,108.1 l-0.3,0.8 M65.8,101.1 l-1.0,0.6 M65.1,104.1 l-0.3,1.6 M63.9,107.6 l-0.2,1.4 M61.0,109.4 l0.8,0.8 M58.3,101.0 l1.1,0.2 M57.9,104.1 l1.7,0.3 M57.3,101.6 l1.3,0.3 M61.1,108.1 l1.0,0.2 M61.1,104.7 l0.4,1.7 M64.1,108.3 l0.8,0.2 M63.0,100.2 l-0.6,0.7 M72.1,139.9 l0.1,1.2 M58.8,142.0 l-0.4,0.6 M76.8,136.7 l-0.8,1.1 M65.9,140.5 l0.8,0.3 M69.3,142.0 l1.1,1.0 M58.5,141.3 l0.8,0.1 M58.6,144.0 l-0.4,0.9 M71.9,150.1 l-0.0,1.0 M73.1,135.8 l-1.5,0.2 M69.1,139.3 l1.6,0.2 M70.6,146.0 l0.4,1.5 M69.6,145.4 l-0.3,1.4 M64.2,134.6 l-0.6,0.4 M62.9,151.5 l-1.0,0.3 M66.8,137.1 l1.5,0.6 M72.8,150.3 l-0.6,0.7 M61.3,142.9 l-0.9,0.7 M59.8,151.9 l-1.3,0.5 M74.3,137.5 l0.9,0.8 M71.7,138.2 l0.1,1.3 M74.6,136.9 l0.7,0.8 M60.1,148.7 l1.1,0.7 M66.8,138.9 l0.6,0.4 M76.1,148.4 l1.1,1.2 M63.8,140.1 l-0.2,0.6 M70.2,141.1 l-0.6,0.2 M73.6,140.0 l-0.1,0.7 M58.8,152.3 l-1.1,0.6 M58.0,141.1 l1.5,1.0 M75.4,138.8 l-1.4,0.4 M61.9,142.9 l-0.6,0.3 M66.2,148.9 l0.2,1.0 M64.3,153.0 l1.2,0.6 M72.6,143.1 l1.0,0.5 M59.5,134.4 l0.4,1.6 M60.1,149.0 l-1.2,0.1 M73.5,145.4 l1.1,0.4 M74.6,143.3 l0.4,0.7 M70.1,151.4 l-1.1,0.3 M59.2,141.0 l-0.9,1.0 M59.2,142.8 l-0.8,0.4 M75.2,149.1 l-1.2,1.2 M66.5,137.3 l-0.9,0.6 M59.3,149.3 l1.6,0.6 M76.6,139.1 l1.0,1.4 M68.2,148.1 l1.1,0.8 M63.1,146.1 l0.5,0.8 M65.6,142.2 l0.2,1.1 M73.7,134.6 l-0.5,0.8 M61.5,136.1 l1.2,1.0 M74.3,147.0 l-1.4,0.4 M67.8,150.0 l-0.5,0.4 M74.8,141.5 l-0.4,1.4 M70.9,143.7 l0.5,0.5 M67.8,142.4 l-0.2,1.1 M69.8,149.2 l0.5,0.7 M64.1,142.8 l-0.6,1.5 M58.8,148.1 l-0.8,1.5 M76.8,136.7 l-1.1,0.0 M63.1,141.3 l1.0,1.1 M62.2,135.9 l1.6,0.2 M75.3,144.6 l1.0,0.1 M59.9,148.9 l0.9,0.4 M72.7,141.9 l1.3,1.0 M76.0,141.7 l-0.2,0.7 M64.9,135.4 l-0.8,1.5 M70.6,146.7 l1.4,0.1 M65.1,141.2 l-0.5,0.7 M74.6,137.3 l-0.7,1.1 M66.9,141.8 l1.2,0.3 M65.4,137.4 l1.1,0.1 M69.1,140.5 l-1.2,0.5 M71.8,146.2 l0.4,1.4 M63.8,138.2 l0.7,1.2 M60.3,136.4 l-0.8,0.8 M63.0,150.5 l-0.7,0.3 M66.6,148.8 l-0.6,0.4 M64.4,143.5 l1.7,0.2 M63.0,140.6 l0.6,0.8 M70.9,149.1 l-0.1,0.9 M76.5,138.4 l-0.4,1.6 M68.3,142.1 l-1.2,1.1 M59.4,138.1 l0.7,1.6 M62.4,141.1 l-1.1,0.8 M58.9,135.5 l-0.7,0.4 M59.8,137.4 l1.5,0.3 M59.9,151.4 l-0.7,1.4 M63.7,150.9 l1.3,0.1 M58.8,152.7 l-0.9,0.9 M73.4,145.9 l-0.3,0.9 M50.5,127.7 l0.4,0.6 M51.3,122.4 l-1.1,1.2 M53.7,121.3 l0.2,0.6 M58.1,123.6 l-1.0,0.2 M62.5,124.6 l0.8,0.7 M57.3,124.8 l0.8,0.1 M51.8,124.0 l-1.3,0.3 M57.9,125.9 l1.1,0.5 M56.0,131.0 l1.4,0.5 M57.4,124.5 l-0.2,1.5 M60.1,132.1 l-1.2,0.5 M51.9,123.4 l0.3,1.5 M52.0,120.6 l-0.6,1.4 M50.8,129.9 l0.5,0.6 M56.0,129.6 l0.8,0.6 M60.5,127.5 l0.7,1.5 M56.0,121.2 l-1.5,0.3 M51.9,123.5 l0.6,1.6 M59.7,122.4 l-1.5,0.7 M51.5,124.2 l1.2,0.8 M50.3,131.4 l0.6,1.0 M53.0,129.9 l-1.0,0.1 M60.2,132.5 l-0.8,0.1 M62.1,128.3 l0.9,0.2 M53.8,120.0 l-0.4,0.7" stroke="#ffffff" stroke-width="0.35" opacity="0.7" fill="none"/></g>
<g id="unc"><g stroke="#bcbcbc" stroke-width="0.5" fill="none">
<line x1="41.7" y1="86" x2="41.7" y2="159.6"/>
<line x1="0" y1="125.3" x2="85.8" y2="125.3"/>
</g>
<g fill="#a8a8a8">
<rect x="3.3" y="99.7" width="1.3" height="0.6"/>
<rect x="3.3" y="112.0" width="1.3" height="0.6"/>
<rect x="3.3" y="137.29999999999998" width="1.3" height="0.6"/>
<rect x="3.3" y="149.7" width="1.3" height="0.6"/>
<rect x="13.2" y="158" width="0.6" height="1.0"/>
<rect x="27.0" y="158" width="0.6" height="1.0"/>
<rect x="56.1" y="158" width="0.6" height="1.0"/>
<rect x="70.4" y="158" width="0.6" height="1.0"/>
<rect x="84.8" y="158" width="0.6" height="1.0"/>
</g>
<text transform="translate(2.80,125.00) rotate(-90)" font-size="2.6" text-anchor="middle" fill="#333" textLength="8.5" lengthAdjust="spacingAndGlyphs" >UMAP_2</text>
<text x="41.50" y="161.50" font-size="2.6" text-anchor="middle" fill="#333" textLength="10.5" lengthAdjust="spacingAndGlyphs" >UMAP_1</text>
<path fill="#0e3590" d="M8.90,124.60 C9.09,123.87 10.94,122.71 12.30,121.90 C13.66,121.09 17.55,119.59 19.10,118.50 C20.65,117.41 22.53,114.89 23.90,113.70 C25.27,112.51 27.95,110.79 29.40,109.60 C30.85,108.41 33.61,105.53 34.80,104.80 C35.99,104.07 37.47,103.65 38.30,104.10 C39.13,104.55 40.19,107.47 41.00,108.20 C41.81,108.93 43.85,108.68 44.40,109.60 C44.95,110.52 44.74,113.82 45.10,115.10 C45.46,116.38 46.65,117.84 47.10,119.20 C47.55,120.56 48.50,123.75 48.50,125.30 C48.50,126.85 47.55,129.16 47.10,130.80 C46.65,132.44 45.74,135.96 45.10,137.60 C44.46,139.24 43.21,142.19 42.30,143.10 C41.39,144.01 39.75,144.40 38.30,144.40 C36.85,144.40 32.87,143.82 31.40,143.10 C29.93,142.38 28.57,140.28 27.30,139.00 C26.03,137.72 23.35,134.78 21.90,133.50 C20.45,132.22 17.87,130.21 16.40,129.40 C14.93,128.59 11.90,128.04 10.90,127.40 C9.90,126.76 8.71,125.33 8.90,124.60Z"/>
<path fill="#0e3590" d="M47.50,124.20 C48.10,123.98 52.07,125.68 53.00,125.80 C53.93,125.92 56.11,125.59 56.80,125.40 C57.49,125.21 59.48,124.24 59.90,123.90 C60.32,123.56 61.12,122.23 61.00,122.00 C60.88,121.77 58.96,121.72 58.70,121.60 C58.44,121.48 58.05,120.99 58.40,120.80 C58.75,120.61 61.71,119.66 62.20,119.70 C62.69,119.74 63.22,120.67 63.30,121.20 C63.38,121.73 63.19,124.31 63.00,125.00 C62.81,125.69 61.86,127.56 61.40,128.10 C60.94,128.64 59.16,129.87 58.40,130.40 C57.64,130.93 54.42,133.14 53.80,133.40 C53.18,133.66 52.16,133.23 52.20,133.00 C52.24,132.77 54.42,131.52 54.20,131.10 C53.98,130.68 50.72,129.11 50.00,128.80 C49.28,128.49 47.25,128.46 47.00,128.00 C46.75,127.54 46.90,124.42 47.50,124.20Z"/>
<path fill="#0e3590" d="M45.50,91.10 C45.64,90.82 47.03,90.82 47.50,91.10 C47.97,91.38 49.99,93.35 50.20,93.90 C50.41,94.45 49.73,96.06 49.60,96.60 C49.47,97.14 49.04,99.37 48.90,99.30 C48.76,99.23 48.48,96.44 48.20,95.90 C47.92,95.36 46.37,94.38 46.10,93.90 C45.83,93.42 45.36,91.38 45.50,91.10Z"/>
<path fill="#0e3590" d="M56.10,99.00 C56.65,98.20 58.03,97.77 59.00,97.90 C59.97,98.03 60.93,98.93 61.90,99.80 C62.87,100.67 63.98,102.02 64.80,103.10 C65.62,104.18 66.53,105.42 66.80,106.30 C67.07,107.18 66.82,107.98 66.40,108.40 C65.98,108.82 64.92,108.60 64.30,108.80 C63.68,109.00 63.30,109.47 62.70,109.60 C62.10,109.73 61.25,109.80 60.70,109.60 C60.15,109.40 60.02,108.95 59.40,108.40 C58.78,107.85 57.62,107.25 57.00,106.30 C56.38,105.35 55.85,103.92 55.70,102.70 C55.55,101.48 55.55,99.80 56.10,99.00Z"/>
<path d="M54.2,97.3 L57.5,99 M65.5,107.5 L72.3,115.8 M59.8,108.5 l0.5,2.2 M63.5,108.5 l0.6,3" stroke="#0e3590" stroke-width="1.1" fill="none"/>
<ellipse cx="73.4" cy="116.9" rx="1.9" ry="1.4" fill="#0e3590"/>
<path fill="#0e3590" d="M56.20,143.20 C56.39,142.72 58.78,141.38 59.60,140.80 C60.42,140.22 63.73,138.07 64.40,137.40 C65.07,136.73 65.87,134.53 66.30,134.10 C66.73,133.67 68.27,133.05 68.70,133.10 C69.13,133.15 70.41,134.07 70.60,134.60 C70.79,135.13 70.65,137.78 70.60,138.40 C70.55,139.02 69.86,140.70 70.10,140.80 C70.34,140.90 72.47,139.64 73.00,139.40 C73.53,139.16 74.92,138.50 75.40,138.40 C75.88,138.30 77.66,138.26 77.80,138.40 C77.94,138.54 77.14,139.61 76.80,139.80 C76.46,139.99 74.78,140.06 74.40,140.30 C74.02,140.54 73.05,141.86 73.00,142.20 C72.95,142.54 74.00,143.41 73.90,143.70 C73.80,143.99 72.48,144.77 72.00,145.10 C71.52,145.43 69.53,146.47 69.10,147.00 C68.67,147.53 68.17,149.78 67.70,150.40 C67.23,151.02 65.02,152.87 64.40,153.20 C63.78,153.53 61.98,153.84 61.50,153.70 C61.02,153.56 59.75,152.28 59.60,151.80 C59.45,151.32 60.19,149.52 60.00,148.90 C59.81,148.28 58.08,146.17 57.70,145.60 C57.32,145.03 56.01,143.68 56.20,143.20Z"/>
<path d="M73,142.2 L78.7,148 L81.6,150.4" stroke="#0e3590" stroke-width="0.9" fill="none"/>
<ellipse cx="82.5" cy="151.8" rx="1.9" ry="1.6" fill="#0e3590"/>
<path d="M61.4,128.8 L64.5,131.9 M62.6,129.3 l2.5,3.4" stroke="#0e3590" stroke-width="0.9"/>
<path d="M13,148 L14.3,145" stroke="#0e3590" stroke-width="0.8"/>
<clipPath id="mainclip5"><path d="M8.90,124.60 C9.09,123.87 10.94,122.71 12.30,121.90 C13.66,121.09 17.55,119.59 19.10,118.50 C20.65,117.41 22.53,114.89 23.90,113.70 C25.27,112.51 27.95,110.79 29.40,109.60 C30.85,108.41 33.61,105.53 34.80,104.80 C35.99,104.07 37.47,103.65 38.30,104.10 C39.13,104.55 40.19,107.47 41.00,108.20 C41.81,108.93 43.85,108.68 44.40,109.60 C44.95,110.52 44.74,113.82 45.10,115.10 C45.46,116.38 46.65,117.84 47.10,119.20 C47.55,120.56 48.50,123.75 48.50,125.30 C48.50,126.85 47.55,129.16 47.10,130.80 C46.65,132.44 45.74,135.96 45.10,137.60 C44.46,139.24 43.21,142.19 42.30,143.10 C41.39,144.01 39.75,144.40 38.30,144.40 C36.85,144.40 32.87,143.82 31.40,143.10 C29.93,142.38 28.57,140.28 27.30,139.00 C26.03,137.72 23.35,134.78 21.90,133.50 C20.45,132.22 17.87,130.21 16.40,129.40 C14.93,128.59 11.90,128.04 10.90,127.40 C9.90,126.76 8.71,125.33 8.90,124.60Z"/></clipPath>
<g clip-path="url(#mainclip5)">
<path d="M34.4,133.7 l-1.8,0.3 M45.2,105.2 l-1.6,0.3 M44.4,108.5 l1.1,1.0 M32.7,104.5 l1.3,1.6 M17.0,128.7 l2.0,0.0 M43.4,115.6 l-0.2,1.7 M19.4,141.6 l-2.0,0.2 M22.8,118.4 l0.6,0.3 M22.8,128.1 l-0.6,1.0 M23.2,136.7 l0.7,1.1 M12.7,135.5 l-0.2,0.6 M45.9,117.8 l-0.1,1.8 M15.3,117.6 l-1.1,0.3 M45.3,125.8 l0.5,0.7 M14.8,110.0 l-0.9,0.0 M13.7,143.5 l0.3,0.9 M33.4,137.1 l0.2,0.7 M45.0,105.3 l-0.7,0.4 M38.3,142.0 l-0.6,0.5 M42.7,143.0 l0.1,1.8 M29.2,115.6 l1.1,0.5 M47.6,142.4 l0.0,1.1 M43.2,118.5 l-1.3,1.1 M35.9,134.4 l-0.6,0.8 M29.5,134.8 l1.3,1.7 M35.4,127.2 l-0.1,1.0 M36.2,122.5 l-0.8,1.7 M24.5,129.8 l-1.0,0.6 M42.3,138.8 l-2.1,0.2 M30.7,125.2 l-1.8,1.0 M29.2,131.7 l-0.6,0.7 M40.1,127.2 l0.4,1.5 M39.9,129.5 l0.9,0.1 M27.9,130.0 l-0.9,1.3 M13.5,122.9 l0.8,0.1 M23.4,111.3 l1.3,0.2 M25.7,128.5 l1.5,1.4 M12.0,120.2 l0.2,0.8 M41.9,119.0 l-0.3,0.7 M31.6,117.6 l-1.9,0.2 M27.1,136.5 l0.3,0.8 M33.5,126.6 l-1.6,0.2 M24.6,139.7 l1.4,0.5 M34.1,109.6 l-1.1,0.4 M27.5,113.1 l-1.2,0.1 M46.6,140.5 l1.5,1.6 M29.9,120.6 l-1.4,0.1 M22.3,123.1 l-0.5,1.2 M12.5,125.3 l-1.8,0.4 M20.8,114.7 l-1.1,0.0 M33.9,123.0 l-0.6,1.7 M16.3,134.4 l-0.1,1.1 M22.7,125.2 l0.8,1.6 M33.3,105.5 l0.3,2.0 M44.0,125.8 l-1.0,0.8 M32.7,132.3 l0.1,2.1 M14.4,137.5 l0.2,1.0 M40.1,140.4 l0.1,1.5 M29.9,117.2 l-0.5,1.8 M40.5,130.5 l-1.4,1.7 M47.9,132.0 l-0.8,0.5 M35.2,142.1 l1.0,0.4 M45.0,110.0 l0.2,0.8 M34.4,105.7 l0.3,0.7 M14.1,127.0 l-0.8,0.3 M27.5,116.6 l0.1,2.1 M25.5,106.2 l1.4,0.7 M30.2,140.4 l-0.4,0.9 M30.6,109.4 l0.7,1.6 M18.5,132.5 l1.6,0.4 M15.3,109.0 l1.5,1.4 M29.3,116.9 l1.8,0.2 M36.5,112.9 l-1.7,0.1 M41.5,109.6 l0.4,0.9 M24.0,128.6 l0.3,0.8 M41.9,129.9 l0.4,1.9 M30.6,127.7 l-0.8,0.9 M15.5,105.3 l2.0,0.3 M29.3,134.4 l0.2,2.0 M34.3,121.1 l0.8,0.3 M17.7,119.0 l-0.8,0.3 M21.1,115.1 l0.6,0.8 M25.3,141.5 l-0.7,1.2 M46.0,108.7 l1.0,1.3 M38.3,110.5 l1.0,0.1 M25.1,116.5 l1.1,1.4 M37.8,110.5 l-1.1,1.8 M35.3,121.2 l0.7,0.0 M40.1,120.4 l-0.3,2.2 M30.7,118.0 l2.0,0.5 M29.7,141.4 l0.5,0.5 M26.3,106.4 l0.3,1.0 M18.5,124.3 l-0.1,0.7 M23.3,108.3 l-1.5,0.4 M42.8,112.6 l-0.2,1.4 M32.6,119.1 l-1.3,1.6 M20.1,108.6 l1.8,0.5 M41.5,116.5 l1.0,0.3 M15.0,121.1 l0.5,0.5 M37.2,105.9 l0.7,0.9 M15.5,120.8 l-1.1,1.0 M44.3,130.2 l-0.3,1.3 M41.4,130.2 l-1.1,1.3 M21.6,136.5 l0.6,0.3 M18.1,114.5 l0.4,0.5 M39.5,126.3 l0.8,0.1 M34.0,113.2 l0.5,1.0 M38.2,107.8 l1.5,0.9 M28.1,141.5 l1.0,0.4 M44.9,122.4 l0.3,1.8 M45.7,125.3 l-0.2,0.7 M41.3,120.8 l-0.7,0.0 M32.8,123.3 l0.3,0.9 M22.0,112.0 l0.8,1.6 M20.7,118.1 l-1.9,0.1 M42.6,128.7 l1.7,0.8 M29.6,105.5 l1.7,0.5 M34.4,136.0 l1.4,0.0 M33.1,111.4 l0.3,0.5 M23.2,119.3 l-0.7,1.0 M36.9,130.8 l-1.0,0.7 M33.4,131.2 l0.5,0.6 M15.1,118.2 l-1.3,1.2 M23.0,141.2 l-0.4,0.6 M39.1,130.8 l-1.6,0.5 M42.2,133.5 l1.1,0.9 M31.6,119.7 l0.3,0.8 M35.5,140.0 l-0.4,1.1 M15.9,131.6 l-0.8,0.9 M43.9,112.5 l1.1,1.2 M44.3,110.7 l-0.7,0.6 M43.6,133.1 l0.3,1.4 M44.6,116.1 l-0.7,2.0 M18.7,105.2 l-0.3,1.5 M18.6,111.6 l-0.8,1.5 M38.2,106.5 l-1.9,1.1 M23.5,138.0 l-0.9,0.2 M37.1,137.6 l0.9,0.3 M17.6,107.7 l-0.3,0.7 M39.3,133.4 l-1.4,1.0 M45.3,142.3 l-0.8,0.1 M15.7,106.6 l0.5,1.2 M36.5,133.7 l0.4,1.4 M25.5,108.7 l0.7,1.6 M14.6,134.4 l0.5,0.6 M29.2,118.2 l-1.2,0.3 M22.5,124.0 l-1.2,0.9 M30.7,106.0 l1.2,1.1 M14.6,114.8 l0.2,2.2 M31.5,119.5 l1.1,0.3 M25.0,104.7 l0.2,1.2 M30.6,106.1 l-1.3,0.1 M29.0,107.4 l-1.7,0.2 M30.3,106.1 l-1.0,0.8 M33.4,140.1 l-0.3,0.6 M12.9,134.8 l-1.8,0.7 M45.0,119.1 l-1.5,1.4 M17.3,135.2 l-2.2,0.2 M19.8,120.9 l0.1,1.1 M36.0,108.9 l0.1,0.7 M46.6,128.0 l1.5,1.4 M45.8,105.2 l0.2,1.0 M39.1,118.9 l1.3,0.7 M47.1,132.1 l1.5,0.6 M25.5,118.7 l-0.5,2.1 M20.7,126.7 l-0.3,1.8 M16.8,123.2 l1.8,0.0 M27.1,124.2 l-0.5,0.4 M30.0,105.5 l0.3,0.6 M22.7,122.0 l-1.2,0.3 M31.1,132.5 l-2.2,0.3 M14.8,121.9 l-0.1,1.2 M45.3,116.0 l-0.7,0.4 M24.6,123.8 l1.1,0.8 M14.2,107.5 l1.9,0.9 M34.5,119.5 l0.7,0.7 M43.6,121.5 l0.7,0.4 M13.9,133.6 l0.7,0.0 M41.7,123.8 l1.5,0.2 M16.2,132.8 l-0.3,0.9 M46.2,108.4 l-0.4,0.6 M14.4,122.4 l-1.7,0.6 M16.3,134.2 l0.4,0.5 M39.3,124.6 l0.1,0.8 M19.4,107.5 l1.2,0.3 M34.4,130.0 l1.3,0.6 M36.7,121.9 l-0.8,0.2 M21.6,123.8 l-1.4,0.5 M35.8,120.8 l-0.9,0.5 M15.9,114.4 l-1.0,0.3 M34.7,129.6 l1.7,0.7 M24.1,108.1 l-1.4,0.7 M13.8,142.9 l-0.7,1.6 M21.4,120.3 l0.7,0.2 M37.8,120.4 l1.1,0.2 M44.3,124.3 l0.3,0.9 M13.0,126.6 l1.3,0.5 M45.6,141.8 l1.7,0.6 M16.1,125.5 l-1.5,0.1 M27.7,114.9 l-1.3,0.1 M23.7,136.4 l0.6,0.3 M45.8,122.6 l-1.5,0.4 M30.0,115.4 l0.9,1.0 M39.3,128.2 l1.4,1.0 M16.8,110.7 l0.3,1.6 M42.9,110.5 l1.4,0.5 M21.1,118.3 l-0.5,0.6 M39.5,117.5 l-0.6,1.3 M43.5,140.8 l1.0,1.7 M16.8,120.8 l-0.8,0.1 M35.6,134.3 l2.1,0.0 M23.2,138.1 l0.5,1.9 M36.3,117.6 l-0.0,1.7 M34.1,135.8 l0.0,0.6 M40.5,134.9 l1.4,0.2 M29.2,108.8 l-2.0,0.2 M20.6,137.2 l0.6,1.5 M20.2,115.0 l-0.7,1.3 M38.8,124.2 l1.0,1.5 M28.0,131.4 l1.3,1.4 M17.3,106.3 l-0.6,0.5 M28.5,121.5 l0.1,1.4 M34.4,137.4 l-1.2,1.5 M47.6,112.1 l0.4,0.7 M25.3,107.6 l1.3,0.0 M22.8,133.2 l1.8,1.1 M44.2,131.6 l0.4,1.3 M26.7,105.1 l-1.3,1.1 M43.0,131.3 l-1.9,0.8 M40.5,120.6 l-1.0,1.8 M37.7,121.7 l0.5,0.9 M36.5,134.8 l-0.2,1.9 M25.2,107.8 l0.3,0.8 M22.4,104.3 l0.2,0.7 M42.0,117.0 l0.8,0.2 M12.2,106.3 l-1.0,0.9 M40.9,122.1 l-0.5,1.4 M18.1,121.1 l-0.8,0.5 M22.6,136.7 l-0.1,0.9 M35.9,127.8 l-0.8,0.9 M23.1,131.1 l-0.0,0.7 M35.1,140.6 l1.4,0.2 M28.9,121.7 l0.8,1.0 M14.6,131.0 l0.5,0.6 M22.9,141.2 l1.1,0.3 M46.0,107.5 l1.3,1.0 M23.8,131.4 l-0.6,0.3 M20.2,115.4 l-1.2,0.7 M32.5,122.1 l-0.4,1.2 M27.3,109.3 l-1.0,0.4 M25.1,128.1 l1.1,0.7 M38.4,105.7 l-1.5,1.4 M14.4,107.3 l1.0,1.3 M13.2,122.3 l0.9,1.5 M30.4,138.1 l-0.7,1.8 M18.4,123.0 l-0.3,0.7 M43.9,118.8 l-2.1,0.4 M16.7,133.9 l0.1,1.0 M26.5,114.2 l0.3,1.6 M28.4,115.5 l-1.4,0.9 M20.8,124.0 l-0.0,2.0 M40.0,116.3 l-0.3,0.8 M45.6,105.8 l0.9,1.1 M40.4,112.8 l0.8,0.1 M18.9,143.4 l0.5,0.5 M16.0,143.8 l-1.9,0.5 M40.2,114.2 l0.5,0.5 M18.3,132.8 l1.1,0.0 M42.6,138.0 l-1.4,1.5 M32.1,119.3 l0.4,0.5 M21.4,122.3 l1.0,0.2 M25.3,142.3 l-1.6,0.9 M33.3,116.9 l0.9,1.4 M42.8,135.6 l0.5,0.3 M33.0,113.1 l0.6,0.8 M19.4,130.6 l1.1,1.4 M19.4,140.8 l-0.5,1.7 M38.4,123.5 l-0.7,1.6 M14.8,111.5 l-0.1,0.7 M38.7,117.9 l-0.1,1.9 M22.9,126.4 l-0.5,1.0 M22.0,122.8 l-0.4,0.7 M28.1,126.4 l2.0,0.7 M12.7,123.9 l1.0,0.1 M14.9,118.1 l-0.2,0.6 M27.9,114.3 l0.0,0.8 M36.0,132.8 l-0.2,1.8 M46.4,128.5 l-0.0,1.7 M23.9,131.4 l-0.6,1.5 M36.1,141.0 l-1.1,1.4 M20.3,128.6 l1.8,0.3 M20.2,123.7 l-1.2,1.4 M28.9,141.6 l-0.5,2.1 M15.0,135.1 l-0.2,1.8 M43.0,109.9 l-0.6,1.6 M46.5,136.1 l1.3,0.3 M44.9,141.8 l0.9,1.6 M31.1,130.7 l-1.6,0.7 M46.9,123.7 l-0.7,1.3 M13.8,142.4 l0.0,0.7 M18.9,141.1 l1.1,1.5 M20.7,130.7 l-1.3,0.4 M23.8,114.4 l0.8,0.0 M45.9,118.2 l1.0,1.3 M29.2,108.7 l0.6,0.6 M40.3,108.2 l-1.1,1.0 M43.4,116.7 l2.0,0.3 M27.3,104.1 l-1.7,0.1 M38.5,136.4 l0.8,1.1 M44.7,140.3 l-1.5,0.1 M23.0,107.3 l-0.1,1.3 M23.2,141.9 l1.0,1.5 M20.8,120.9 l1.6,1.5 M34.4,124.9 l-0.7,1.2 M25.2,109.9 l1.2,0.5 M12.4,131.0 l0.8,0.7 M29.4,106.7 l-1.4,0.5 M22.5,132.5 l-2.0,0.7 M35.9,106.0 l-1.4,0.8 M19.5,113.4 l-0.1,0.9 M28.0,139.8 l0.0,1.9 M29.4,139.4 l-1.1,0.1 M45.3,137.5 l-0.5,0.5 M36.5,105.6 l0.4,0.8 M20.1,124.6 l0.8,0.9 M46.1,127.9 l-0.6,0.1 M43.7,107.8 l-1.2,1.3 M34.1,123.0 l0.2,0.9 M19.9,108.5 l-2.1,0.3 M24.5,120.5 l-1.1,0.9 M13.7,122.4 l-0.5,1.1 M22.7,116.1 l-0.0,1.4 M36.5,122.9 l0.4,1.8 M45.5,128.9 l-1.4,1.1 M19.0,120.7 l1.7,0.1 M23.8,114.2 l1.7,0.1 M24.9,121.4 l-1.6,0.5 M19.9,143.6 l-0.4,1.6 M22.3,139.6 l-0.5,0.6 M42.0,115.5 l-0.8,0.8 M35.7,122.9 l-0.5,0.9 M14.7,108.4 l-0.7,2.1 M34.4,138.1 l0.0,1.3 M29.0,118.9 l-0.2,0.8 M46.4,125.1 l-0.2,1.5 M32.7,108.6 l-0.8,0.9 M16.6,136.6 l-0.9,0.8 M16.7,134.4 l-0.9,1.5 M21.8,104.1 l-1.2,0.9 M47.4,113.1 l0.3,1.5 M22.9,113.2 l-0.7,1.9 M33.7,124.0 l-0.5,1.2 M21.6,131.3 l0.9,0.1 M24.9,131.5 l0.1,1.9 M36.5,121.0 l1.5,0.1 M42.9,139.2 l-1.2,0.8 M45.7,117.1 l-0.9,2.0 M24.2,119.6 l-0.4,0.6 M42.6,109.8 l-1.4,0.2 M39.2,117.8 l0.9,2.0 M36.5,114.6 l-1.5,0.5 M33.3,110.0 l-0.3,0.6 M12.0,119.0 l0.0,0.7 M32.1,131.0 l-0.4,1.4 M40.4,127.1 l-0.4,1.9 M33.9,138.2 l0.3,0.7 M39.5,132.4 l0.8,0.9 M45.7,122.5 l-2.2,0.1 M18.4,111.9 l0.5,1.3 M36.6,114.9 l0.8,0.6 M31.6,121.1 l1.9,0.9 M21.4,117.7 l1.2,1.8 M37.0,111.4 l0.9,0.5 M24.1,110.6 l-0.1,1.1 M21.2,109.7 l0.1,0.7 M29.0,139.4 l-0.1,1.0 M39.3,118.7 l-0.8,1.0 M13.1,114.7 l0.6,1.4 M46.3,131.5 l-0.7,2.1 M40.4,122.4 l-1.5,0.3 M33.5,116.3 l0.1,2.1 M13.6,106.9 l-1.3,0.8 M21.2,108.0 l0.8,0.3 M38.8,111.7 l-0.3,0.8 M42.0,130.0 l-1.2,1.3 M21.6,120.9 l0.7,1.9 M27.7,136.0 l0.9,0.2 M32.8,135.6 l0.9,0.9 M28.5,120.8 l-0.3,1.0 M24.4,124.3 l0.2,0.7 M35.6,138.7 l-0.4,1.2 M32.2,126.2 l-0.2,1.4 M35.1,117.2 l-0.6,1.4 M22.7,122.8 l-0.8,1.8 M25.4,125.5 l-0.5,0.9 M20.9,140.9 l-0.5,0.9 M29.7,122.1 l1.8,1.1 M13.4,109.7 l0.4,0.8 M39.9,143.3 l-0.7,1.0 M35.9,109.3 l-0.5,0.7 M35.4,106.5 l-1.9,0.1 M37.8,121.6 l-1.4,0.3 M37.5,141.4 l1.6,0.6 M27.4,122.5 l-1.4,1.3 M38.1,121.2 l0.4,1.3 M40.9,109.4 l-1.0,0.6 M44.0,141.6 l-0.5,1.1 M28.8,125.9 l-0.8,1.9 M21.0,135.9 l1.6,1.0 M29.7,131.0 l0.8,1.3 M31.7,115.4 l-1.7,0.2 M21.6,131.3 l0.7,1.5 M25.5,135.2 l-0.9,0.6 M18.2,117.2 l-2.0,0.8 M42.6,113.8 l0.0,0.8 M19.6,119.9 l1.4,0.7" stroke="#ffffff" stroke-width="0.4" opacity="0.75" fill="none"/>
<ellipse cx="28" cy="124" rx="2" ry="1.1" fill="#fff"/>
<ellipse cx="36.2" cy="126.7" rx="1.9" ry="1.4" fill="none" stroke="#fff" stroke-width="0.8"/>
<path d="M41.5,137 L45.5,128.5 L44.5,134.5 Z M40,140 l2,-3 M43,131 l1,-4" fill="#fff" stroke="#fff" stroke-width="0.6" opacity="0.9"/>
<path d="M31,125 q2,-2 3,1 M33,130 q2,1 4,0 M38,121 l2,1 M30,118 l1.5,1 M39,108 l1,2 M24,121 l1.2,0.8 M35,135 l1.5,1.5" stroke="#fff" stroke-width="0.5" fill="none" opacity="0.85"/>
</g>
<path d="M59.7,109.1 l-1.4,0.2 M59.5,107.4 l0.8,1.4 M60.8,106.6 l-1.0,1.0 M63.8,102.8 l0.9,0.5 M65.6,99.4 l0.6,0.8 M61.0,108.6 l0.6,0.4 M57.2,102.7 l-0.7,0.9 M62.8,104.6 l0.5,1.0 M57.4,109.5 l-0.5,0.5 M58.8,107.6 l-0.0,1.5 M63.8,100.6 l-0.7,0.4 M58.2,107.2 l-0.8,0.5 M60.5,107.1 l0.7,0.9 M65.9,100.4 l-1.6,0.3 M66.0,101.7 l0.9,0.7 M58.5,109.2 l-0.4,1.6 M61.4,104.5 l-0.7,0.1 M59.0,108.4 l-0.4,1.5 M66.0,107.5 l-0.5,1.4 M61.8,101.4 l0.9,1.5 M61.7,99.4 l-0.8,1.6 M62.6,104.4 l0.2,1.3 M62.5,104.4 l-1.6,0.5 M64.0,107.0 l-0.5,0.6 M61.4,101.9 l1.4,1.0 M59.1,108.0 l-0.9,0.5 M57.2,101.0 l-0.6,1.3 M60.2,105.6 l1.2,0.7 M64.0,107.6 l-0.3,1.3 M57.0,101.9 l0.2,0.7 M57.7,109.5 l-0.7,1.1 M63.2,108.6 l-0.5,1.0 M60.5,109.7 l-0.8,0.1 M64.4,106.1 l0.7,1.3 M59.5,107.2 l-0.2,1.3 M57.5,108.9 l-1.5,0.2 M59.6,106.9 l1.2,0.4 M60.1,104.2 l0.4,0.5 M60.9,101.6 l0.9,0.5 M58.1,99.2 l-0.7,0.1 M75.0,142.0 l1.0,0.4 M67.6,135.1 l-0.1,0.6 M63.7,147.5 l-0.7,0.4 M65.7,152.0 l0.4,0.6 M62.7,150.4 l0.7,1.2 M75.8,145.8 l1.0,0.7 M64.2,143.1 l-0.6,1.7 M71.1,143.7 l-1.0,0.7 M61.7,146.7 l0.6,0.6 M65.4,143.2 l1.0,0.1 M76.3,143.7 l0.5,1.1 M71.3,143.6 l0.4,1.2 M63.2,147.0 l0.3,1.4 M64.6,146.1 l1.0,0.7 M67.4,134.3 l1.1,0.4 M72.5,149.4 l-1.4,0.7 M76.4,137.7 l0.7,0.4 M73.1,137.6 l0.4,0.6 M75.3,138.0 l1.0,0.9 M71.4,134.7 l-0.3,1.2 M68.5,143.8 l-1.3,0.9 M74.4,140.3 l1.2,0.2 M58.5,146.1 l0.1,1.5 M73.8,147.9 l-0.6,0.8 M71.8,146.1 l1.3,1.0 M67.0,144.1 l1.3,0.9 M67.0,148.1 l-1.1,0.6 M69.1,142.8 l1.1,1.1 M75.5,134.7 l1.2,0.1 M59.5,142.3 l0.4,0.8 M72.7,145.1 l-0.8,0.2 M65.2,145.7 l-0.8,0.7 M61.5,141.3 l-0.4,1.7 M70.4,150.0 l-1.0,0.6 M67.6,149.8 l-0.7,0.8 M61.6,147.9 l0.6,0.7 M62.8,147.0 l-0.8,1.5 M69.2,143.2 l-0.7,0.3 M69.2,152.8 l0.4,0.7 M60.2,134.5 l-0.7,0.8 M73.6,149.9 l1.0,0.1 M63.0,139.0 l0.9,0.1 M64.5,142.6 l-0.2,1.8 M60.1,136.5 l-0.9,0.3 M68.2,139.8 l-1.6,0.6 M68.8,135.8 l0.6,1.3 M68.8,139.3 l0.2,0.6 M65.7,149.7 l0.4,1.1 M61.2,147.5 l0.3,1.0 M72.7,139.6 l1.3,0.3 M72.0,135.0 l0.8,1.5 M67.7,141.7 l0.9,0.4 M69.2,151.4 l-0.9,1.5 M65.7,135.3 l0.5,0.9 M59.1,135.5 l-1.6,0.5 M60.5,135.6 l-0.8,0.0 M63.7,138.3 l0.5,0.4 M66.8,148.7 l1.2,0.3 M60.5,149.0 l-1.6,0.5 M68.1,136.7 l-0.4,0.5 M72.7,139.7 l-0.9,0.3 M72.1,143.4 l0.9,0.8 M66.2,137.0 l-0.2,1.2 M71.3,140.5 l-0.3,0.8 M67.9,138.6 l-0.6,0.5 M63.5,135.3 l0.7,1.0 M62.3,136.3 l-0.9,0.3 M62.1,141.6 l-1.3,0.7 M75.1,144.4 l0.6,1.0 M59.1,147.0 l-1.5,0.8 M73.8,146.3 l-0.8,0.5 M68.7,137.1 l-1.2,0.2 M61.4,152.7 l-0.3,0.8 M74.1,145.9 l-0.6,1.5 M64.0,139.3 l-0.2,0.8 M71.3,143.1 l0.6,0.4 M61.1,144.9 l-1.5,0.4 M74.1,144.8 l-0.8,0.6 M65.0,151.2 l0.9,1.0 M68.8,135.0 l-0.3,1.5 M74.9,142.0 l-0.6,0.2 M75.2,146.9 l-0.9,0.6 M69.2,149.7 l0.6,0.5 M72.3,150.6 l0.9,0.8 M67.6,139.9 l-0.8,0.4 M72.8,141.8 l1.6,0.8 M60.8,135.9 l1.0,0.1 M58.5,136.9 l-0.9,0.2 M71.6,138.1 l0.6,0.0 M60.3,152.1 l0.1,0.9 M48.7,128.3 l0.4,0.7 M54.6,129.2 l0.6,1.1 M50.8,127.3 l1.7,0.2 M61.9,127.5 l0.1,1.1 M59.2,127.5 l-0.7,0.9 M54.0,129.4 l0.9,0.5 M51.6,122.7 l-0.9,0.4 M59.1,120.6 l-1.1,0.3 M59.2,121.4 l-0.5,1.5 M52.3,121.2 l0.5,1.4 M59.4,120.8 l0.9,1.4 M52.3,121.1 l-1.5,0.6 M54.7,129.1 l-1.1,1.1 M50.8,129.5 l-1.5,0.4 M55.8,125.1 l-1.8,0.1 M60.1,126.6 l-1.6,0.5 M55.6,121.7 l-0.3,0.7 M53.0,127.4 l-0.0,1.4 M60.3,132.3 l1.0,1.4 M52.8,124.5 l-1.3,1.2 M55.6,130.3 l-0.8,0.5 M57.3,132.2 l0.7,0.0 M61.1,127.4 l0.4,1.5 M54.7,121.8 l0.7,1.3 M57.6,126.4 l1.8,0.1" stroke="#ffffff" stroke-width="0.35" opacity="0.7" fill="none"/></g>
<linearGradient id="cbv" x1="0" y1="1" x2="0" y2="0"><stop offset="0" stop-color="#1e3a8a"/><stop offset="0.2" stop-color="#2f6cb0"/><stop offset="0.36" stop-color="#3fa0a0"/><stop offset="0.5" stop-color="#d8d040"/><stop offset="0.7" stop-color="#f0a030"/><stop offset="0.86" stop-color="#e86028"/><stop offset="1" stop-color="#d02828"/></linearGradient>
<linearGradient id="cbh" x1="0" y1="0" x2="1" y2="0"><stop offset="0" stop-color="#f01020"/><stop offset="0.25" stop-color="#c81060"/><stop offset="0.5" stop-color="#9010b0"/><stop offset="0.75" stop-color="#5a20d8"/><stop offset="1" stop-color="#1c24f0"/></linearGradient>
</defs>
<rect width="440" height="366" fill="#fff"/>
<use href="#uc" transform="translate(0,0)"/>
<use href="#ucb" transform="translate(86.9,0)"/>
<use href="#ucc" transform="translate(176.4,0)"/>
<use href="#un" transform="translate(0,0)"/>
<use href="#unb" transform="translate(87.5,0)"/>
<use href="#unc" transform="translate(177,0)"/>
<text x="3.20" y="5.80" font-size="8.2" font-weight="bold" fill="#111" textLength="5.0" lengthAdjust="spacingAndGlyphs" >A</text>
<text x="16.40" y="5.50" font-size="6.8" font-weight="bold" font-style="italic" fill="#111" textLength="57.2" lengthAdjust="spacingAndGlyphs" >All HNSCC Patients</text>
<text x="91.00" y="5.80" font-size="8.2" font-weight="bold" fill="#111" textLength="4.9" lengthAdjust="spacingAndGlyphs" >B</text>
<text x="101.70" y="5.50" font-size="6.8" font-weight="bold" font-style="italic" fill="#111" textLength="63.9" lengthAdjust="spacingAndGlyphs" >Opioid-naive Patients</text>
<text x="178.90" y="5.90" font-size="8.2" font-weight="bold" fill="#111" textLength="4.6" lengthAdjust="spacingAndGlyphs" >C</text>
<text x="189.00" y="5.50" font-size="6.8" font-weight="bold" font-style="italic" fill="#111" textLength="78.7" lengthAdjust="spacingAndGlyphs" >Opioid-prescribed Patients</text>
<rect x="252.9" y="8.00" width="1.6" height="1.6" fill="#3cba3c" transform="rotate(45 253.7 8.80)"/>
<text x="256.30" y="9.85" font-size="3.0" fill="#333" >CD8+ T</text>
<rect x="252.9" y="11.10" width="1.6" height="1.6" fill="#f01818" transform="rotate(45 253.7 11.90)"/>
<text x="256.30" y="12.95" font-size="3.0" fill="#333" >CD4+ T</text>
<rect x="252.9" y="14.20" width="1.6" height="1.6" fill="#1616e8" transform="rotate(45 253.7 15.00)"/>
<text x="256.30" y="16.05" font-size="3.0" fill="#333" >B cell</text>
<rect x="252.9" y="17.30" width="1.6" height="1.6" fill="#9a30e0" transform="rotate(45 253.7 18.10)"/>
<text x="256.30" y="19.15" font-size="3.0" fill="#333" >Macrophage</text>
<rect x="252.9" y="20.40" width="1.6" height="1.6" fill="#f5a01a" transform="rotate(45 253.7 21.20)"/>
<text x="256.30" y="22.25" font-size="3.0" fill="#333" >T regulatory</text>
<rect x="252.9" y="23.50" width="1.6" height="1.6" fill="#f4b8bc" transform="rotate(45 253.7 24.30)"/>
<text x="256.30" y="25.35" font-size="3.0" fill="#333" >CD8+ LAG3+ CTLA4+ T</text>
<rect x="252.9" y="26.60" width="1.6" height="1.6" fill="#30dcec" transform="rotate(45 253.7 27.40)"/>
<text x="256.30" y="28.45" font-size="3.0" fill="#333" >CD3+ Conv T</text>
<rect x="252.9" y="29.70" width="1.6" height="1.6" fill="#e020e0" transform="rotate(45 253.7 30.50)"/>
<text x="256.30" y="31.55" font-size="3.0" fill="#333" >NK cell</text>
<rect x="252.9" y="32.80" width="1.6" height="1.6" fill="#a0c040" transform="rotate(45 253.7 33.60)"/>
<text x="256.30" y="34.65" font-size="3.0" fill="#333" >Plasmacell</text>
<rect x="252.9" y="35.90" width="1.6" height="1.6" fill="#a8d8f0" transform="rotate(45 253.7 36.70)"/>
<text x="256.30" y="37.75" font-size="3.0" fill="#333" >Plasmocytoid DC</text>
<rect x="252.9" y="39.00" width="1.6" height="1.6" fill="#1a5a1a" transform="rotate(45 253.7 39.80)"/>
<text x="256.30" y="40.85" font-size="3.0" fill="#333" >DCs</text>
<rect x="252.9" y="42.10" width="1.6" height="1.6" fill="#8a2040" transform="rotate(45 253.7 42.90)"/>
<text x="256.30" y="43.95" font-size="3.0" fill="#333" >Mastcell</text>
<rect x="268.6" y="88.8" width="3.5" height="67.8" fill="url(#cbv)"/>
<text x="288.10" y="5.70" font-size="8.2" font-weight="bold" fill="#111" textLength="5.2" lengthAdjust="spacingAndGlyphs" >D</text>
<text x="305" y="7.0" font-size="6.3" font-weight="bold" fill="#111" textLength="81.2" lengthAdjust="spacingAndGlyphs"><tspan font-style="italic">OPRM1</tspan> average expression</text>
<text x="298.90" y="17.40" font-size="6.0" font-weight="bold" fill="#111" textLength="12.700000000000045" lengthAdjust="spacingAndGlyphs" >0.025</text>
<text x="316.40" y="17.40" font-size="6.0" font-weight="bold" fill="#111" textLength="10.0" lengthAdjust="spacingAndGlyphs" >0.02</text>
<text x="333.60" y="17.40" font-size="6.0" font-weight="bold" fill="#111" textLength="11.399999999999977" lengthAdjust="spacingAndGlyphs" >0.015</text>
<text x="352.50" y="17.40" font-size="6.0" font-weight="bold" fill="#111" textLength="9.100000000000023" lengthAdjust="spacingAndGlyphs" >0.01</text>
<text x="369.50" y="17.40" font-size="6.0" font-weight="bold" fill="#111" textLength="12.5" lengthAdjust="spacingAndGlyphs" >0.005</text>
<text x="388.90" y="17.40" font-size="6.0" font-weight="bold" fill="#111" textLength="2.900000000000034" lengthAdjust="spacingAndGlyphs" >0</text>
<rect x="299.5" y="20.1" width="91.5" height="4.8" fill="url(#cbh)"/>
<text x="279.50" y="23.60" font-size="2.8" fill="#555" >Ln+ T</text>
<g stroke="#d0d0d0" stroke-width="0.4" stroke-dasharray="0.9,1.1">
<line x1="300.5" y1="29" x2="300.5" y2="152"/>
<line x1="315" y1="29" x2="315" y2="152"/>
<line x1="329.2" y1="29" x2="329.2" y2="152"/>
<line x1="343.7" y1="29" x2="343.7" y2="152"/>
<line x1="358" y1="29" x2="358" y2="152"/>
<line x1="372.5" y1="29" x2="372.5" y2="152"/>
<line x1="296" y1="35.4" x2="387" y2="35.4"/>
<line x1="296" y1="45.4" x2="387" y2="45.4"/>
<line x1="296" y1="55.4" x2="387" y2="55.4"/>
<line x1="296" y1="65.4" x2="387" y2="65.4"/>
<line x1="296" y1="75.4" x2="387" y2="75.4"/>
<line x1="296" y1="85.4" x2="387" y2="85.4"/>
<line x1="296" y1="95.4" x2="387" y2="95.4"/>
<line x1="296" y1="105.4" x2="387" y2="105.4"/>
<line x1="296" y1="115.4" x2="387" y2="115.4"/>
<line x1="296" y1="125.4" x2="387" y2="125.4"/>
<line x1="296" y1="135.4" x2="387" y2="135.4"/>
<line x1="296" y1="145.4" x2="387" y2="145.4"/>
</g>
<line x1="387.2" y1="28.4" x2="387.2" y2="153" stroke="#999" stroke-width="0.5"/>
<circle cx="389.6" cy="35.4" r="1.35" fill="#a0c040"/>
<text transform="translate(391.90,37.20) scale(0.85,1)" font-size="5.0" fill="#111" >Plasmacell</text>
<circle cx="389.6" cy="45.4" r="1.35" fill="#1616e8"/>
<text transform="translate(391.90,47.20) scale(0.85,1)" font-size="5.0" fill="#111" >B cell</text>
<circle cx="389.6" cy="55.4" r="1.35" fill="#1a5a1a"/>
<text transform="translate(391.90,57.20) scale(0.85,1)" font-size="5.0" fill="#111" >DCs</text>
<circle cx="389.6" cy="65.4" r="1.35" fill="#a8d8f0"/>
<text transform="translate(391.90,67.20) scale(0.85,1)" font-size="5.0" fill="#111" >Plasmocytoid DC</text>
<circle cx="389.6" cy="75.4" r="1.35" fill="#9a30e0"/>
<text transform="translate(391.90,77.20) scale(0.85,1)" font-size="5.0" fill="#111" >Macrophage</text>
<circle cx="389.6" cy="85.4" r="1.35" fill="#e020e0"/>
<text transform="translate(391.90,87.20) scale(0.85,1)" font-size="5.0" fill="#111" >NK cell</text>
<circle cx="389.6" cy="95.4" r="1.35" fill="#6a1a3a"/>
<text transform="translate(391.90,97.20) scale(0.85,1)" font-size="5.0" fill="#111" >Mastcell</text>
<circle cx="389.6" cy="105.4" r="1.35" fill="#f4b8bc"/>
<text transform="translate(391.90,107.20) scale(0.85,1)" font-size="5.0" fill="#111" >CD8+ LAG3+ CTLA4+ T</text>
<circle cx="389.6" cy="115.4" r="1.35" fill="#d02020"/>
<text transform="translate(391.90,117.20) scale(0.85,1)" font-size="5.0" fill="#111" >CD4+ T</text>
<circle cx="389.6" cy="125.4" r="1.35" fill="#30dcec"/>
<text transform="translate(391.90,127.20) scale(0.85,1)" font-size="5.0" fill="#111" >CD3+ Conv T</text>
<circle cx="389.6" cy="135.4" r="1.35" fill="#f5a01a"/>
<text transform="translate(391.90,137.20) scale(0.85,1)" font-size="5.0" fill="#111" >T regulatory</text>
<circle cx="389.6" cy="145.4" r="1.35" fill="#3cba3c"/>
<text transform="translate(391.90,147.20) scale(0.85,1)" font-size="5.0" fill="#111" >CD8+ T</text>
<circle cx="383.6" cy="65.4" r="0.35" fill="#8080c0" stroke="#502030" stroke-width="0"/>
<circle cx="383.6" cy="75.4" r="0.35" fill="#8080c0" stroke="#502030" stroke-width="0"/>
<circle cx="367.3" cy="85.4" r="1.2" fill="#3a20a0" stroke="#502030" stroke-width="0"/>
<circle cx="363.2" cy="95.4" r="1.2" fill="#3a20a0" stroke="#502030" stroke-width="0"/>
<circle cx="336.7" cy="105.4" r="4.0" fill="#b03070" stroke="#502030" stroke-width="0.5"/>
<circle cx="330.7" cy="115.4" r="3.0" fill="#c03060" stroke="#502030" stroke-width="0.5"/>
<circle cx="327.5" cy="125.4" r="3.4" fill="#c83a5c" stroke="#502030" stroke-width="0.5"/>
<circle cx="320.5" cy="135.4" r="3.4" fill="#d84050" stroke="#502030" stroke-width="0.5"/>
<circle cx="308" cy="145.4" r="4.3" fill="#ee4040" stroke="#502030" stroke-width="0.5"/>
<text x="2.60" y="174.00" font-size="8.4" font-weight="bold" fill="#111" textLength="4.8" lengthAdjust="spacingAndGlyphs" >E</text>
<text x="58.3" y="174.3" font-size="6.5" font-weight="bold" fill="#111" textLength="55.2" lengthAdjust="spacingAndGlyphs"><tspan font-style="italic">OPRM1</tspan> expression</text>
<rect x="137.5" y="170.2" width="2.7" height="3.7" fill="#f01818"/>
<text x="142.20" y="173.90" font-size="4.6" font-weight="bold" fill="#222" textLength="19" lengthAdjust="spacingAndGlyphs" >No opioid</text>
<rect x="137.5" y="178.8" width="2.7" height="3.7" fill="#1a1ad0"/>
<text x="142.20" y="182.50" font-size="4.6" font-weight="bold" fill="#222" textLength="13.3" lengthAdjust="spacingAndGlyphs" >Opioid</text>
<g stroke="#d6d6d6" stroke-width="0.4" stroke-dasharray="0.8,1">
<line x1="21" y1="254.7" x2="170" y2="254.7"/>
<line x1="21" y1="243.7" x2="170" y2="243.7"/>
<line x1="21" y1="232.7" x2="170" y2="232.7"/>
<line x1="21" y1="221.7" x2="170" y2="221.7"/>
<line x1="21" y1="210.7" x2="170" y2="210.7"/>
<line x1="21" y1="199.7" x2="170" y2="199.7"/>
<line x1="21" y1="188.7" x2="170" y2="188.7"/>
<line x1="26.2" y1="183" x2="26.2" y2="266"/>
<line x1="38.9" y1="183" x2="38.9" y2="266"/>
<line x1="51.2" y1="183" x2="51.2" y2="266"/>
<line x1="63.8" y1="183" x2="63.8" y2="266"/>
<line x1="76.2" y1="183" x2="76.2" y2="266"/>
<line x1="88.9" y1="183" x2="88.9" y2="266"/>
<line x1="101.3" y1="183" x2="101.3" y2="266"/>
<line x1="113.8" y1="183" x2="113.8" y2="266"/>
<line x1="126.5" y1="183" x2="126.5" y2="266"/>
<line x1="139.1" y1="183" x2="139.1" y2="266"/>
<line x1="151.4" y1="183" x2="151.4" y2="266"/>
<line x1="163.8" y1="183" x2="163.8" y2="266"/>
</g>
<text x="19.60" y="266.90" font-size="3.3" text-anchor="end" fill="#444" >0</text>
<text x="19.60" y="255.90" font-size="3.3" text-anchor="end" fill="#444" >0.5</text>
<text x="19.60" y="244.90" font-size="3.3" text-anchor="end" fill="#444" >1</text>
<text x="19.60" y="233.90" font-size="3.3" text-anchor="end" fill="#444" >1.5</text>
<text x="19.60" y="222.90" font-size="3.3" text-anchor="end" fill="#444" >2</text>
<text x="19.60" y="211.90" font-size="3.3" text-anchor="end" fill="#444" >2.5</text>
<text x="19.60" y="200.90" font-size="3.3" text-anchor="end" fill="#444" >3</text>
<text x="19.60" y="189.90" font-size="3.3" text-anchor="end" fill="#444" >3.5</text>
<text transform="translate(10.60,233.00) rotate(-90)" font-size="5.0" text-anchor="middle" fill="#222" textLength="37.3" lengthAdjust="spacingAndGlyphs" >Expression level</text>
<line x1="26.2" y1="198.2" x2="26.2" y2="266" stroke="#a6abd8" stroke-width="1.8"/>
<ellipse cx="26.2" cy="265.7" rx="3.0" ry="1.2" fill="#7c84cc"/>
<ellipse cx="26.2" cy="265.7" rx="1.4" ry="0.8" fill="#e03030"/>
<circle cx="26.2" cy="198.7" r="0.6" fill="#e82020"/>
<g fill="#f03030" opacity="0.82"><circle cx="24.5" cy="231.3" r="0.62"/><circle cx="25.5" cy="231.8" r="0.62"/><circle cx="25.7" cy="233.2" r="0.62"/><circle cx="25.9" cy="233.3" r="0.62"/><circle cx="26.3" cy="237.1" r="0.62"/><circle cx="25.8" cy="225.7" r="0.62"/><circle cx="26.7" cy="214.0" r="0.62"/><circle cx="25.0" cy="209.5" r="0.62"/><circle cx="27.4" cy="256.5" r="0.62"/><circle cx="25.9" cy="236.6" r="0.62"/><circle cx="27.2" cy="218.5" r="0.62"/><circle cx="26.3" cy="211.4" r="0.62"/><circle cx="26.2" cy="220.3" r="0.62"/><circle cx="26.4" cy="231.7" r="0.62"/><circle cx="26.8" cy="230.9" r="0.62"/><circle cx="25.3" cy="237.5" r="0.62"/><circle cx="25.7" cy="232.9" r="0.62"/><circle cx="25.4" cy="224.6" r="0.62"/><circle cx="27.8" cy="260.0" r="0.62"/><circle cx="26.2" cy="239.9" r="0.62"/><circle cx="26.3" cy="226.2" r="0.62"/><circle cx="26.9" cy="212.3" r="0.62"/><circle cx="24.9" cy="242.2" r="0.62"/><circle cx="27.2" cy="229.0" r="0.62"/><circle cx="26.2" cy="253.6" r="0.62"/><circle cx="26.2" cy="221.3" r="0.62"/><circle cx="24.5" cy="249.7" r="0.62"/><circle cx="26.6" cy="229.4" r="0.62"/><circle cx="25.2" cy="212.6" r="0.62"/><circle cx="25.1" cy="224.2" r="0.62"/><circle cx="25.1" cy="213.8" r="0.62"/><circle cx="27.9" cy="241.9" r="0.62"/><circle cx="26.2" cy="216.0" r="0.62"/><circle cx="26.6" cy="211.4" r="0.62"/><circle cx="26.7" cy="243.6" r="0.62"/><circle cx="27.2" cy="231.2" r="0.62"/><circle cx="26.1" cy="220.3" r="0.62"/><circle cx="25.8" cy="237.6" r="0.62"/><circle cx="25.7" cy="215.9" r="0.62"/><circle cx="26.5" cy="224.2" r="0.62"/><circle cx="26.4" cy="255.0" r="0.62"/><circle cx="25.5" cy="248.1" r="0.62"/><circle cx="24.9" cy="221.4" r="0.62"/><circle cx="27.2" cy="237.5" r="0.62"/><circle cx="26.8" cy="214.8" r="0.62"/><circle cx="26.2" cy="223.7" r="0.62"/><circle cx="25.9" cy="242.5" r="0.62"/><circle cx="26.8" cy="212.6" r="0.62"/><circle cx="25.6" cy="214.0" r="0.62"/><circle cx="25.9" cy="236.2" r="0.62"/><circle cx="24.5" cy="228.4" r="0.62"/><circle cx="26.8" cy="232.4" r="0.62"/><circle cx="26.6" cy="235.3" r="0.62"/><circle cx="25.8" cy="218.3" r="0.62"/><circle cx="26.5" cy="249.6" r="0.62"/><circle cx="25.6" cy="220.3" r="0.62"/><circle cx="26.7" cy="241.1" r="0.62"/><circle cx="26.0" cy="252.9" r="0.62"/><circle cx="25.5" cy="248.0" r="0.62"/><circle cx="25.7" cy="215.0" r="0.62"/><circle cx="26.8" cy="209.2" r="0.62"/><circle cx="26.1" cy="239.8" r="0.62"/><circle cx="26.7" cy="223.6" r="0.62"/><circle cx="25.2" cy="225.2" r="0.62"/><circle cx="26.1" cy="219.5" r="0.62"/><circle cx="25.9" cy="222.3" r="0.62"/><circle cx="26.9" cy="234.8" r="0.62"/><circle cx="25.3" cy="224.7" r="0.62"/><circle cx="26.2" cy="250.2" r="0.62"/><circle cx="26.3" cy="224.2" r="0.62"/><circle cx="26.7" cy="231.1" r="0.62"/><circle cx="26.4" cy="228.3" r="0.62"/><circle cx="26.7" cy="235.2" r="0.62"/><circle cx="26.8" cy="248.5" r="0.62"/><circle cx="25.5" cy="256.3" r="0.62"/><circle cx="25.1" cy="235.6" r="0.62"/><circle cx="26.4" cy="217.5" r="0.62"/><circle cx="26.2" cy="249.7" r="0.62"/><circle cx="26.4" cy="239.6" r="0.62"/><circle cx="26.2" cy="237.3" r="0.62"/><circle cx="26.1" cy="232.3" r="0.62"/><circle cx="25.5" cy="261.0" r="0.62"/><circle cx="24.9" cy="212.8" r="0.62"/><circle cx="25.8" cy="249.1" r="0.62"/><circle cx="25.8" cy="241.0" r="0.62"/><circle cx="24.8" cy="250.1" r="0.62"/><circle cx="25.5" cy="227.6" r="0.62"/><circle cx="24.5" cy="247.3" r="0.62"/><circle cx="26.6" cy="230.1" r="0.62"/><circle cx="24.6" cy="235.3" r="0.62"/><circle cx="25.4" cy="236.9" r="0.62"/><circle cx="27.0" cy="236.4" r="0.62"/><circle cx="24.5" cy="213.2" r="0.62"/><circle cx="24.5" cy="247.8" r="0.62"/><circle cx="25.1" cy="240.7" r="0.62"/><circle cx="27.1" cy="235.5" r="0.62"/><circle cx="26.4" cy="230.9" r="0.62"/><circle cx="25.9" cy="241.6" r="0.62"/><circle cx="25.4" cy="208.0" r="0.62"/><circle cx="25.6" cy="222.4" r="0.62"/><circle cx="25.0" cy="239.5" r="0.62"/><circle cx="26.2" cy="250.5" r="0.62"/><circle cx="26.9" cy="223.6" r="0.62"/><circle cx="26.3" cy="238.8" r="0.62"/><circle cx="27.1" cy="221.0" r="0.62"/><circle cx="27.8" cy="238.1" r="0.62"/><circle cx="26.8" cy="231.0" r="0.62"/><circle cx="25.7" cy="238.4" r="0.62"/><circle cx="24.8" cy="220.8" r="0.62"/><circle cx="26.8" cy="250.0" r="0.62"/><circle cx="25.4" cy="247.8" r="0.62"/><circle cx="26.9" cy="226.2" r="0.62"/><circle cx="24.6" cy="217.2" r="0.62"/><circle cx="26.2" cy="246.1" r="0.62"/><circle cx="26.9" cy="240.0" r="0.62"/><circle cx="26.0" cy="219.2" r="0.62"/><circle cx="26.1" cy="231.3" r="0.62"/><circle cx="26.8" cy="230.0" r="0.62"/><circle cx="25.5" cy="237.0" r="0.62"/><circle cx="26.2" cy="245.6" r="0.62"/><circle cx="25.9" cy="256.5" r="0.62"/><circle cx="26.3" cy="208.3" r="0.62"/><circle cx="27.5" cy="247.4" r="0.62"/><circle cx="26.5" cy="235.2" r="0.62"/><circle cx="26.2" cy="225.9" r="0.62"/><circle cx="26.0" cy="217.2" r="0.62"/><circle cx="27.8" cy="231.4" r="0.62"/><circle cx="26.4" cy="222.7" r="0.62"/><circle cx="27.3" cy="217.5" r="0.62"/><circle cx="26.5" cy="231.1" r="0.62"/><circle cx="25.3" cy="237.1" r="0.62"/><circle cx="24.9" cy="253.7" r="0.62"/><circle cx="26.5" cy="239.0" r="0.62"/><circle cx="27.1" cy="219.7" r="0.62"/><circle cx="24.9" cy="204.8" r="0.62"/><circle cx="26.4" cy="219.7" r="0.62"/><circle cx="25.5" cy="224.3" r="0.62"/><circle cx="27.3" cy="233.6" r="0.62"/><circle cx="26.2" cy="236.6" r="0.62"/><circle cx="25.4" cy="243.3" r="0.62"/><circle cx="27.9" cy="249.5" r="0.62"/><circle cx="27.2" cy="240.4" r="0.62"/><circle cx="25.1" cy="216.8" r="0.62"/><circle cx="26.5" cy="249.7" r="0.62"/><circle cx="24.6" cy="228.6" r="0.62"/><circle cx="25.5" cy="243.6" r="0.62"/><circle cx="25.0" cy="252.3" r="0.62"/><circle cx="26.5" cy="221.1" r="0.62"/><circle cx="26.7" cy="240.4" r="0.62"/><circle cx="25.1" cy="240.3" r="0.62"/><circle cx="27.9" cy="221.5" r="0.62"/><circle cx="24.8" cy="255.8" r="0.62"/><circle cx="26.4" cy="234.1" r="0.62"/><circle cx="25.5" cy="249.7" r="0.62"/><circle cx="26.0" cy="246.5" r="0.62"/><circle cx="26.5" cy="230.9" r="0.62"/><circle cx="26.3" cy="234.6" r="0.62"/><circle cx="25.2" cy="207.9" r="0.62"/><circle cx="27.6" cy="244.1" r="0.62"/><circle cx="26.8" cy="219.4" r="0.62"/><circle cx="26.3" cy="227.0" r="0.62"/><circle cx="25.7" cy="218.0" r="0.62"/><circle cx="25.9" cy="233.5" r="0.62"/><circle cx="24.6" cy="239.2" r="0.62"/><circle cx="24.5" cy="252.5" r="0.62"/><circle cx="26.3" cy="213.7" r="0.62"/><circle cx="25.5" cy="221.9" r="0.62"/><circle cx="26.1" cy="240.7" r="0.62"/><circle cx="24.6" cy="237.4" r="0.62"/><circle cx="26.0" cy="234.9" r="0.62"/><circle cx="25.0" cy="226.0" r="0.62"/><circle cx="27.3" cy="249.1" r="0.62"/><circle cx="27.5" cy="221.3" r="0.62"/><circle cx="24.5" cy="233.7" r="0.62"/><circle cx="26.5" cy="235.3" r="0.62"/><circle cx="27.2" cy="233.0" r="0.62"/><circle cx="27.9" cy="236.3" r="0.62"/><circle cx="26.6" cy="233.5" r="0.62"/><circle cx="26.5" cy="229.5" r="0.62"/><circle cx="25.2" cy="232.6" r="0.62"/><circle cx="27.2" cy="239.3" r="0.62"/><circle cx="26.6" cy="230.0" r="0.62"/><circle cx="26.8" cy="253.5" r="0.62"/><circle cx="25.9" cy="232.0" r="0.62"/><circle cx="24.8" cy="216.6" r="0.62"/><circle cx="26.8" cy="249.1" r="0.62"/><circle cx="26.0" cy="232.2" r="0.62"/><circle cx="26.7" cy="236.7" r="0.62"/><circle cx="27.2" cy="250.8" r="0.62"/><circle cx="27.3" cy="207.0" r="0.62"/><circle cx="26.4" cy="220.5" r="0.62"/><circle cx="27.5" cy="226.4" r="0.62"/><circle cx="25.9" cy="227.8" r="0.62"/><circle cx="25.9" cy="240.8" r="0.62"/><circle cx="25.6" cy="216.3" r="0.62"/><circle cx="26.2" cy="220.7" r="0.62"/><circle cx="25.4" cy="233.9" r="0.62"/><circle cx="26.5" cy="230.0" r="0.62"/><circle cx="26.5" cy="233.9" r="0.62"/><circle cx="26.7" cy="237.2" r="0.62"/><circle cx="24.6" cy="237.4" r="0.62"/><circle cx="25.9" cy="236.5" r="0.62"/><circle cx="26.4" cy="246.5" r="0.62"/><circle cx="27.6" cy="244.2" r="0.62"/><circle cx="25.9" cy="249.2" r="0.62"/><circle cx="26.9" cy="250.6" r="0.62"/><circle cx="27.9" cy="221.8" r="0.62"/><circle cx="26.2" cy="217.0" r="0.62"/><circle cx="26.1" cy="222.8" r="0.62"/><circle cx="25.5" cy="214.5" r="0.62"/><circle cx="24.9" cy="245.2" r="0.62"/><circle cx="26.9" cy="216.5" r="0.62"/><circle cx="26.1" cy="229.6" r="0.62"/><circle cx="26.1" cy="220.9" r="0.62"/><circle cx="27.9" cy="238.9" r="0.62"/><circle cx="25.0" cy="215.8" r="0.62"/><circle cx="26.3" cy="233.1" r="0.62"/><circle cx="25.2" cy="239.1" r="0.62"/><circle cx="26.6" cy="220.3" r="0.62"/><circle cx="26.4" cy="209.0" r="0.62"/><circle cx="25.1" cy="234.6" r="0.62"/><circle cx="26.1" cy="217.8" r="0.62"/><circle cx="26.7" cy="220.0" r="0.62"/><circle cx="27.8" cy="258.0" r="0.62"/><circle cx="26.5" cy="250.9" r="0.62"/><circle cx="26.4" cy="253.0" r="0.62"/><circle cx="26.3" cy="231.7" r="0.62"/><circle cx="25.4" cy="231.8" r="0.62"/><circle cx="25.2" cy="233.4" r="0.62"/><circle cx="26.7" cy="205.4" r="0.62"/><circle cx="26.5" cy="239.6" r="0.62"/><circle cx="25.8" cy="231.4" r="0.62"/><circle cx="25.7" cy="241.1" r="0.62"/><circle cx="26.5" cy="218.9" r="0.62"/><circle cx="27.9" cy="233.4" r="0.62"/><circle cx="26.4" cy="243.8" r="0.62"/><circle cx="27.0" cy="239.8" r="0.62"/><circle cx="25.3" cy="229.6" r="0.62"/><circle cx="24.5" cy="236.1" r="0.62"/><circle cx="26.1" cy="243.9" r="0.62"/><circle cx="27.4" cy="223.7" r="0.62"/><circle cx="25.5" cy="242.7" r="0.62"/><circle cx="24.7" cy="244.4" r="0.62"/><circle cx="27.2" cy="247.8" r="0.62"/><circle cx="26.4" cy="239.4" r="0.62"/><circle cx="24.8" cy="229.7" r="0.62"/><circle cx="26.9" cy="240.5" r="0.62"/><circle cx="26.5" cy="231.9" r="0.62"/><circle cx="25.5" cy="204.8" r="0.62"/><circle cx="27.2" cy="236.9" r="0.62"/><circle cx="27.4" cy="222.4" r="0.62"/><circle cx="25.8" cy="227.1" r="0.62"/><circle cx="25.2" cy="238.1" r="0.62"/><circle cx="25.8" cy="229.1" r="0.62"/><circle cx="25.4" cy="261.6" r="0.62"/><circle cx="25.2" cy="242.0" r="0.62"/><circle cx="27.4" cy="256.2" r="0.62"/><circle cx="26.4" cy="241.1" r="0.62"/><circle cx="26.0" cy="223.6" r="0.62"/><circle cx="26.4" cy="220.6" r="0.62"/><circle cx="26.7" cy="228.6" r="0.62"/><circle cx="26.6" cy="249.4" r="0.62"/><circle cx="24.5" cy="234.5" r="0.62"/><circle cx="26.1" cy="235.1" r="0.62"/><circle cx="25.2" cy="259.1" r="0.62"/><circle cx="25.0" cy="212.9" r="0.62"/><circle cx="26.2" cy="236.0" r="0.62"/><circle cx="25.9" cy="251.2" r="0.62"/><circle cx="25.7" cy="218.6" r="0.62"/><circle cx="26.3" cy="232.8" r="0.62"/><circle cx="27.9" cy="236.5" r="0.62"/><circle cx="26.9" cy="230.2" r="0.62"/><circle cx="25.5" cy="233.8" r="0.62"/><circle cx="25.7" cy="224.9" r="0.62"/><circle cx="25.6" cy="238.0" r="0.62"/><circle cx="25.9" cy="240.2" r="0.62"/><circle cx="26.8" cy="225.3" r="0.62"/><circle cx="26.3" cy="209.6" r="0.62"/><circle cx="26.2" cy="218.4" r="0.62"/><circle cx="25.4" cy="248.9" r="0.62"/><circle cx="27.9" cy="241.5" r="0.62"/><circle cx="27.0" cy="252.4" r="0.62"/><circle cx="26.9" cy="212.6" r="0.62"/><circle cx="25.7" cy="232.2" r="0.62"/><circle cx="26.2" cy="255.3" r="0.62"/><circle cx="27.2" cy="251.8" r="0.62"/><circle cx="24.5" cy="240.5" r="0.62"/><circle cx="26.7" cy="244.5" r="0.62"/><circle cx="27.1" cy="236.2" r="0.62"/><circle cx="27.0" cy="231.4" r="0.62"/><circle cx="27.2" cy="221.0" r="0.62"/><circle cx="26.5" cy="216.4" r="0.62"/><circle cx="25.7" cy="231.0" r="0.62"/><circle cx="25.4" cy="223.8" r="0.62"/><circle cx="24.9" cy="235.6" r="0.62"/><circle cx="26.9" cy="233.9" r="0.62"/><circle cx="27.5" cy="260.0" r="0.62"/><circle cx="25.8" cy="222.7" r="0.62"/><circle cx="27.4" cy="215.7" r="0.62"/><circle cx="25.3" cy="236.9" r="0.62"/><circle cx="26.0" cy="227.9" r="0.62"/><circle cx="27.5" cy="235.0" r="0.62"/><circle cx="25.2" cy="235.9" r="0.62"/><circle cx="25.1" cy="220.3" r="0.62"/><circle cx="27.9" cy="223.2" r="0.62"/><circle cx="26.0" cy="247.8" r="0.62"/><circle cx="26.8" cy="209.3" r="0.62"/><circle cx="26.5" cy="230.4" r="0.62"/><circle cx="27.0" cy="236.9" r="0.62"/><circle cx="26.8" cy="212.5" r="0.62"/><circle cx="25.7" cy="213.7" r="0.62"/><circle cx="25.2" cy="237.1" r="0.62"/><circle cx="25.6" cy="228.5" r="0.62"/><circle cx="26.3" cy="227.3" r="0.62"/><circle cx="26.4" cy="241.3" r="0.62"/><circle cx="25.9" cy="216.1" r="0.62"/><circle cx="25.2" cy="244.1" r="0.62"/><circle cx="25.2" cy="221.5" r="0.62"/><circle cx="26.1" cy="230.3" r="0.62"/><circle cx="27.7" cy="228.3" r="0.62"/></g>
<line x1="38.9" y1="197.3" x2="38.9" y2="266" stroke="#a6abd8" stroke-width="1.8"/>
<ellipse cx="38.9" cy="265.7" rx="3.0" ry="1.2" fill="#7c84cc"/>
<ellipse cx="38.9" cy="265.7" rx="1.4" ry="0.8" fill="#e03030"/>
<circle cx="38.9" cy="197.8" r="0.6" fill="#e82020"/>
<g fill="#f03030" opacity="0.82"><circle cx="39.6" cy="237.5" r="0.62"/><circle cx="38.9" cy="234.0" r="0.62"/><circle cx="39.6" cy="241.0" r="0.62"/><circle cx="38.5" cy="227.7" r="0.62"/><circle cx="39.1" cy="213.7" r="0.62"/><circle cx="38.7" cy="212.6" r="0.62"/><circle cx="37.8" cy="234.5" r="0.62"/><circle cx="39.0" cy="224.9" r="0.62"/><circle cx="39.4" cy="242.3" r="0.62"/><circle cx="39.1" cy="237.8" r="0.62"/><circle cx="38.5" cy="212.5" r="0.62"/><circle cx="40.0" cy="239.0" r="0.62"/><circle cx="39.3" cy="224.2" r="0.62"/><circle cx="39.5" cy="240.2" r="0.62"/><circle cx="39.8" cy="227.6" r="0.62"/><circle cx="39.7" cy="234.7" r="0.62"/><circle cx="40.4" cy="250.1" r="0.62"/><circle cx="38.3" cy="230.3" r="0.62"/><circle cx="38.7" cy="243.5" r="0.62"/><circle cx="39.5" cy="228.9" r="0.62"/><circle cx="39.3" cy="251.4" r="0.62"/><circle cx="38.6" cy="227.4" r="0.62"/><circle cx="38.4" cy="227.6" r="0.62"/><circle cx="39.5" cy="228.4" r="0.62"/><circle cx="37.7" cy="219.9" r="0.62"/><circle cx="38.4" cy="233.8" r="0.62"/><circle cx="38.5" cy="245.2" r="0.62"/><circle cx="38.7" cy="241.6" r="0.62"/><circle cx="38.9" cy="247.6" r="0.62"/><circle cx="39.1" cy="233.0" r="0.62"/><circle cx="37.4" cy="233.9" r="0.62"/><circle cx="38.1" cy="237.4" r="0.62"/><circle cx="39.8" cy="243.6" r="0.62"/><circle cx="39.3" cy="242.8" r="0.62"/><circle cx="40.0" cy="212.7" r="0.62"/><circle cx="39.5" cy="248.8" r="0.62"/><circle cx="38.6" cy="212.8" r="0.62"/><circle cx="38.6" cy="241.0" r="0.62"/><circle cx="38.9" cy="237.3" r="0.62"/><circle cx="39.4" cy="241.8" r="0.62"/><circle cx="39.0" cy="233.2" r="0.62"/><circle cx="38.2" cy="226.5" r="0.62"/><circle cx="38.5" cy="254.6" r="0.62"/><circle cx="38.1" cy="233.7" r="0.62"/><circle cx="38.5" cy="240.0" r="0.62"/><circle cx="37.4" cy="229.3" r="0.62"/><circle cx="38.2" cy="244.6" r="0.62"/><circle cx="37.6" cy="243.7" r="0.62"/><circle cx="40.3" cy="245.0" r="0.62"/><circle cx="37.7" cy="237.0" r="0.62"/><circle cx="38.6" cy="233.2" r="0.62"/><circle cx="37.6" cy="229.7" r="0.62"/><circle cx="39.6" cy="229.7" r="0.62"/><circle cx="39.9" cy="258.1" r="0.62"/><circle cx="39.2" cy="228.0" r="0.62"/><circle cx="39.3" cy="229.8" r="0.62"/><circle cx="39.2" cy="224.6" r="0.62"/><circle cx="38.9" cy="225.3" r="0.62"/><circle cx="38.1" cy="215.0" r="0.62"/><circle cx="37.9" cy="219.0" r="0.62"/><circle cx="37.9" cy="210.8" r="0.62"/><circle cx="39.2" cy="249.5" r="0.62"/><circle cx="39.3" cy="208.0" r="0.62"/><circle cx="39.2" cy="221.0" r="0.62"/><circle cx="38.7" cy="221.9" r="0.62"/><circle cx="37.9" cy="221.4" r="0.62"/><circle cx="38.8" cy="219.3" r="0.62"/><circle cx="39.4" cy="241.5" r="0.62"/><circle cx="37.6" cy="225.4" r="0.62"/><circle cx="38.5" cy="231.7" r="0.62"/><circle cx="40.2" cy="223.1" r="0.62"/><circle cx="37.8" cy="226.7" r="0.62"/><circle cx="39.7" cy="234.0" r="0.62"/><circle cx="38.7" cy="221.2" r="0.62"/><circle cx="40.2" cy="209.5" r="0.62"/><circle cx="38.5" cy="228.3" r="0.62"/><circle cx="38.3" cy="233.4" r="0.62"/><circle cx="38.8" cy="257.9" r="0.62"/><circle cx="38.9" cy="237.6" r="0.62"/><circle cx="39.0" cy="231.5" r="0.62"/><circle cx="39.2" cy="227.8" r="0.62"/><circle cx="37.8" cy="235.9" r="0.62"/><circle cx="39.3" cy="217.8" r="0.62"/><circle cx="39.5" cy="223.1" r="0.62"/><circle cx="37.8" cy="246.9" r="0.62"/><circle cx="38.8" cy="258.5" r="0.62"/><circle cx="38.5" cy="223.4" r="0.62"/><circle cx="38.8" cy="242.1" r="0.62"/><circle cx="39.5" cy="200.7" r="0.62"/><circle cx="37.6" cy="244.4" r="0.62"/><circle cx="38.8" cy="212.6" r="0.62"/><circle cx="40.1" cy="213.7" r="0.62"/><circle cx="37.4" cy="231.8" r="0.62"/><circle cx="39.3" cy="235.2" r="0.62"/><circle cx="38.5" cy="246.3" r="0.62"/><circle cx="40.1" cy="229.5" r="0.62"/><circle cx="40.1" cy="250.0" r="0.62"/><circle cx="39.7" cy="220.6" r="0.62"/><circle cx="38.5" cy="233.9" r="0.62"/><circle cx="38.8" cy="244.9" r="0.62"/><circle cx="38.8" cy="225.4" r="0.62"/><circle cx="39.2" cy="225.1" r="0.62"/><circle cx="38.7" cy="231.3" r="0.62"/><circle cx="38.2" cy="238.7" r="0.62"/><circle cx="38.2" cy="214.4" r="0.62"/><circle cx="39.4" cy="254.4" r="0.62"/><circle cx="38.8" cy="244.8" r="0.62"/><circle cx="38.8" cy="228.0" r="0.62"/><circle cx="39.0" cy="239.6" r="0.62"/><circle cx="39.9" cy="231.0" r="0.62"/><circle cx="40.2" cy="203.8" r="0.62"/><circle cx="38.8" cy="220.5" r="0.62"/><circle cx="38.7" cy="236.2" r="0.62"/><circle cx="39.6" cy="233.7" r="0.62"/><circle cx="38.5" cy="224.8" r="0.62"/><circle cx="39.5" cy="238.0" r="0.62"/><circle cx="39.3" cy="222.9" r="0.62"/><circle cx="40.1" cy="226.1" r="0.62"/><circle cx="37.8" cy="252.2" r="0.62"/><circle cx="38.4" cy="226.2" r="0.62"/><circle cx="39.2" cy="244.7" r="0.62"/><circle cx="39.1" cy="213.5" r="0.62"/><circle cx="38.8" cy="238.4" r="0.62"/><circle cx="38.4" cy="229.0" r="0.62"/><circle cx="38.6" cy="245.2" r="0.62"/><circle cx="38.7" cy="221.5" r="0.62"/><circle cx="39.4" cy="217.7" r="0.62"/><circle cx="39.4" cy="211.7" r="0.62"/><circle cx="38.1" cy="250.3" r="0.62"/><circle cx="39.3" cy="237.3" r="0.62"/><circle cx="39.2" cy="241.9" r="0.62"/><circle cx="38.2" cy="226.2" r="0.62"/><circle cx="39.7" cy="229.4" r="0.62"/><circle cx="39.0" cy="239.2" r="0.62"/><circle cx="39.2" cy="256.4" r="0.62"/><circle cx="37.8" cy="236.0" r="0.62"/><circle cx="38.6" cy="205.4" r="0.62"/><circle cx="39.5" cy="237.4" r="0.62"/><circle cx="38.3" cy="214.4" r="0.62"/><circle cx="39.5" cy="242.9" r="0.62"/><circle cx="38.6" cy="244.6" r="0.62"/><circle cx="38.6" cy="241.9" r="0.62"/><circle cx="38.2" cy="249.0" r="0.62"/><circle cx="38.7" cy="232.5" r="0.62"/><circle cx="38.4" cy="216.8" r="0.62"/><circle cx="37.4" cy="233.0" r="0.62"/><circle cx="39.2" cy="239.8" r="0.62"/><circle cx="38.5" cy="252.2" r="0.62"/><circle cx="39.0" cy="236.6" r="0.62"/><circle cx="39.2" cy="222.4" r="0.62"/><circle cx="38.7" cy="234.9" r="0.62"/><circle cx="38.3" cy="250.9" r="0.62"/><circle cx="38.5" cy="227.4" r="0.62"/><circle cx="39.0" cy="255.2" r="0.62"/><circle cx="39.7" cy="216.4" r="0.62"/><circle cx="38.4" cy="234.4" r="0.62"/><circle cx="38.8" cy="234.4" r="0.62"/><circle cx="40.4" cy="258.3" r="0.62"/><circle cx="38.6" cy="244.2" r="0.62"/><circle cx="38.7" cy="244.6" r="0.62"/><circle cx="39.3" cy="224.4" r="0.62"/><circle cx="38.6" cy="234.8" r="0.62"/><circle cx="39.3" cy="244.9" r="0.62"/><circle cx="39.8" cy="212.1" r="0.62"/><circle cx="39.8" cy="207.5" r="0.62"/><circle cx="40.4" cy="251.8" r="0.62"/><circle cx="38.5" cy="237.7" r="0.62"/><circle cx="39.9" cy="240.7" r="0.62"/><circle cx="37.8" cy="228.2" r="0.62"/><circle cx="38.2" cy="205.0" r="0.62"/><circle cx="38.5" cy="220.1" r="0.62"/><circle cx="39.0" cy="228.4" r="0.62"/><circle cx="39.3" cy="234.7" r="0.62"/><circle cx="39.7" cy="223.3" r="0.62"/><circle cx="38.4" cy="234.6" r="0.62"/><circle cx="39.8" cy="208.2" r="0.62"/><circle cx="40.1" cy="238.1" r="0.62"/><circle cx="40.4" cy="235.7" r="0.62"/><circle cx="38.0" cy="231.4" r="0.62"/><circle cx="39.5" cy="238.8" r="0.62"/><circle cx="38.9" cy="241.5" r="0.62"/><circle cx="38.0" cy="258.9" r="0.62"/><circle cx="39.4" cy="245.3" r="0.62"/><circle cx="38.3" cy="230.2" r="0.62"/><circle cx="39.7" cy="234.6" r="0.62"/><circle cx="38.4" cy="233.3" r="0.62"/><circle cx="39.4" cy="230.1" r="0.62"/><circle cx="38.5" cy="210.1" r="0.62"/><circle cx="39.9" cy="240.2" r="0.62"/><circle cx="38.2" cy="235.6" r="0.62"/><circle cx="38.6" cy="241.3" r="0.62"/><circle cx="39.8" cy="211.5" r="0.62"/><circle cx="38.1" cy="215.7" r="0.62"/><circle cx="39.2" cy="228.8" r="0.62"/><circle cx="38.6" cy="209.8" r="0.62"/><circle cx="38.0" cy="222.1" r="0.62"/><circle cx="38.5" cy="225.2" r="0.62"/><circle cx="39.2" cy="211.4" r="0.62"/><circle cx="40.0" cy="249.6" r="0.62"/><circle cx="38.7" cy="246.8" r="0.62"/><circle cx="39.1" cy="229.7" r="0.62"/><circle cx="38.4" cy="241.0" r="0.62"/><circle cx="39.2" cy="234.6" r="0.62"/><circle cx="38.7" cy="243.0" r="0.62"/><circle cx="37.4" cy="215.6" r="0.62"/><circle cx="38.5" cy="200.1" r="0.62"/><circle cx="38.7" cy="222.4" r="0.62"/><circle cx="39.5" cy="210.8" r="0.62"/><circle cx="39.2" cy="248.5" r="0.62"/><circle cx="38.2" cy="227.2" r="0.62"/><circle cx="39.1" cy="235.2" r="0.62"/><circle cx="39.0" cy="248.7" r="0.62"/><circle cx="37.4" cy="225.2" r="0.62"/><circle cx="38.9" cy="255.7" r="0.62"/><circle cx="39.1" cy="231.5" r="0.62"/><circle cx="39.5" cy="250.4" r="0.62"/><circle cx="39.4" cy="248.6" r="0.62"/><circle cx="40.2" cy="227.1" r="0.62"/><circle cx="39.6" cy="231.5" r="0.62"/><circle cx="40.3" cy="259.2" r="0.62"/></g>
<line x1="51.2" y1="234.5" x2="51.2" y2="266" stroke="#a6abd8" stroke-width="1.8"/>
<ellipse cx="51.2" cy="265.7" rx="3.0" ry="1.2" fill="#7c84cc"/>
<ellipse cx="51.2" cy="265.7" rx="1.4" ry="0.8" fill="#e03030"/>
<circle cx="51.2" cy="235.0" r="0.6" fill="#e82020"/>
<g fill="#f03030" opacity="0.82"><circle cx="51.1" cy="248.2" r="0.62"/><circle cx="51.1" cy="257.7" r="0.62"/><circle cx="51.4" cy="244.1" r="0.62"/><circle cx="51.3" cy="250.2" r="0.62"/><circle cx="51.4" cy="258.1" r="0.62"/></g>
<line x1="63.8" y1="217.3" x2="63.8" y2="266" stroke="#a6abd8" stroke-width="1.8"/>
<ellipse cx="63.8" cy="265.7" rx="3.0" ry="1.2" fill="#7c84cc"/>
<ellipse cx="63.8" cy="265.7" rx="1.4" ry="0.8" fill="#e03030"/>
<circle cx="63.8" cy="217.8" r="0.6" fill="#e82020"/>
<g fill="#f03030" opacity="0.82"><circle cx="63.5" cy="249.6" r="0.62"/><circle cx="64.1" cy="256.8" r="0.62"/><circle cx="63.7" cy="248.3" r="0.62"/><circle cx="63.6" cy="251.2" r="0.62"/><circle cx="64.2" cy="250.8" r="0.62"/><circle cx="63.8" cy="250.5" r="0.62"/><circle cx="64.2" cy="257.7" r="0.62"/><circle cx="63.5" cy="253.3" r="0.62"/><circle cx="63.3" cy="255.7" r="0.62"/><circle cx="63.6" cy="251.3" r="0.62"/></g>
<line x1="76.2" y1="198.2" x2="76.2" y2="266" stroke="#a6abd8" stroke-width="1.8"/>
<ellipse cx="76.2" cy="265.7" rx="3.0" ry="1.2" fill="#7c84cc"/>
<ellipse cx="76.2" cy="265.7" rx="1.4" ry="0.8" fill="#e03030"/>
<circle cx="76.2" cy="198.7" r="0.6" fill="#e82020"/>
<g fill="#f03030" opacity="0.82"><circle cx="77.9" cy="243.9" r="0.62"/><circle cx="76.0" cy="232.4" r="0.62"/><circle cx="75.9" cy="258.7" r="0.62"/><circle cx="75.2" cy="237.7" r="0.62"/><circle cx="76.0" cy="220.3" r="0.62"/><circle cx="76.1" cy="242.0" r="0.62"/><circle cx="76.8" cy="248.3" r="0.62"/><circle cx="75.9" cy="223.5" r="0.62"/><circle cx="77.6" cy="231.2" r="0.62"/><circle cx="75.7" cy="232.5" r="0.62"/><circle cx="76.0" cy="252.4" r="0.62"/><circle cx="77.1" cy="259.3" r="0.62"/><circle cx="76.4" cy="246.5" r="0.62"/><circle cx="77.1" cy="236.1" r="0.62"/><circle cx="75.8" cy="228.5" r="0.62"/><circle cx="75.7" cy="240.9" r="0.62"/><circle cx="75.6" cy="243.6" r="0.62"/><circle cx="75.2" cy="247.6" r="0.62"/><circle cx="76.1" cy="250.0" r="0.62"/><circle cx="74.5" cy="244.4" r="0.62"/><circle cx="75.9" cy="228.2" r="0.62"/><circle cx="76.8" cy="247.5" r="0.62"/><circle cx="77.2" cy="230.8" r="0.62"/><circle cx="76.4" cy="237.7" r="0.62"/><circle cx="74.7" cy="247.9" r="0.62"/><circle cx="75.6" cy="230.8" r="0.62"/><circle cx="76.2" cy="241.5" r="0.62"/><circle cx="77.3" cy="239.4" r="0.62"/><circle cx="76.5" cy="245.3" r="0.62"/><circle cx="76.6" cy="241.4" r="0.62"/><circle cx="75.8" cy="227.1" r="0.62"/><circle cx="75.3" cy="217.2" r="0.62"/><circle cx="76.2" cy="237.8" r="0.62"/><circle cx="76.3" cy="231.9" r="0.62"/><circle cx="75.9" cy="252.9" r="0.62"/><circle cx="74.7" cy="241.3" r="0.62"/><circle cx="75.8" cy="230.9" r="0.62"/><circle cx="76.1" cy="226.8" r="0.62"/><circle cx="76.4" cy="233.7" r="0.62"/><circle cx="75.5" cy="242.6" r="0.62"/><circle cx="76.1" cy="241.8" r="0.62"/><circle cx="76.4" cy="223.5" r="0.62"/><circle cx="75.7" cy="231.6" r="0.62"/><circle cx="75.6" cy="227.5" r="0.62"/><circle cx="74.7" cy="247.7" r="0.62"/><circle cx="75.5" cy="221.6" r="0.62"/><circle cx="76.6" cy="230.0" r="0.62"/><circle cx="77.2" cy="257.3" r="0.62"/><circle cx="76.5" cy="246.8" r="0.62"/><circle cx="76.8" cy="259.1" r="0.62"/><circle cx="76.9" cy="246.3" r="0.62"/><circle cx="76.3" cy="219.7" r="0.62"/><circle cx="77.9" cy="226.6" r="0.62"/><circle cx="75.9" cy="236.3" r="0.62"/><circle cx="77.1" cy="222.7" r="0.62"/><circle cx="77.6" cy="219.2" r="0.62"/><circle cx="76.2" cy="245.9" r="0.62"/><circle cx="76.2" cy="230.6" r="0.62"/><circle cx="77.3" cy="231.1" r="0.62"/><circle cx="76.9" cy="238.4" r="0.62"/><circle cx="75.9" cy="234.5" r="0.62"/><circle cx="76.0" cy="258.5" r="0.62"/><circle cx="76.0" cy="236.6" r="0.62"/><circle cx="76.9" cy="243.4" r="0.62"/><circle cx="76.5" cy="244.7" r="0.62"/><circle cx="74.7" cy="250.8" r="0.62"/><circle cx="75.2" cy="238.4" r="0.62"/><circle cx="76.7" cy="236.3" r="0.62"/><circle cx="75.5" cy="247.5" r="0.62"/><circle cx="75.9" cy="230.0" r="0.62"/><circle cx="76.6" cy="240.8" r="0.62"/><circle cx="76.4" cy="227.7" r="0.62"/><circle cx="76.8" cy="238.5" r="0.62"/><circle cx="74.5" cy="233.5" r="0.62"/><circle cx="77.1" cy="244.2" r="0.62"/><circle cx="76.4" cy="250.7" r="0.62"/><circle cx="77.0" cy="222.5" r="0.62"/><circle cx="75.8" cy="244.6" r="0.62"/><circle cx="76.7" cy="217.3" r="0.62"/><circle cx="76.1" cy="228.5" r="0.62"/><circle cx="77.0" cy="253.8" r="0.62"/><circle cx="76.1" cy="245.3" r="0.62"/><circle cx="77.0" cy="227.2" r="0.62"/><circle cx="75.3" cy="254.7" r="0.62"/><circle cx="77.3" cy="245.6" r="0.62"/><circle cx="76.9" cy="252.9" r="0.62"/><circle cx="76.3" cy="236.0" r="0.62"/><circle cx="76.8" cy="223.2" r="0.62"/><circle cx="75.7" cy="247.1" r="0.62"/><circle cx="77.0" cy="240.0" r="0.62"/><circle cx="76.5" cy="230.9" r="0.62"/><circle cx="76.9" cy="219.8" r="0.62"/><circle cx="77.1" cy="218.9" r="0.62"/><circle cx="75.3" cy="233.7" r="0.62"/><circle cx="76.7" cy="226.3" r="0.62"/><circle cx="76.1" cy="245.1" r="0.62"/><circle cx="77.6" cy="243.9" r="0.62"/><circle cx="76.4" cy="226.9" r="0.62"/><circle cx="76.9" cy="245.3" r="0.62"/><circle cx="74.9" cy="236.7" r="0.62"/><circle cx="77.3" cy="230.4" r="0.62"/><circle cx="75.9" cy="233.0" r="0.62"/><circle cx="76.7" cy="219.8" r="0.62"/><circle cx="75.5" cy="218.1" r="0.62"/><circle cx="75.4" cy="248.5" r="0.62"/><circle cx="75.8" cy="257.8" r="0.62"/><circle cx="77.4" cy="253.6" r="0.62"/><circle cx="75.7" cy="230.0" r="0.62"/><circle cx="75.0" cy="256.0" r="0.62"/><circle cx="76.3" cy="251.0" r="0.62"/><circle cx="77.4" cy="223.6" r="0.62"/><circle cx="76.0" cy="237.4" r="0.62"/><circle cx="76.4" cy="236.0" r="0.62"/><circle cx="75.5" cy="234.2" r="0.62"/><circle cx="76.2" cy="227.4" r="0.62"/><circle cx="75.7" cy="236.6" r="0.62"/><circle cx="76.3" cy="243.8" r="0.62"/><circle cx="76.8" cy="231.0" r="0.62"/><circle cx="76.6" cy="237.2" r="0.62"/><circle cx="75.1" cy="227.1" r="0.62"/><circle cx="75.5" cy="240.8" r="0.62"/><circle cx="77.0" cy="244.9" r="0.62"/><circle cx="76.3" cy="235.4" r="0.62"/><circle cx="76.0" cy="221.7" r="0.62"/><circle cx="76.4" cy="239.3" r="0.62"/><circle cx="75.5" cy="241.7" r="0.62"/><circle cx="76.3" cy="231.5" r="0.62"/><circle cx="75.2" cy="217.9" r="0.62"/><circle cx="77.7" cy="241.2" r="0.62"/><circle cx="75.9" cy="231.9" r="0.62"/><circle cx="75.7" cy="238.6" r="0.62"/><circle cx="77.0" cy="242.5" r="0.62"/><circle cx="76.0" cy="241.4" r="0.62"/><circle cx="76.4" cy="255.1" r="0.62"/><circle cx="75.0" cy="242.6" r="0.62"/><circle cx="75.6" cy="236.9" r="0.62"/><circle cx="76.5" cy="249.3" r="0.62"/><circle cx="74.8" cy="251.5" r="0.62"/><circle cx="77.5" cy="219.6" r="0.62"/><circle cx="75.5" cy="226.3" r="0.62"/><circle cx="76.2" cy="235.3" r="0.62"/><circle cx="76.5" cy="258.0" r="0.62"/><circle cx="76.6" cy="230.5" r="0.62"/><circle cx="76.2" cy="244.3" r="0.62"/><circle cx="76.2" cy="240.6" r="0.62"/><circle cx="76.3" cy="236.3" r="0.62"/><circle cx="77.2" cy="243.4" r="0.62"/><circle cx="75.4" cy="240.7" r="0.62"/><circle cx="75.4" cy="249.4" r="0.62"/><circle cx="75.8" cy="257.2" r="0.62"/><circle cx="76.9" cy="251.8" r="0.62"/><circle cx="75.9" cy="233.7" r="0.62"/><circle cx="74.9" cy="244.5" r="0.62"/><circle cx="76.4" cy="256.7" r="0.62"/><circle cx="75.8" cy="242.6" r="0.62"/><circle cx="75.4" cy="239.2" r="0.62"/><circle cx="75.9" cy="232.7" r="0.62"/><circle cx="75.6" cy="246.4" r="0.62"/><circle cx="76.1" cy="231.4" r="0.62"/><circle cx="76.6" cy="234.1" r="0.62"/><circle cx="77.1" cy="225.8" r="0.62"/><circle cx="76.6" cy="221.8" r="0.62"/><circle cx="76.4" cy="245.0" r="0.62"/><circle cx="74.8" cy="225.0" r="0.62"/><circle cx="76.6" cy="238.9" r="0.62"/><circle cx="77.3" cy="227.6" r="0.62"/><circle cx="74.9" cy="221.0" r="0.62"/><circle cx="74.7" cy="231.5" r="0.62"/><circle cx="76.1" cy="236.3" r="0.62"/><circle cx="76.2" cy="245.4" r="0.62"/><circle cx="77.5" cy="234.2" r="0.62"/><circle cx="76.3" cy="234.4" r="0.62"/><circle cx="74.6" cy="249.3" r="0.62"/><circle cx="75.0" cy="241.2" r="0.62"/><circle cx="76.8" cy="242.7" r="0.62"/><circle cx="76.3" cy="249.4" r="0.62"/><circle cx="75.8" cy="235.8" r="0.62"/><circle cx="76.3" cy="244.0" r="0.62"/><circle cx="76.7" cy="216.5" r="0.62"/><circle cx="77.9" cy="241.7" r="0.62"/><circle cx="75.4" cy="226.2" r="0.62"/><circle cx="75.2" cy="244.5" r="0.62"/><circle cx="76.8" cy="236.4" r="0.62"/><circle cx="76.5" cy="254.5" r="0.62"/><circle cx="76.2" cy="245.3" r="0.62"/><circle cx="76.9" cy="225.3" r="0.62"/><circle cx="76.4" cy="245.8" r="0.62"/><circle cx="76.8" cy="260.4" r="0.62"/><circle cx="76.7" cy="218.3" r="0.62"/><circle cx="75.4" cy="240.6" r="0.62"/><circle cx="76.3" cy="233.6" r="0.62"/><circle cx="76.6" cy="248.2" r="0.62"/><circle cx="75.6" cy="236.3" r="0.62"/><circle cx="76.4" cy="242.5" r="0.62"/><circle cx="74.5" cy="236.2" r="0.62"/><circle cx="74.7" cy="244.7" r="0.62"/><circle cx="75.8" cy="226.9" r="0.62"/><circle cx="77.7" cy="228.2" r="0.62"/><circle cx="77.4" cy="231.4" r="0.62"/><circle cx="76.7" cy="239.1" r="0.62"/></g>
<line x1="88.9" y1="185.1" x2="88.9" y2="266" stroke="#a6abd8" stroke-width="1.8"/>
<ellipse cx="88.9" cy="265.7" rx="3.0" ry="1.2" fill="#7c84cc"/>
<ellipse cx="88.9" cy="265.7" rx="1.4" ry="0.8" fill="#e03030"/>
<circle cx="88.9" cy="185.6" r="0.6" fill="#e82020"/>
<g fill="#f03030" opacity="0.82"><circle cx="89.3" cy="222.8" r="0.62"/><circle cx="89.4" cy="244.0" r="0.62"/><circle cx="89.6" cy="236.1" r="0.62"/><circle cx="88.3" cy="234.5" r="0.62"/><circle cx="89.0" cy="235.6" r="0.62"/><circle cx="90.1" cy="225.8" r="0.62"/><circle cx="89.4" cy="237.2" r="0.62"/><circle cx="89.2" cy="227.7" r="0.62"/><circle cx="89.5" cy="261.5" r="0.62"/><circle cx="89.4" cy="233.5" r="0.62"/><circle cx="88.4" cy="240.2" r="0.62"/><circle cx="88.7" cy="250.3" r="0.62"/><circle cx="89.0" cy="243.6" r="0.62"/><circle cx="88.6" cy="246.1" r="0.62"/><circle cx="88.6" cy="255.9" r="0.62"/><circle cx="89.5" cy="252.4" r="0.62"/><circle cx="88.9" cy="251.2" r="0.62"/><circle cx="89.0" cy="247.9" r="0.62"/><circle cx="89.0" cy="232.2" r="0.62"/><circle cx="89.4" cy="229.9" r="0.62"/><circle cx="89.2" cy="248.7" r="0.62"/><circle cx="88.8" cy="237.2" r="0.62"/><circle cx="88.9" cy="233.8" r="0.62"/><circle cx="89.6" cy="257.2" r="0.62"/><circle cx="89.0" cy="250.4" r="0.62"/><circle cx="88.8" cy="249.9" r="0.62"/><circle cx="88.3" cy="250.2" r="0.62"/><circle cx="89.1" cy="251.0" r="0.62"/><circle cx="87.7" cy="229.0" r="0.62"/><circle cx="88.1" cy="256.6" r="0.62"/><circle cx="89.4" cy="235.3" r="0.62"/><circle cx="89.7" cy="254.3" r="0.62"/><circle cx="89.0" cy="234.5" r="0.62"/><circle cx="88.3" cy="239.5" r="0.62"/><circle cx="89.5" cy="250.4" r="0.62"/><circle cx="88.5" cy="238.9" r="0.62"/><circle cx="88.5" cy="236.2" r="0.62"/><circle cx="88.8" cy="254.1" r="0.62"/><circle cx="89.1" cy="238.0" r="0.62"/><circle cx="89.1" cy="248.3" r="0.62"/><circle cx="89.9" cy="243.5" r="0.62"/><circle cx="89.0" cy="246.7" r="0.62"/><circle cx="89.2" cy="231.1" r="0.62"/><circle cx="88.8" cy="238.4" r="0.62"/><circle cx="88.9" cy="242.5" r="0.62"/><circle cx="88.6" cy="239.9" r="0.62"/><circle cx="89.6" cy="256.7" r="0.62"/><circle cx="89.3" cy="233.6" r="0.62"/><circle cx="88.5" cy="248.7" r="0.62"/><circle cx="89.5" cy="229.4" r="0.62"/><circle cx="88.9" cy="257.4" r="0.62"/><circle cx="88.1" cy="234.2" r="0.62"/><circle cx="89.4" cy="232.6" r="0.62"/><circle cx="88.3" cy="236.1" r="0.62"/><circle cx="87.7" cy="237.6" r="0.62"/><circle cx="87.8" cy="232.8" r="0.62"/><circle cx="90.1" cy="231.3" r="0.62"/><circle cx="88.3" cy="245.6" r="0.62"/><circle cx="89.5" cy="233.9" r="0.62"/><circle cx="89.8" cy="245.1" r="0.62"/><circle cx="88.1" cy="245.4" r="0.62"/><circle cx="88.6" cy="242.5" r="0.62"/><circle cx="88.8" cy="251.4" r="0.62"/><circle cx="88.1" cy="246.9" r="0.62"/><circle cx="89.2" cy="240.4" r="0.62"/><circle cx="89.0" cy="239.4" r="0.62"/><circle cx="89.7" cy="244.1" r="0.62"/><circle cx="89.7" cy="242.8" r="0.62"/><circle cx="89.1" cy="241.1" r="0.62"/><circle cx="87.7" cy="244.6" r="0.62"/><circle cx="88.1" cy="231.5" r="0.62"/><circle cx="89.9" cy="241.6" r="0.62"/><circle cx="88.9" cy="237.3" r="0.62"/><circle cx="89.5" cy="248.2" r="0.62"/><circle cx="88.9" cy="252.5" r="0.62"/><circle cx="89.6" cy="230.3" r="0.62"/><circle cx="88.9" cy="234.7" r="0.62"/><circle cx="88.1" cy="251.5" r="0.62"/><circle cx="87.8" cy="251.1" r="0.62"/><circle cx="87.7" cy="250.0" r="0.62"/><circle cx="88.8" cy="226.8" r="0.62"/><circle cx="88.8" cy="252.6" r="0.62"/><circle cx="88.5" cy="250.3" r="0.62"/><circle cx="87.7" cy="241.3" r="0.62"/><circle cx="88.6" cy="233.3" r="0.62"/><circle cx="88.8" cy="236.3" r="0.62"/><circle cx="88.7" cy="243.7" r="0.62"/><circle cx="88.5" cy="249.7" r="0.62"/><circle cx="88.9" cy="250.1" r="0.62"/><circle cx="89.0" cy="252.0" r="0.62"/></g>
<line x1="101.3" y1="219.3" x2="101.3" y2="266" stroke="#a6abd8" stroke-width="1.8"/>
<ellipse cx="101.3" cy="265.7" rx="3.0" ry="1.2" fill="#7c84cc"/>
<ellipse cx="101.3" cy="265.7" rx="1.4" ry="0.8" fill="#e03030"/>
<circle cx="101.3" cy="219.8" r="0.6" fill="#e82020"/>
<g fill="#f03030" opacity="0.82"><circle cx="100.5" cy="242.5" r="0.62"/><circle cx="101.6" cy="240.4" r="0.62"/><circle cx="101.8" cy="228.4" r="0.62"/><circle cx="100.6" cy="225.9" r="0.62"/><circle cx="102.3" cy="241.1" r="0.62"/><circle cx="101.5" cy="229.0" r="0.62"/><circle cx="101.8" cy="241.3" r="0.62"/><circle cx="101.5" cy="238.0" r="0.62"/><circle cx="101.2" cy="245.4" r="0.62"/><circle cx="100.5" cy="231.2" r="0.62"/><circle cx="100.4" cy="239.4" r="0.62"/><circle cx="101.0" cy="231.0" r="0.62"/><circle cx="100.7" cy="224.5" r="0.62"/><circle cx="101.0" cy="233.8" r="0.62"/><circle cx="102.1" cy="232.7" r="0.62"/><circle cx="101.2" cy="237.8" r="0.62"/><circle cx="100.9" cy="229.3" r="0.62"/><circle cx="101.0" cy="238.9" r="0.62"/><circle cx="101.4" cy="228.9" r="0.62"/><circle cx="100.9" cy="243.5" r="0.62"/><circle cx="100.9" cy="231.0" r="0.62"/><circle cx="100.9" cy="246.0" r="0.62"/><circle cx="100.4" cy="234.2" r="0.62"/><circle cx="101.0" cy="233.3" r="0.62"/><circle cx="101.5" cy="238.1" r="0.62"/><circle cx="101.6" cy="235.2" r="0.62"/><circle cx="100.7" cy="235.7" r="0.62"/><circle cx="101.8" cy="236.5" r="0.62"/><circle cx="101.1" cy="239.1" r="0.62"/><circle cx="100.9" cy="231.8" r="0.62"/><circle cx="101.1" cy="241.8" r="0.62"/><circle cx="101.9" cy="232.9" r="0.62"/><circle cx="100.6" cy="235.7" r="0.62"/><circle cx="100.5" cy="243.2" r="0.62"/><circle cx="101.9" cy="237.7" r="0.62"/><circle cx="101.9" cy="235.6" r="0.62"/><circle cx="101.5" cy="232.8" r="0.62"/><circle cx="101.8" cy="235.5" r="0.62"/><circle cx="101.2" cy="238.9" r="0.62"/><circle cx="101.3" cy="238.7" r="0.62"/><circle cx="101.9" cy="229.4" r="0.62"/><circle cx="101.3" cy="242.3" r="0.62"/><circle cx="101.9" cy="233.9" r="0.62"/><circle cx="101.8" cy="240.8" r="0.62"/><circle cx="100.7" cy="237.0" r="0.62"/><circle cx="101.5" cy="228.4" r="0.62"/><circle cx="101.1" cy="234.2" r="0.62"/><circle cx="101.1" cy="234.4" r="0.62"/><circle cx="100.4" cy="233.9" r="0.62"/><circle cx="101.4" cy="242.3" r="0.62"/><circle cx="101.3" cy="238.2" r="0.62"/><circle cx="100.9" cy="235.9" r="0.62"/><circle cx="101.8" cy="233.4" r="0.62"/><circle cx="100.1" cy="238.6" r="0.62"/><circle cx="100.3" cy="244.8" r="0.62"/><circle cx="100.4" cy="245.7" r="0.62"/><circle cx="102.0" cy="238.4" r="0.62"/><circle cx="101.5" cy="239.0" r="0.62"/><circle cx="101.3" cy="235.8" r="0.62"/><circle cx="101.1" cy="234.9" r="0.62"/><circle cx="101.0" cy="245.5" r="0.62"/><circle cx="101.1" cy="231.3" r="0.62"/><circle cx="101.5" cy="234.8" r="0.62"/><circle cx="101.6" cy="239.6" r="0.62"/><circle cx="101.5" cy="238.4" r="0.62"/><circle cx="101.3" cy="238.0" r="0.62"/><circle cx="100.8" cy="240.7" r="0.62"/><circle cx="101.3" cy="239.4" r="0.62"/><circle cx="101.0" cy="235.9" r="0.62"/><circle cx="102.2" cy="224.6" r="0.62"/></g>
<line x1="113.8" y1="224.6" x2="113.8" y2="266" stroke="#a6abd8" stroke-width="1.8"/>
<ellipse cx="113.8" cy="265.7" rx="3.0" ry="1.2" fill="#7c84cc"/>
<ellipse cx="113.8" cy="265.7" rx="1.4" ry="0.8" fill="#e03030"/>
<circle cx="113.8" cy="225.1" r="0.6" fill="#e82020"/>
<g fill="#f03030" opacity="0.82"><circle cx="113.0" cy="248.8" r="0.62"/><circle cx="113.5" cy="230.4" r="0.62"/><circle cx="114.2" cy="242.9" r="0.62"/><circle cx="113.9" cy="234.2" r="0.62"/><circle cx="113.4" cy="242.5" r="0.62"/><circle cx="113.6" cy="234.7" r="0.62"/><circle cx="113.7" cy="233.5" r="0.62"/><circle cx="113.6" cy="242.6" r="0.62"/><circle cx="114.6" cy="237.8" r="0.62"/><circle cx="114.1" cy="241.0" r="0.62"/><circle cx="113.9" cy="241.6" r="0.62"/><circle cx="113.0" cy="243.2" r="0.62"/><circle cx="114.0" cy="234.0" r="0.62"/><circle cx="114.5" cy="247.8" r="0.62"/><circle cx="114.7" cy="242.7" r="0.62"/><circle cx="113.1" cy="240.9" r="0.62"/><circle cx="113.2" cy="251.0" r="0.62"/><circle cx="114.1" cy="241.0" r="0.62"/><circle cx="113.8" cy="247.2" r="0.62"/><circle cx="113.7" cy="245.7" r="0.62"/><circle cx="113.5" cy="242.8" r="0.62"/><circle cx="114.1" cy="230.7" r="0.62"/><circle cx="114.0" cy="251.1" r="0.62"/><circle cx="113.9" cy="244.4" r="0.62"/><circle cx="113.7" cy="241.0" r="0.62"/><circle cx="113.8" cy="233.1" r="0.62"/><circle cx="114.0" cy="249.4" r="0.62"/><circle cx="113.1" cy="239.5" r="0.62"/><circle cx="113.8" cy="248.6" r="0.62"/><circle cx="113.3" cy="250.3" r="0.62"/></g>
<ellipse cx="126.5" cy="265.7" rx="3.0" ry="1.2" fill="#7c84cc"/>
<ellipse cx="126.5" cy="265.7" rx="1.4" ry="0.8" fill="#e03030"/>
<line x1="139.1" y1="243" x2="139.1" y2="266" stroke="#a6abd8" stroke-width="1.8"/>
<ellipse cx="139.1" cy="265.7" rx="3.0" ry="1.2" fill="#7c84cc"/>
<ellipse cx="139.1" cy="265.7" rx="1.4" ry="0.8" fill="#e03030"/>
<circle cx="139.1" cy="243.5" r="0.6" fill="#e82020"/>
<line x1="151.4" y1="243" x2="151.4" y2="266" stroke="#a6abd8" stroke-width="1.8"/>
<ellipse cx="151.4" cy="265.7" rx="3.0" ry="1.2" fill="#7c84cc"/>
<ellipse cx="151.4" cy="265.7" rx="1.4" ry="0.8" fill="#e03030"/>
<circle cx="151.4" cy="243.5" r="0.6" fill="#e82020"/>
<line x1="163.8" y1="231.6" x2="163.8" y2="266" stroke="#a6abd8" stroke-width="1.8"/>
<ellipse cx="163.8" cy="265.7" rx="3.0" ry="1.2" fill="#7c84cc"/>
<ellipse cx="163.8" cy="265.7" rx="1.4" ry="0.8" fill="#e03030"/>
<circle cx="163.8" cy="232.1" r="0.6" fill="#e82020"/>
<circle cx="26.2" cy="274.5" r="1.6" fill="#3cba3c"/>
<text transform="translate(24.40,276.60) rotate(90)" font-size="5.0" fill="#222" >CD8+ T</text>
<circle cx="38.9" cy="274.5" r="1.6" fill="#f01818"/>
<text transform="translate(37.10,276.60) rotate(90)" font-size="5.0" fill="#222" >CD4+ T</text>
<circle cx="51.2" cy="274.5" r="1.6" fill="#1616e8"/>
<text transform="translate(49.40,276.60) rotate(90)" font-size="5.0" fill="#222" >B cell</text>
<circle cx="63.8" cy="274.5" r="1.6" fill="#9a30e0"/>
<text transform="translate(62.00,276.60) rotate(90)" font-size="5.0" fill="#222" >Macrophage</text>
<circle cx="76.2" cy="274.5" r="1.6" fill="#f5a01a"/>
<text transform="translate(74.40,276.60) rotate(90)" font-size="5.0" fill="#222" >T regulatory</text>
<circle cx="88.9" cy="274.5" r="1.6" fill="#f4b8bc"/>
<text transform="translate(87.10,276.60) rotate(90)" font-size="5.0" fill="#222" textLength="62" lengthAdjust="spacingAndGlyphs" >CD8+ LAG3+ CTLA4+ T</text>
<circle cx="101.3" cy="274.5" r="1.6" fill="#30dcec"/>
<text transform="translate(99.50,276.60) rotate(90)" font-size="5.0" fill="#222" >CD3+ Conv T</text>
<circle cx="113.8" cy="274.5" r="1.6" fill="#e020e0"/>
<text transform="translate(112.00,276.60) rotate(90)" font-size="5.0" fill="#222" >NK cell</text>
<circle cx="126.5" cy="274.5" r="1.6" fill="#a0c040"/>
<text transform="translate(124.70,276.60) rotate(90)" font-size="5.0" fill="#222" >Plasmacell</text>
<circle cx="139.1" cy="274.5" r="1.6" fill="#a8d8f0"/>
<text transform="translate(137.30,276.60) rotate(90)" font-size="5.0" fill="#222" >Plasmocytoid DC</text>
<circle cx="151.4" cy="274.5" r="1.6" fill="#1a5a1a"/>
<text transform="translate(149.60,276.60) rotate(90)" font-size="5.0" fill="#222" >DCs</text>
<circle cx="163.8" cy="274.5" r="1.6" fill="#8a2040"/>
<text transform="translate(162.00,276.60) rotate(90)" font-size="5.0" fill="#222" >Mastcell</text>
<text x="185.00" y="170.60" font-size="8.2" font-weight="bold" fill="#111" textLength="4.6" lengthAdjust="spacingAndGlyphs" >F</text>
<rect x="203.1" y="165.4" width="233.9" height="73.6" fill="none" stroke="#c8c8c8" stroke-width="0.45"/>
<g stroke="#dcdcdc" stroke-width="0.4">
<line x1="211.2" y1="165.4" x2="211.2" y2="239.0"/>
<line x1="222.1" y1="165.4" x2="222.1" y2="239.0"/>
<line x1="233.0" y1="165.4" x2="233.0" y2="239.0"/>
<line x1="243.9" y1="165.4" x2="243.9" y2="239.0"/>
<line x1="254.9" y1="165.4" x2="254.9" y2="239.0"/>
<line x1="265.8" y1="165.4" x2="265.8" y2="239.0"/>
<line x1="276.7" y1="165.4" x2="276.7" y2="239.0"/>
<line x1="287.6" y1="165.4" x2="287.6" y2="239.0"/>
<line x1="298.5" y1="165.4" x2="298.5" y2="239.0"/>
<line x1="309.4" y1="165.4" x2="309.4" y2="239.0"/>
<line x1="320.3" y1="165.4" x2="320.3" y2="239.0"/>
<line x1="331.3" y1="165.4" x2="331.3" y2="239.0"/>
<line x1="342.2" y1="165.4" x2="342.2" y2="239.0"/>
<line x1="353.1" y1="165.4" x2="353.1" y2="239.0"/>
<line x1="364.0" y1="165.4" x2="364.0" y2="239.0"/>
<line x1="374.9" y1="165.4" x2="374.9" y2="239.0"/>
<line x1="385.8" y1="165.4" x2="385.8" y2="239.0"/>
<line x1="396.8" y1="165.4" x2="396.8" y2="239.0"/>
<line x1="407.7" y1="165.4" x2="407.7" y2="239.0"/>
<line x1="418.6" y1="165.4" x2="418.6" y2="239.0"/>
<line x1="429.5" y1="165.4" x2="429.5" y2="239.0"/>
</g>
<g stroke="#c4c4c4" stroke-width="0.45" stroke-dasharray="1,1">
<line x1="203.1" y1="220.7" x2="437" y2="220.7"/>
<line x1="203.1" y1="202.3" x2="437" y2="202.3"/>
<line x1="203.1" y1="183.9" x2="437" y2="183.9"/>
</g>
<line x1="203.1" y1="165.4" x2="203.1" y2="239.0" stroke="#9a9a9a" stroke-width="0.6"/>
<line x1="203.1" y1="239.0" x2="437" y2="239.0" stroke="#444" stroke-width="0.5"/>
<line x1="201.79999999999998" y1="239.0" x2="203.1" y2="239.0" stroke="#333" stroke-width="0.45"/>
<text x="201.50" y="240.60" font-size="4.4" text-anchor="end" fill="#222" >0</text>
<line x1="201.79999999999998" y1="220.7" x2="203.1" y2="220.7" stroke="#333" stroke-width="0.45"/>
<text x="201.50" y="222.25" font-size="4.4" text-anchor="end" fill="#222" >1</text>
<line x1="201.79999999999998" y1="202.3" x2="203.1" y2="202.3" stroke="#333" stroke-width="0.45"/>
<text x="201.50" y="203.90" font-size="4.4" text-anchor="end" fill="#222" >2</text>
<line x1="201.79999999999998" y1="183.9" x2="203.1" y2="183.9" stroke="#333" stroke-width="0.45"/>
<text x="201.50" y="185.55" font-size="4.4" text-anchor="end" fill="#222" >3</text>
<line x1="201.79999999999998" y1="165.6" x2="203.1" y2="165.6" stroke="#333" stroke-width="0.45"/>
<text x="201.50" y="167.20" font-size="4.4" text-anchor="end" fill="#222" >4</text>
<text transform="translate(195.60,198.00) rotate(-90)" font-size="5.0" text-anchor="middle" fill="#222" textLength="51" lengthAdjust="spacingAndGlyphs" >Normalized expression</text>
<text x="209.8" y="174" font-size="3.7" font-weight="bold" font-style="italic" fill="#e82020" textLength="84.4" lengthAdjust="spacingAndGlyphs">HNSCC patients' OPRM1- CD8 T-cells <tspan font-weight="normal" font-style="normal">(n=10140)</tspan></text>
<text x="337.6" y="174" font-size="3.7" font-weight="bold" font-style="italic" fill="#2222c8" textLength="80.3" lengthAdjust="spacingAndGlyphs">HNSCC patients' OPRM1+ CD8 T-cells <tspan font-weight="normal" font-style="normal">(n=361)</tspan></text>
<rect x="210.4" y="238.5" width="1.6" height="1" fill="#e83838"/>
<ellipse cx="211.2" cy="213.1" rx="3.9" ry="0.95" fill="#7a88e8"/>
<ellipse cx="211.2" cy="213.1" rx="2.6" ry="0.6" fill="#1a1ab8"/>
<rect x="207.38" y="208.12" width="1.5" height="1.35" fill="#2a2a2a"/><rect x="209.43" y="208.12" width="1.5" height="1.35" fill="#2a2a2a"/><rect x="211.47" y="208.12" width="1.5" height="1.35" fill="#2a2a2a"/><rect x="213.53" y="208.12" width="1.5" height="1.35" fill="#2a2a2a"/>
<line x1="218.5" y1="233.3" x2="225.7" y2="233.3" stroke="#e83838" stroke-width="0.9"/>
<ellipse cx="222.1" cy="230.9" rx="3.9" ry="0.95" fill="#7a88e8"/>
<ellipse cx="222.1" cy="230.9" rx="2.6" ry="0.6" fill="#1a1ab8"/>
<rect x="218.29" y="225.92" width="1.5" height="1.35" fill="#2a2a2a"/><rect x="220.34" y="225.92" width="1.5" height="1.35" fill="#2a2a2a"/><rect x="222.39" y="225.92" width="1.5" height="1.35" fill="#2a2a2a"/><rect x="224.44" y="225.92" width="1.5" height="1.35" fill="#2a2a2a"/>
<line x1="229.4" y1="232.2" x2="236.6" y2="232.2" stroke="#e83838" stroke-width="0.9"/>
<ellipse cx="233.0" cy="226" rx="3.9" ry="0.95" fill="#7a88e8"/>
<ellipse cx="233.0" cy="226" rx="2.6" ry="0.6" fill="#1a1ab8"/>
<rect x="229.20" y="221.02" width="1.5" height="1.35" fill="#2a2a2a"/><rect x="231.25" y="221.02" width="1.5" height="1.35" fill="#2a2a2a"/><rect x="233.30" y="221.02" width="1.5" height="1.35" fill="#2a2a2a"/><rect x="235.35" y="221.02" width="1.5" height="1.35" fill="#2a2a2a"/>
<line x1="240.3" y1="217.8" x2="247.5" y2="217.8" stroke="#e83838" stroke-width="0.9"/>
<ellipse cx="243.9" cy="215.1" rx="3.9" ry="0.95" fill="#7a88e8"/>
<ellipse cx="243.9" cy="215.1" rx="2.6" ry="0.6" fill="#1a1ab8"/>
<rect x="242.17" y="210.12" width="1.5" height="1.35" fill="#2a2a2a"/><rect x="244.22" y="210.12" width="1.5" height="1.35" fill="#2a2a2a"/>
<line x1="251.3" y1="231.3" x2="258.5" y2="231.3" stroke="#e83838" stroke-width="0.9"/>
<ellipse cx="254.9" cy="230" rx="3.9" ry="0.95" fill="#7a88e8"/>
<ellipse cx="254.9" cy="230" rx="2.6" ry="0.6" fill="#1a1ab8"/>
<rect x="254.11" y="225.02" width="1.5" height="1.35" fill="#2a2a2a"/>
<line x1="262.2" y1="235" x2="269.4" y2="235" stroke="#e83838" stroke-width="0.9"/>
<ellipse cx="265.8" cy="233.6" rx="3.9" ry="0.95" fill="#7a88e8"/>
<ellipse cx="265.8" cy="233.6" rx="2.6" ry="0.6" fill="#1a1ab8"/>
<rect x="264.00" y="228.62" width="1.5" height="1.35" fill="#2a2a2a"/><rect x="266.05" y="228.62" width="1.5" height="1.35" fill="#2a2a2a"/>
<line x1="273.1" y1="221.4" x2="280.3" y2="221.4" stroke="#e83838" stroke-width="0.9"/>
<ellipse cx="276.7" cy="216.5" rx="3.9" ry="0.95" fill="#7a88e8"/>
<ellipse cx="276.7" cy="216.5" rx="2.6" ry="0.6" fill="#1a1ab8"/>
<rect x="272.87" y="211.52" width="1.5" height="1.35" fill="#2a2a2a"/><rect x="274.92" y="211.52" width="1.5" height="1.35" fill="#2a2a2a"/><rect x="276.97" y="211.52" width="1.5" height="1.35" fill="#2a2a2a"/><rect x="279.01" y="211.52" width="1.5" height="1.35" fill="#2a2a2a"/>
<line x1="284.0" y1="235.6" x2="291.2" y2="235.6" stroke="#e83838" stroke-width="0.9"/>
<ellipse cx="287.6" cy="235.4" rx="3.9" ry="0.95" fill="#7a88e8"/>
<ellipse cx="287.6" cy="235.4" rx="2.6" ry="0.6" fill="#1a1ab8"/>
<line x1="294.9" y1="238.8" x2="302.1" y2="238.8" stroke="#e83838" stroke-width="0.9"/>
<ellipse cx="298.5" cy="238.6" rx="3.9" ry="0.95" fill="#7a88e8"/>
<ellipse cx="298.5" cy="238.6" rx="2.6" ry="0.6" fill="#1a1ab8"/>
<line x1="305.8" y1="231" x2="313.0" y2="231" stroke="#e83838" stroke-width="0.9"/>
<ellipse cx="309.4" cy="225.9" rx="3.9" ry="0.95" fill="#7a88e8"/>
<ellipse cx="309.4" cy="225.9" rx="2.6" ry="0.6" fill="#1a1ab8"/>
<rect x="305.61" y="220.92" width="1.5" height="1.35" fill="#2a2a2a"/><rect x="307.66" y="220.92" width="1.5" height="1.35" fill="#2a2a2a"/><rect x="309.71" y="220.92" width="1.5" height="1.35" fill="#2a2a2a"/><rect x="311.76" y="220.92" width="1.5" height="1.35" fill="#2a2a2a"/>
<rect x="319.5" y="238.5" width="1.6" height="1" fill="#e83838"/>
<ellipse cx="320.3" cy="239" rx="3.9" ry="0.95" fill="#7a88e8"/>
<ellipse cx="320.3" cy="239" rx="2.6" ry="0.6" fill="#1a1ab8"/>
<line x1="327.7" y1="236.3" x2="334.9" y2="236.3" stroke="#e83838" stroke-width="0.9"/>
<ellipse cx="331.3" cy="235" rx="3.9" ry="0.95" fill="#7a88e8"/>
<ellipse cx="331.3" cy="235" rx="2.6" ry="0.6" fill="#1a1ab8"/>
<rect x="329.49" y="230.02" width="1.5" height="1.35" fill="#2a2a2a"/><rect x="331.54" y="230.02" width="1.5" height="1.35" fill="#2a2a2a"/>
<line x1="338.6" y1="235.8" x2="345.8" y2="235.8" stroke="#e83838" stroke-width="0.9"/>
<ellipse cx="342.2" cy="235.4" rx="3.9" ry="0.95" fill="#7a88e8"/>
<ellipse cx="342.2" cy="235.4" rx="2.6" ry="0.6" fill="#1a1ab8"/>
<rect x="352.3" y="238.5" width="1.6" height="1" fill="#e83838"/>
<ellipse cx="353.1" cy="239" rx="3.9" ry="0.95" fill="#7a88e8"/>
<ellipse cx="353.1" cy="239" rx="2.6" ry="0.6" fill="#1a1ab8"/>
<line x1="360.4" y1="228.2" x2="367.6" y2="228.2" stroke="#e83838" stroke-width="0.9"/>
<ellipse cx="364.0" cy="227.8" rx="3.9" ry="0.95" fill="#7a88e8"/>
<ellipse cx="364.0" cy="227.8" rx="2.6" ry="0.6" fill="#1a1ab8"/>
<rect x="374.1" y="238.4" width="1.6" height="1" fill="#e83838"/>
<ellipse cx="374.9" cy="238.7" rx="3.9" ry="0.95" fill="#7a88e8"/>
<ellipse cx="374.9" cy="238.7" rx="2.6" ry="0.6" fill="#1a1ab8"/>
<line x1="382.2" y1="237.3" x2="389.4" y2="237.3" stroke="#e83838" stroke-width="0.9"/>
<ellipse cx="385.8" cy="237" rx="3.9" ry="0.95" fill="#7a88e8"/>
<ellipse cx="385.8" cy="237" rx="2.6" ry="0.6" fill="#1a1ab8"/>
<line x1="393.2" y1="232.5" x2="400.4" y2="232.5" stroke="#e83838" stroke-width="0.9"/>
<ellipse cx="396.8" cy="231" rx="3.9" ry="0.95" fill="#7a88e8"/>
<ellipse cx="396.8" cy="231" rx="2.6" ry="0.6" fill="#1a1ab8"/>
<rect x="396.00" y="226.02" width="1.5" height="1.35" fill="#2a2a2a"/>
<line x1="404.1" y1="232.4" x2="411.3" y2="232.4" stroke="#e83838" stroke-width="0.9"/>
<ellipse cx="407.7" cy="229.7" rx="3.9" ry="0.95" fill="#7a88e8"/>
<ellipse cx="407.7" cy="229.7" rx="2.6" ry="0.6" fill="#1a1ab8"/>
<rect x="404.87" y="224.72" width="1.5" height="1.35" fill="#2a2a2a"/><rect x="406.92" y="224.72" width="1.5" height="1.35" fill="#2a2a2a"/><rect x="408.97" y="224.72" width="1.5" height="1.35" fill="#2a2a2a"/>
<line x1="415.0" y1="222.8" x2="422.2" y2="222.8" stroke="#e83838" stroke-width="0.9"/>
<ellipse cx="418.6" cy="219.6" rx="3.9" ry="0.95" fill="#7a88e8"/>
<ellipse cx="418.6" cy="219.6" rx="2.6" ry="0.6" fill="#1a1ab8"/>
<rect x="416.81" y="214.62" width="1.5" height="1.35" fill="#2a2a2a"/><rect x="418.86" y="214.62" width="1.5" height="1.35" fill="#2a2a2a"/>
<line x1="425.9" y1="237.3" x2="433.1" y2="237.3" stroke="#e83838" stroke-width="0.9"/>
<ellipse cx="429.5" cy="237" rx="3.9" ry="0.95" fill="#7a88e8"/>
<ellipse cx="429.5" cy="237" rx="2.6" ry="0.6" fill="#1a1ab8"/>
<text transform="translate(212.80,242.40) rotate(-90) scale(0.84,1)" font-size="4.5" text-anchor="end" fill="#111" >OPRM1</text>
<text transform="translate(223.71,242.40) rotate(-90) scale(0.84,1)" font-size="4.5" text-anchor="end" fill="#111" >PDCD1</text>
<text transform="translate(234.63,242.40) rotate(-90) scale(0.84,1)" font-size="4.5" text-anchor="end" fill="#111" >CTLA4</text>
<text transform="translate(245.54,242.40) rotate(-90) scale(0.84,1)" font-size="4.5" text-anchor="end" fill="#111" >LAG3</text>
<text transform="translate(256.46,242.40) rotate(-90) scale(0.84,1)" font-size="4.5" text-anchor="end" fill="#111" >HAVCR2</text>
<text transform="translate(267.38,242.40) rotate(-90) scale(0.84,1)" font-size="4.5" text-anchor="end" fill="#111" >TOX</text>
<text transform="translate(278.29,242.40) rotate(-90) scale(0.84,1)" font-size="4.5" text-anchor="end" fill="#111" >TIGIT</text>
<text transform="translate(289.21,242.40) rotate(-90) scale(0.84,1)" font-size="4.5" text-anchor="end" fill="#111" >EOMES</text>
<text transform="translate(300.12,242.40) rotate(-90) scale(0.84,1)" font-size="4.5" text-anchor="end" fill="#111" >BTLA</text>
<text transform="translate(311.03,242.40) rotate(-90) scale(0.84,1)" font-size="4.5" text-anchor="end" fill="#111" >ENTPD1</text>
<text transform="translate(321.95,242.40) rotate(-90) scale(0.84,1)" font-size="4.5" text-anchor="end" fill="#111" >NT5E</text>
<text transform="translate(332.87,242.40) rotate(-90) scale(0.84,1)" font-size="4.5" text-anchor="end" fill="#111" >SLAMF6</text>
<text transform="translate(343.78,242.40) rotate(-90) scale(0.84,1)" font-size="4.5" text-anchor="end" fill="#111" >CCR5</text>
<text transform="translate(354.69,242.40) rotate(-90) scale(0.84,1)" font-size="4.5" text-anchor="end" fill="#111" >CXCR1</text>
<text transform="translate(365.61,242.40) rotate(-90) scale(0.84,1)" font-size="4.5" text-anchor="end" fill="#111" >CXCR3</text>
<text transform="translate(376.52,242.40) rotate(-90) scale(0.84,1)" font-size="4.5" text-anchor="end" fill="#111" >CXCR5</text>
<text transform="translate(387.44,242.40) rotate(-90) scale(0.84,1)" font-size="4.5" text-anchor="end" fill="#111" >TBX21</text>
<text transform="translate(398.36,242.40) rotate(-90) scale(0.84,1)" font-size="4.5" text-anchor="end" fill="#111" >IL10RA</text>
<text transform="translate(409.27,242.40) rotate(-90) scale(0.84,1)" font-size="4.5" text-anchor="end" fill="#111" >TGFB1</text>
<text transform="translate(420.19,242.40) rotate(-90) scale(0.84,1)" font-size="4.5" text-anchor="end" fill="#111" >IFNG</text>
<text transform="translate(431.10,242.40) rotate(-90) scale(0.84,1)" font-size="4.5" text-anchor="end" fill="#111" >TNF</text>
<text x="183.80" y="260.70" font-size="8.2" font-weight="bold" fill="#111" textLength="5.8" lengthAdjust="spacingAndGlyphs" >G</text>
<rect x="204.2" y="259.6" width="233.8" height="62.599999999999966" fill="#ffffff"/>
<g fill="#d3d3d3">
<rect x="208.32" y="259.6" width="15.42" height="62.6"/>
<rect x="239.16" y="259.6" width="23.13" height="62.6"/>
<rect x="266.15" y="259.6" width="53.97" height="62.6"/>
<rect x="327.83" y="259.6" width="23.13" height="62.6"/>
<rect x="358.67" y="259.6" width="30.84" height="62.6"/>
<rect x="393.37" y="259.6" width="15.42" height="62.6"/>
<rect x="412.64" y="259.6" width="7.71" height="62.6"/>
<rect x="424.20" y="259.6" width="7.71" height="62.6"/>
</g>
<g stroke="#e6e6e6" stroke-width="0.5">
<line x1="216.03" y1="259.6" x2="216.03" y2="322.2"/>
<line x1="246.88" y1="259.6" x2="246.88" y2="322.2"/>
<line x1="254.59" y1="259.6" x2="254.59" y2="322.2"/>
<line x1="273.86" y1="259.6" x2="273.86" y2="322.2"/>
<line x1="281.57" y1="259.6" x2="281.57" y2="322.2"/>
<line x1="289.28" y1="259.6" x2="289.28" y2="322.2"/>
<line x1="296.99" y1="259.6" x2="296.99" y2="322.2"/>
<line x1="304.70" y1="259.6" x2="304.70" y2="322.2"/>
<line x1="312.41" y1="259.6" x2="312.41" y2="322.2"/>
<line x1="335.54" y1="259.6" x2="335.54" y2="322.2"/>
<line x1="343.25" y1="259.6" x2="343.25" y2="322.2"/>
<line x1="366.38" y1="259.6" x2="366.38" y2="322.2"/>
<line x1="374.09" y1="259.6" x2="374.09" y2="322.2"/>
<line x1="381.80" y1="259.6" x2="381.80" y2="322.2"/>
<line x1="401.07" y1="259.6" x2="401.07" y2="322.2"/>
</g>
<g stroke="#ececec" stroke-width="0.4" stroke-dasharray="0.8,1.2">
<line x1="227.60" y1="259.6" x2="227.60" y2="322.2"/>
<line x1="231.45" y1="259.6" x2="231.45" y2="322.2"/>
<line x1="235.31" y1="259.6" x2="235.31" y2="322.2"/>
<line x1="323.98" y1="259.6" x2="323.98" y2="322.2"/>
<line x1="354.81" y1="259.6" x2="354.81" y2="322.2"/>
<line x1="435.77" y1="259.6" x2="435.77" y2="322.2"/>
</g>
<line x1="204.2" y1="259.6" x2="438" y2="259.6" stroke="#c0c0c0" stroke-width="0.5"/>
<line x1="204.2" y1="259.6" x2="204.2" y2="322.2" stroke="#777" stroke-width="0.45"/>
<rect x="204.2" y="322.2" width="233.8" height="1.2" fill="#fff"/>
<line x1="203.2" y1="320.8" x2="204.2" y2="320.8" stroke="#555" stroke-width="0.4"/>
<text x="202.70" y="321.90" font-size="3.2" text-anchor="end" fill="#333" >0</text>
<line x1="203.2" y1="298.2" x2="204.2" y2="298.2" stroke="#555" stroke-width="0.4"/>
<text x="202.70" y="299.30" font-size="3.2" text-anchor="end" fill="#333" >2</text>
<line x1="203.2" y1="276.5" x2="204.2" y2="276.5" stroke="#555" stroke-width="0.4"/>
<text x="202.70" y="277.60" font-size="3.2" text-anchor="end" fill="#333" >4</text>
<text transform="translate(200.40,291.70) rotate(-90)" font-size="3.5" text-anchor="middle" fill="#222" textLength="63.3" lengthAdjust="spacingAndGlyphs" >OPRM1 Expression Level (log2 TPM)</text>
<rect x="255.95" y="262.70" width="1.3" height="1.2" fill="#333"/><rect x="257.75" y="262.70" width="1.3" height="1.2" fill="#333"/><rect x="259.55" y="262.70" width="1.3" height="1.2" fill="#333"/>
<rect x="275.45" y="262.70" width="1.3" height="1.2" fill="#333"/><rect x="277.25" y="262.70" width="1.3" height="1.2" fill="#333"/><rect x="279.05" y="262.70" width="1.3" height="1.2" fill="#333"/>
<rect x="283.65" y="262.70" width="1.3" height="1.2" fill="#333"/><rect x="285.45" y="262.70" width="1.3" height="1.2" fill="#333"/>
<rect x="306.95" y="262.70" width="1.3" height="1.2" fill="#333"/><rect x="308.75" y="262.70" width="1.3" height="1.2" fill="#333"/>
<rect x="336.25" y="262.70" width="1.3" height="1.2" fill="#333"/><rect x="338.05" y="262.70" width="1.3" height="1.2" fill="#333"/><rect x="339.85" y="262.70" width="1.3" height="1.2" fill="#333"/>
<rect x="369.35" y="262.70" width="1.3" height="1.2" fill="#333"/>
<rect x="382.85" y="262.70" width="1.3" height="1.2" fill="#333"/><rect x="384.65" y="262.70" width="1.3" height="1.2" fill="#333"/><rect x="386.45" y="262.70" width="1.3" height="1.2" fill="#333"/>
<rect x="414.85" y="262.70" width="1.3" height="1.2" fill="#333"/><rect x="416.65" y="262.70" width="1.3" height="1.2" fill="#333"/>
<rect x="426.65" y="262.70" width="1.3" height="1.2" fill="#333"/><rect x="428.45" y="262.70" width="1.3" height="1.2" fill="#333"/>
<g>
<text transform="translate(207.60,325.80) rotate(-90) scale(0.86,1)" font-size="3.4" font-weight="bold" text-anchor="end" fill="#222" >ACC Tumor (n=60)</text>
<text transform="translate(211.45,325.80) rotate(-90) scale(0.86,1)" font-size="3.4" font-weight="bold" text-anchor="end" fill="#222" >BLCA Tumor (n=421)</text>
<text transform="translate(215.31,325.80) rotate(-90) scale(0.86,1)" font-size="3.4" font-weight="bold" text-anchor="end" fill="#222" >BLCA Normal (n=286)</text>
<text transform="translate(219.16,325.80) rotate(-90) scale(0.86,1)" font-size="3.4" font-weight="bold" text-anchor="end" fill="#222" >BRCA Tumor (n=194)</text>
<text transform="translate(223.02,325.80) rotate(-90) scale(0.86,1)" font-size="3.4" font-weight="bold" text-anchor="end" fill="#222" >BRCA Normal (n=36)</text>
<text transform="translate(226.87,325.80) rotate(-90) scale(0.86,1)" font-size="3.4" font-weight="bold" text-anchor="end" fill="#222" >BRCA-Basal Tumor (n=77)</text>
<text transform="translate(230.73,325.80) rotate(-90) scale(0.86,1)" font-size="3.4" font-weight="bold" text-anchor="end" fill="#222" >BRCA-Her2 Tumor (n=44)</text>
<text transform="translate(234.58,325.80) rotate(-90) scale(0.86,1)" font-size="3.4" font-weight="bold" text-anchor="end" fill="#222" >BRCA-LumA Tumor (n=518)</text>
<text transform="translate(238.44,325.80) rotate(-90) scale(0.86,1)" font-size="3.4" font-weight="bold" text-anchor="end" fill="#222" >BRCA-LumB Tumor (n=60)</text>
<text transform="translate(242.29,325.80) rotate(-90) scale(0.86,1)" font-size="3.4" font-weight="bold" text-anchor="end" fill="#222" >CESC Tumor (n=135)</text>
<text transform="translate(246.15,325.80) rotate(-90) scale(0.86,1)" font-size="3.4" font-weight="bold" text-anchor="end" fill="#222" >CESC Normal (n=44)</text>
<text transform="translate(250.00,325.80) rotate(-90) scale(0.86,1)" font-size="3.4" font-weight="bold" text-anchor="end" fill="#222" >CHOL Tumor (n=160)</text>
<text transform="translate(253.86,325.80) rotate(-90) scale(0.86,1)" font-size="3.4" font-weight="bold" text-anchor="end" fill="#222" >CHOL Normal (n=28)</text>
<text transform="translate(257.71,325.80) rotate(-90) scale(0.86,1)" font-size="3.4" font-weight="bold" text-anchor="end" fill="#222" >COAD Tumor (n=66)</text>
<text transform="translate(261.57,325.80) rotate(-90) scale(0.86,1)" font-size="3.4" font-weight="bold" text-anchor="end" fill="#222" >COAD Normal (n=13)</text>
<text transform="translate(265.42,325.80) rotate(-90) scale(0.86,1)" font-size="3.4" font-weight="bold" text-anchor="end" fill="#222" >DLBC Tumor (n=286)</text>
<text transform="translate(269.28,325.80) rotate(-90) scale(0.86,1)" font-size="3.4" font-weight="bold" text-anchor="end" fill="#222" >ESCA Tumor (n=100)</text>
<text transform="translate(273.13,325.80) rotate(-90) scale(0.86,1)" font-size="3.4" font-weight="bold" text-anchor="end" fill="#222" >ESCA Normal (n=13)</text>
<text transform="translate(276.99,325.80) rotate(-90) scale(0.86,1)" font-size="3.4" font-weight="bold" text-anchor="end" fill="#222" >GBM Tumor (n=13)</text>
<text transform="translate(280.84,325.80) rotate(-90) scale(0.86,1)" font-size="3.4" font-weight="bold" text-anchor="end" fill="#222" >GBM Normal (n=47)</text>
<text transform="translate(284.70,325.80) rotate(-90) scale(0.86,1)" font-size="3.4" font-weight="bold" text-anchor="end" fill="#222" >HNSC Tumor (n=1085)</text>
<text transform="translate(288.55,325.80) rotate(-90) scale(0.86,1)" font-size="3.4" font-weight="bold" text-anchor="end" fill="#222" >HNSC Normal (n=415)</text>
<text transform="translate(292.41,325.80) rotate(-90) scale(0.86,1)" font-size="3.4" font-weight="bold" text-anchor="end" fill="#222" >HNSC-HPV+ Tumor (n=194)</text>
<text transform="translate(296.26,325.80) rotate(-90) scale(0.86,1)" font-size="3.4" font-weight="bold" text-anchor="end" fill="#222" >HNSC-HPV- Tumor (n=518)</text>
<text transform="translate(300.12,325.80) rotate(-90) scale(0.86,1)" font-size="3.4" font-weight="bold" text-anchor="end" fill="#222" >KICH Tumor (n=291)</text>
<text transform="translate(303.97,325.80) rotate(-90) scale(0.86,1)" font-size="3.4" font-weight="bold" text-anchor="end" fill="#222" >KICH Normal (n=66)</text>
<text transform="translate(307.83,325.80) rotate(-90) scale(0.86,1)" font-size="3.4" font-weight="bold" text-anchor="end" fill="#222" >KIRC Tumor (n=66)</text>
<text transform="translate(311.68,325.80) rotate(-90) scale(0.86,1)" font-size="3.4" font-weight="bold" text-anchor="end" fill="#222" >KIRC Normal (n=163)</text>
<text transform="translate(315.54,325.80) rotate(-90) scale(0.86,1)" font-size="3.4" font-weight="bold" text-anchor="end" fill="#222" >KIRP Tumor (n=275)</text>
<text transform="translate(319.39,325.80) rotate(-90) scale(0.86,1)" font-size="3.4" font-weight="bold" text-anchor="end" fill="#222" >KIRP Normal (n=349)</text>
<text transform="translate(323.25,325.80) rotate(-90) scale(0.86,1)" font-size="3.4" font-weight="bold" text-anchor="end" fill="#222" >LAML Tumor (n=523)</text>
<text transform="translate(327.10,325.80) rotate(-90) scale(0.86,1)" font-size="3.4" font-weight="bold" text-anchor="end" fill="#222" >LGG Tumor (n=135)</text>
<text transform="translate(330.96,325.80) rotate(-90) scale(0.86,1)" font-size="3.4" font-weight="bold" text-anchor="end" fill="#222" >LIHC Tumor (n=286)</text>
<text transform="translate(334.81,325.80) rotate(-90) scale(0.86,1)" font-size="3.4" font-weight="bold" text-anchor="end" fill="#222" >LIHC Normal (n=275)</text>
<text transform="translate(338.67,325.80) rotate(-90) scale(0.86,1)" font-size="3.4" font-weight="bold" text-anchor="end" fill="#222" >LUAD Tumor (n=53)</text>
<text transform="translate(342.52,325.80) rotate(-90) scale(0.86,1)" font-size="3.4" font-weight="bold" text-anchor="end" fill="#222" >LUAD Normal (n=286)</text>
<text transform="translate(346.38,325.80) rotate(-90) scale(0.86,1)" font-size="3.4" font-weight="bold" text-anchor="end" fill="#222" >LUSC Tumor (n=44)</text>
<text transform="translate(350.23,325.80) rotate(-90) scale(0.86,1)" font-size="3.4" font-weight="bold" text-anchor="end" fill="#222" >LUSC Normal (n=28)</text>
<text transform="translate(354.09,325.80) rotate(-90) scale(0.86,1)" font-size="3.4" font-weight="bold" text-anchor="end" fill="#222" >MESO Tumor (n=9)</text>
<text transform="translate(357.94,325.80) rotate(-90) scale(0.86,1)" font-size="3.4" font-weight="bold" text-anchor="end" fill="#222" >OV Tumor (n=77)</text>
<text transform="translate(361.80,325.80) rotate(-90) scale(0.86,1)" font-size="3.4" font-weight="bold" text-anchor="end" fill="#222" >PAAD Tumor (n=523)</text>
<text transform="translate(365.65,325.80) rotate(-90) scale(0.86,1)" font-size="3.4" font-weight="bold" text-anchor="end" fill="#222" >PAAD Normal (n=1085)</text>
<text transform="translate(369.51,325.80) rotate(-90) scale(0.86,1)" font-size="3.4" font-weight="bold" text-anchor="end" fill="#222" >PCPG Tumor (n=66)</text>
<text transform="translate(373.36,325.80) rotate(-90) scale(0.86,1)" font-size="3.4" font-weight="bold" text-anchor="end" fill="#222" >PCPG Normal (n=70)</text>
<text transform="translate(377.22,325.80) rotate(-90) scale(0.86,1)" font-size="3.4" font-weight="bold" text-anchor="end" fill="#222" >PRAD Tumor (n=194)</text>
<text transform="translate(381.07,325.80) rotate(-90) scale(0.86,1)" font-size="3.4" font-weight="bold" text-anchor="end" fill="#222" >PRAD Normal (n=404)</text>
<text transform="translate(384.93,325.80) rotate(-90) scale(0.86,1)" font-size="3.4" font-weight="bold" text-anchor="end" fill="#222" >READ Tumor (n=47)</text>
<text transform="translate(388.78,325.80) rotate(-90) scale(0.86,1)" font-size="3.4" font-weight="bold" text-anchor="end" fill="#222" >READ Normal (n=100)</text>
<text transform="translate(392.64,325.80) rotate(-90) scale(0.86,1)" font-size="3.4" font-weight="bold" text-anchor="end" fill="#222" >SARC Tumor (n=415)</text>
<text transform="translate(396.49,325.80) rotate(-90) scale(0.86,1)" font-size="3.4" font-weight="bold" text-anchor="end" fill="#222" >SKCM Tumor (n=77)</text>
<text transform="translate(400.35,325.80) rotate(-90) scale(0.86,1)" font-size="3.4" font-weight="bold" text-anchor="end" fill="#222" >SKCM-Met Normal (n=415)</text>
<text transform="translate(404.20,325.80) rotate(-90) scale(0.86,1)" font-size="3.4" font-weight="bold" text-anchor="end" fill="#222" >SKCM-Pri Tumor (n=9)</text>
<text transform="translate(408.06,325.80) rotate(-90) scale(0.86,1)" font-size="3.4" font-weight="bold" text-anchor="end" fill="#222" >STAD Normal (n=9)</text>
<text transform="translate(411.91,325.80) rotate(-90) scale(0.86,1)" font-size="3.4" font-weight="bold" text-anchor="end" fill="#222" >STAD Tumor (n=44)</text>
<text transform="translate(415.77,325.80) rotate(-90) scale(0.86,1)" font-size="3.4" font-weight="bold" text-anchor="end" fill="#222" >TGCT Tumor (n=77)</text>
<text transform="translate(419.62,325.80) rotate(-90) scale(0.86,1)" font-size="3.4" font-weight="bold" text-anchor="end" fill="#222" >TGCT Normal (n=135)</text>
<text transform="translate(423.48,325.80) rotate(-90) scale(0.86,1)" font-size="3.4" font-weight="bold" text-anchor="end" fill="#222" >THCA Tumor (n=194)</text>
<text transform="translate(427.33,325.80) rotate(-90) scale(0.86,1)" font-size="3.4" font-weight="bold" text-anchor="end" fill="#222" >THCA Tumor (n=369)</text>
<text transform="translate(431.19,325.80) rotate(-90) scale(0.86,1)" font-size="3.4" font-weight="bold" text-anchor="end" fill="#222" >THYM Normal (n=404)</text>
<text transform="translate(435.04,325.80) rotate(-90) scale(0.86,1)" font-size="3.4" font-weight="bold" text-anchor="end" fill="#222" >UCEC Tumor (n=518)</text>
<text transform="translate(438.90,325.80) rotate(-90) scale(0.86,1)" font-size="3.4" font-weight="bold" text-anchor="end" fill="#222" >UCS Tumor (n=135)</text>
</g>
<g fill="none" stroke="#ee2020" stroke-width="0.28" opacity="0.9"><circle cx="325.82" cy="316.23" r="0.42"/><circle cx="324.40" cy="308.54" r="0.42"/><circle cx="326.10" cy="313.99" r="0.42"/><circle cx="325.80" cy="318.34" r="0.42"/><circle cx="324.75" cy="308.51" r="0.42"/><circle cx="324.40" cy="320.15" r="0.42"/><circle cx="325.93" cy="318.30" r="0.42"/><circle cx="327.03" cy="316.99" r="0.42"/><circle cx="326.05" cy="320.20" r="0.42"/><circle cx="326.62" cy="309.36" r="0.42"/><circle cx="326.77" cy="313.41" r="0.42"/><circle cx="327.26" cy="320.12" r="0.42"/><circle cx="325.94" cy="316.32" r="0.42"/><circle cx="325.94" cy="310.69" r="0.42"/><circle cx="326.45" cy="319.97" r="0.42"/><circle cx="327.40" cy="310.66" r="0.42"/><circle cx="326.99" cy="319.66" r="0.42"/><circle cx="325.63" cy="315.25" r="0.42"/><circle cx="327.19" cy="319.98" r="0.42"/><circle cx="325.40" cy="307.75" r="0.42"/><circle cx="325.65" cy="310.04" r="0.42"/><circle cx="326.71" cy="320.07" r="0.42"/><circle cx="326.60" cy="320.11" r="0.42"/><circle cx="326.21" cy="316.55" r="0.42"/><circle cx="325.54" cy="320.20" r="0.42"/><circle cx="325.17" cy="319.55" r="0.42"/><circle cx="325.12" cy="312.12" r="0.42"/><circle cx="326.00" cy="318.17" r="0.42"/><circle cx="327.40" cy="314.73" r="0.42"/><circle cx="326.76" cy="320.20" r="0.42"/><circle cx="326.00" cy="313.77" r="0.42"/><circle cx="325.76" cy="312.89" r="0.42"/><circle cx="325.80" cy="319.20" r="0.42"/><circle cx="325.84" cy="320.20" r="0.42"/><circle cx="326.47" cy="320.04" r="0.42"/><circle cx="325.74" cy="313.63" r="0.42"/><circle cx="326.68" cy="308.95" r="0.42"/><circle cx="325.61" cy="319.28" r="0.42"/><circle cx="325.97" cy="317.66" r="0.42"/><circle cx="325.48" cy="313.80" r="0.42"/><circle cx="326.06" cy="312.66" r="0.42"/><circle cx="325.71" cy="308.43" r="0.42"/><circle cx="325.24" cy="320.17" r="0.42"/><circle cx="326.94" cy="309.31" r="0.42"/><circle cx="326.91" cy="319.38" r="0.42"/><circle cx="325.38" cy="319.54" r="0.42"/><circle cx="326.06" cy="319.52" r="0.42"/><circle cx="326.23" cy="320.10" r="0.42"/><circle cx="326.44" cy="315.03" r="0.42"/><circle cx="325.89" cy="320.19" r="0.42"/><circle cx="325.00" cy="307.07" r="0.42"/><circle cx="325.71" cy="319.88" r="0.42"/><circle cx="326.36" cy="316.69" r="0.42"/><circle cx="325.02" cy="318.76" r="0.42"/><circle cx="326.10" cy="320.19" r="0.42"/><circle cx="325.79" cy="318.03" r="0.42"/><circle cx="326.90" cy="311.60" r="0.42"/><circle cx="326.97" cy="308.30" r="0.42"/><circle cx="326.00" cy="316.10" r="0.42"/><circle cx="325.49" cy="318.64" r="0.42"/><circle cx="326.32" cy="320.10" r="0.42"/><circle cx="325.28" cy="318.46" r="0.42"/><circle cx="327.38" cy="306.62" r="0.42"/><circle cx="324.40" cy="318.46" r="0.42"/><circle cx="325.77" cy="318.09" r="0.42"/><circle cx="324.88" cy="319.65" r="0.42"/><circle cx="326.43" cy="318.91" r="0.42"/><circle cx="326.60" cy="307.01" r="0.42"/><circle cx="325.16" cy="307.98" r="0.42"/><circle cx="325.14" cy="319.39" r="0.42"/><circle cx="325.68" cy="320.17" r="0.42"/><circle cx="327.40" cy="310.81" r="0.42"/><circle cx="326.25" cy="319.24" r="0.42"/><circle cx="324.40" cy="314.93" r="0.42"/><circle cx="325.95" cy="315.51" r="0.42"/><circle cx="325.05" cy="314.73" r="0.42"/><circle cx="324.40" cy="319.70" r="0.42"/><circle cx="326.04" cy="315.00" r="0.42"/><circle cx="327.13" cy="319.64" r="0.42"/><circle cx="325.47" cy="316.89" r="0.42"/></g>
<g fill="none" stroke="#ee2020" stroke-width="0.28" opacity="0.9"><circle cx="367.58" cy="319.51" r="0.42"/><circle cx="368.09" cy="280.44" r="0.42"/><circle cx="368.89" cy="292.79" r="0.42"/><circle cx="366.99" cy="272.98" r="0.42"/><circle cx="367.30" cy="299.61" r="0.42"/><circle cx="367.02" cy="271.17" r="0.42"/><circle cx="369.42" cy="299.48" r="0.42"/><circle cx="366.81" cy="279.45" r="0.42"/><circle cx="369.47" cy="262.41" r="0.42"/><circle cx="367.98" cy="288.86" r="0.42"/><circle cx="369.53" cy="310.36" r="0.42"/><circle cx="366.81" cy="291.95" r="0.42"/><circle cx="368.00" cy="279.27" r="0.42"/><circle cx="366.81" cy="310.03" r="0.42"/><circle cx="367.01" cy="274.00" r="0.42"/><circle cx="367.59" cy="295.29" r="0.42"/><circle cx="368.53" cy="283.27" r="0.42"/><circle cx="366.90" cy="277.55" r="0.42"/><circle cx="368.89" cy="318.56" r="0.42"/><circle cx="369.22" cy="281.71" r="0.42"/><circle cx="367.75" cy="307.23" r="0.42"/><circle cx="367.01" cy="317.72" r="0.42"/><circle cx="368.36" cy="292.28" r="0.42"/><circle cx="368.64" cy="312.30" r="0.42"/><circle cx="368.58" cy="301.41" r="0.42"/><circle cx="368.90" cy="318.09" r="0.42"/><circle cx="367.30" cy="292.65" r="0.42"/><circle cx="369.25" cy="285.26" r="0.42"/><circle cx="368.34" cy="306.12" r="0.42"/><circle cx="368.29" cy="296.20" r="0.42"/><circle cx="367.89" cy="303.71" r="0.42"/><circle cx="368.57" cy="270.98" r="0.42"/><circle cx="369.65" cy="298.07" r="0.42"/><circle cx="368.62" cy="314.59" r="0.42"/><circle cx="367.61" cy="287.92" r="0.42"/><circle cx="369.42" cy="263.47" r="0.42"/><circle cx="366.81" cy="271.74" r="0.42"/><circle cx="369.20" cy="282.18" r="0.42"/><circle cx="369.15" cy="298.33" r="0.42"/><circle cx="369.36" cy="286.82" r="0.42"/><circle cx="369.65" cy="263.53" r="0.42"/><circle cx="368.03" cy="299.41" r="0.42"/><circle cx="368.79" cy="267.31" r="0.42"/><circle cx="368.31" cy="286.70" r="0.42"/><circle cx="369.20" cy="283.78" r="0.42"/><circle cx="369.40" cy="267.44" r="0.42"/><circle cx="367.66" cy="297.95" r="0.42"/><circle cx="368.61" cy="302.94" r="0.42"/><circle cx="366.81" cy="262.63" r="0.42"/><circle cx="369.81" cy="266.11" r="0.42"/><circle cx="368.13" cy="284.93" r="0.42"/><circle cx="369.81" cy="290.82" r="0.42"/><circle cx="367.09" cy="295.60" r="0.42"/><circle cx="369.81" cy="291.09" r="0.42"/><circle cx="367.80" cy="303.25" r="0.42"/><circle cx="368.38" cy="283.40" r="0.42"/><circle cx="367.84" cy="293.95" r="0.42"/><circle cx="369.81" cy="271.25" r="0.42"/><circle cx="367.52" cy="319.42" r="0.42"/><circle cx="368.14" cy="264.83" r="0.42"/><circle cx="368.33" cy="273.91" r="0.42"/><circle cx="369.10" cy="311.04" r="0.42"/><circle cx="367.94" cy="261.66" r="0.42"/><circle cx="369.63" cy="292.10" r="0.42"/><circle cx="367.00" cy="282.02" r="0.42"/><circle cx="367.31" cy="313.20" r="0.42"/><circle cx="367.92" cy="275.18" r="0.42"/><circle cx="369.48" cy="300.30" r="0.42"/><circle cx="367.21" cy="302.63" r="0.42"/><circle cx="368.10" cy="298.83" r="0.42"/><circle cx="368.08" cy="276.09" r="0.42"/><circle cx="368.16" cy="305.26" r="0.42"/><circle cx="369.81" cy="293.23" r="0.42"/><circle cx="367.26" cy="287.90" r="0.42"/><circle cx="368.49" cy="319.34" r="0.42"/><circle cx="367.27" cy="286.12" r="0.42"/><circle cx="367.53" cy="278.28" r="0.42"/><circle cx="367.46" cy="266.23" r="0.42"/><circle cx="366.81" cy="297.38" r="0.42"/><circle cx="369.54" cy="308.57" r="0.42"/><circle cx="368.49" cy="302.65" r="0.42"/><circle cx="367.98" cy="270.69" r="0.42"/><circle cx="367.56" cy="279.08" r="0.42"/><circle cx="368.64" cy="273.98" r="0.42"/><circle cx="369.02" cy="266.29" r="0.42"/><circle cx="369.20" cy="287.69" r="0.42"/><circle cx="368.03" cy="290.74" r="0.42"/><circle cx="368.81" cy="285.52" r="0.42"/><circle cx="368.96" cy="272.14" r="0.42"/><circle cx="368.61" cy="271.68" r="0.42"/><circle cx="368.19" cy="273.33" r="0.42"/><circle cx="368.11" cy="277.42" r="0.42"/><circle cx="369.81" cy="262.26" r="0.42"/><circle cx="368.29" cy="317.31" r="0.42"/><circle cx="368.58" cy="270.35" r="0.42"/><circle cx="369.72" cy="263.83" r="0.42"/><circle cx="368.86" cy="278.02" r="0.42"/><circle cx="368.93" cy="265.85" r="0.42"/><circle cx="367.51" cy="311.34" r="0.42"/><circle cx="367.65" cy="310.66" r="0.42"/><circle cx="368.77" cy="283.35" r="0.42"/><circle cx="368.44" cy="297.75" r="0.42"/><circle cx="369.53" cy="315.94" r="0.42"/><circle cx="368.77" cy="276.25" r="0.42"/><circle cx="369.01" cy="268.20" r="0.42"/><circle cx="369.10" cy="301.58" r="0.42"/><circle cx="366.81" cy="284.67" r="0.42"/><circle cx="368.46" cy="298.05" r="0.42"/><circle cx="368.12" cy="316.90" r="0.42"/><circle cx="367.77" cy="282.82" r="0.42"/><circle cx="369.38" cy="290.25" r="0.42"/><circle cx="367.63" cy="283.44" r="0.42"/><circle cx="367.58" cy="304.62" r="0.42"/><circle cx="368.06" cy="275.77" r="0.42"/><circle cx="368.80" cy="289.59" r="0.42"/><circle cx="368.85" cy="298.22" r="0.42"/><circle cx="368.99" cy="276.58" r="0.42"/><circle cx="369.73" cy="281.42" r="0.42"/><circle cx="368.09" cy="315.15" r="0.42"/><circle cx="367.93" cy="312.81" r="0.42"/><circle cx="368.45" cy="285.04" r="0.42"/><circle cx="369.81" cy="291.76" r="0.42"/><circle cx="368.38" cy="301.06" r="0.42"/><circle cx="368.07" cy="277.28" r="0.42"/><circle cx="369.75" cy="317.02" r="0.42"/><circle cx="369.81" cy="279.88" r="0.42"/><circle cx="369.81" cy="306.99" r="0.42"/><circle cx="369.81" cy="280.83" r="0.42"/><circle cx="369.20" cy="271.62" r="0.42"/><circle cx="369.39" cy="299.23" r="0.42"/><circle cx="367.62" cy="306.29" r="0.42"/><circle cx="369.50" cy="299.56" r="0.42"/><circle cx="369.54" cy="297.36" r="0.42"/><circle cx="369.73" cy="281.84" r="0.42"/><circle cx="366.81" cy="272.57" r="0.42"/><circle cx="369.10" cy="289.56" r="0.42"/><circle cx="366.84" cy="285.12" r="0.42"/><circle cx="367.58" cy="296.79" r="0.42"/><circle cx="368.97" cy="314.46" r="0.42"/><circle cx="368.45" cy="317.86" r="0.42"/><circle cx="366.81" cy="267.56" r="0.42"/><circle cx="368.51" cy="320.17" r="0.42"/><circle cx="369.38" cy="292.36" r="0.42"/><circle cx="367.42" cy="294.82" r="0.42"/><circle cx="368.78" cy="292.64" r="0.42"/><circle cx="368.65" cy="310.78" r="0.42"/><circle cx="366.81" cy="298.02" r="0.42"/><circle cx="369.66" cy="311.19" r="0.42"/><circle cx="368.21" cy="305.16" r="0.42"/><circle cx="368.89" cy="303.21" r="0.42"/></g>
<g fill="none" stroke="#ee2020" stroke-width="0.28" opacity="0.9"><circle cx="402.75" cy="319.82" r="0.42"/><circle cx="403.03" cy="306.75" r="0.42"/><circle cx="404.41" cy="318.97" r="0.42"/><circle cx="402.42" cy="314.29" r="0.42"/><circle cx="403.47" cy="317.86" r="0.42"/><circle cx="402.83" cy="314.41" r="0.42"/><circle cx="402.26" cy="319.53" r="0.42"/><circle cx="401.56" cy="320.05" r="0.42"/><circle cx="403.72" cy="319.95" r="0.42"/><circle cx="403.12" cy="320.18" r="0.42"/><circle cx="403.94" cy="318.67" r="0.42"/><circle cx="402.85" cy="319.40" r="0.42"/><circle cx="402.67" cy="317.91" r="0.42"/><circle cx="404.50" cy="313.23" r="0.42"/><circle cx="403.09" cy="320.05" r="0.42"/><circle cx="404.49" cy="306.13" r="0.42"/><circle cx="401.50" cy="314.90" r="0.42"/><circle cx="404.15" cy="320.20" r="0.42"/><circle cx="403.19" cy="320.19" r="0.42"/><circle cx="401.99" cy="320.19" r="0.42"/><circle cx="404.21" cy="316.74" r="0.42"/><circle cx="402.92" cy="319.12" r="0.42"/><circle cx="404.50" cy="320.16" r="0.42"/><circle cx="403.93" cy="317.60" r="0.42"/><circle cx="403.71" cy="306.32" r="0.42"/><circle cx="403.25" cy="320.19" r="0.42"/><circle cx="403.72" cy="318.70" r="0.42"/><circle cx="403.29" cy="318.60" r="0.42"/><circle cx="403.27" cy="319.44" r="0.42"/><circle cx="403.09" cy="304.89" r="0.42"/><circle cx="401.99" cy="320.01" r="0.42"/><circle cx="402.95" cy="317.01" r="0.42"/><circle cx="402.82" cy="320.17" r="0.42"/><circle cx="403.44" cy="316.84" r="0.42"/><circle cx="401.50" cy="306.87" r="0.42"/><circle cx="401.86" cy="319.90" r="0.42"/><circle cx="401.88" cy="320.20" r="0.42"/><circle cx="402.72" cy="316.35" r="0.42"/><circle cx="401.87" cy="318.90" r="0.42"/><circle cx="401.86" cy="307.18" r="0.42"/><circle cx="401.50" cy="319.43" r="0.42"/><circle cx="403.59" cy="319.86" r="0.42"/><circle cx="402.84" cy="320.14" r="0.42"/><circle cx="403.40" cy="311.77" r="0.42"/><circle cx="402.80" cy="310.37" r="0.42"/><circle cx="403.49" cy="320.18" r="0.42"/><circle cx="403.92" cy="319.77" r="0.42"/><circle cx="403.54" cy="316.25" r="0.42"/><circle cx="404.44" cy="319.77" r="0.42"/><circle cx="403.59" cy="320.19" r="0.42"/><circle cx="402.79" cy="319.95" r="0.42"/><circle cx="403.95" cy="320.16" r="0.42"/><circle cx="402.35" cy="318.46" r="0.42"/><circle cx="404.50" cy="316.61" r="0.42"/><circle cx="402.05" cy="307.79" r="0.42"/><circle cx="401.61" cy="316.29" r="0.42"/><circle cx="403.60" cy="318.22" r="0.42"/><circle cx="401.67" cy="305.57" r="0.42"/><circle cx="402.76" cy="312.97" r="0.42"/><circle cx="402.25" cy="310.60" r="0.42"/><circle cx="403.25" cy="318.84" r="0.42"/><circle cx="403.27" cy="320.04" r="0.42"/><circle cx="402.63" cy="319.69" r="0.42"/><circle cx="402.27" cy="320.19" r="0.42"/><circle cx="402.78" cy="312.01" r="0.42"/><circle cx="402.92" cy="320.19" r="0.42"/><circle cx="401.77" cy="320.12" r="0.42"/><circle cx="404.50" cy="305.79" r="0.42"/><circle cx="403.13" cy="315.60" r="0.42"/><circle cx="404.05" cy="319.02" r="0.42"/><circle cx="404.32" cy="319.27" r="0.42"/><circle cx="403.11" cy="310.13" r="0.42"/><circle cx="404.02" cy="313.00" r="0.42"/><circle cx="403.70" cy="320.03" r="0.42"/><circle cx="401.50" cy="313.44" r="0.42"/><circle cx="403.79" cy="311.12" r="0.42"/><circle cx="402.09" cy="320.14" r="0.42"/><circle cx="404.50" cy="318.00" r="0.42"/><circle cx="401.50" cy="318.31" r="0.42"/><circle cx="403.62" cy="306.30" r="0.42"/><circle cx="404.32" cy="316.99" r="0.42"/><circle cx="402.75" cy="320.15" r="0.42"/><circle cx="402.72" cy="310.53" r="0.42"/><circle cx="403.16" cy="304.63" r="0.42"/><circle cx="401.99" cy="320.20" r="0.42"/><circle cx="402.47" cy="308.30" r="0.42"/><circle cx="403.18" cy="318.75" r="0.42"/><circle cx="403.79" cy="319.94" r="0.42"/><circle cx="401.96" cy="316.50" r="0.42"/><circle cx="404.31" cy="319.79" r="0.42"/></g>
<g fill="none" stroke="#ee2020" stroke-width="0.28" opacity="0.9"><circle cx="426.16" cy="318.69" r="0.42"/><circle cx="427.63" cy="302.88" r="0.42"/><circle cx="425.46" cy="302.32" r="0.42"/><circle cx="425.52" cy="320.08" r="0.42"/><circle cx="425.88" cy="303.37" r="0.42"/><circle cx="426.15" cy="320.00" r="0.42"/><circle cx="425.74" cy="320.16" r="0.42"/><circle cx="424.63" cy="319.89" r="0.42"/><circle cx="425.52" cy="305.26" r="0.42"/><circle cx="427.35" cy="301.53" r="0.42"/><circle cx="426.40" cy="312.70" r="0.42"/><circle cx="425.30" cy="320.20" r="0.42"/><circle cx="425.64" cy="315.88" r="0.42"/><circle cx="425.83" cy="318.19" r="0.42"/><circle cx="426.90" cy="319.07" r="0.42"/><circle cx="426.26" cy="318.28" r="0.42"/><circle cx="425.87" cy="316.67" r="0.42"/><circle cx="425.26" cy="293.37" r="0.42"/><circle cx="427.36" cy="304.27" r="0.42"/><circle cx="425.50" cy="311.00" r="0.42"/><circle cx="426.39" cy="315.26" r="0.42"/><circle cx="425.32" cy="313.65" r="0.42"/><circle cx="425.40" cy="310.64" r="0.42"/><circle cx="426.03" cy="320.18" r="0.42"/><circle cx="425.40" cy="320.17" r="0.42"/><circle cx="427.07" cy="307.14" r="0.42"/><circle cx="425.41" cy="309.20" r="0.42"/><circle cx="427.63" cy="319.44" r="0.42"/><circle cx="427.49" cy="309.13" r="0.42"/><circle cx="426.79" cy="311.01" r="0.42"/><circle cx="427.23" cy="295.27" r="0.42"/><circle cx="425.31" cy="302.99" r="0.42"/><circle cx="425.66" cy="308.13" r="0.42"/><circle cx="425.74" cy="315.76" r="0.42"/><circle cx="426.30" cy="299.46" r="0.42"/><circle cx="427.63" cy="315.07" r="0.42"/><circle cx="427.03" cy="318.13" r="0.42"/><circle cx="426.15" cy="319.97" r="0.42"/><circle cx="427.63" cy="311.65" r="0.42"/><circle cx="424.97" cy="313.02" r="0.42"/><circle cx="427.20" cy="318.23" r="0.42"/><circle cx="427.00" cy="314.82" r="0.42"/><circle cx="424.81" cy="309.17" r="0.42"/><circle cx="427.47" cy="319.83" r="0.42"/><circle cx="425.99" cy="319.18" r="0.42"/><circle cx="427.38" cy="299.38" r="0.42"/><circle cx="425.10" cy="320.01" r="0.42"/><circle cx="425.00" cy="319.77" r="0.42"/><circle cx="424.63" cy="320.19" r="0.42"/><circle cx="425.45" cy="300.57" r="0.42"/><circle cx="425.31" cy="308.60" r="0.42"/><circle cx="426.61" cy="315.46" r="0.42"/><circle cx="425.90" cy="298.89" r="0.42"/><circle cx="426.82" cy="313.28" r="0.42"/><circle cx="426.22" cy="294.56" r="0.42"/><circle cx="426.34" cy="320.13" r="0.42"/><circle cx="425.68" cy="314.57" r="0.42"/><circle cx="425.79" cy="319.93" r="0.42"/><circle cx="425.30" cy="313.62" r="0.42"/><circle cx="425.04" cy="308.57" r="0.42"/><circle cx="424.63" cy="320.19" r="0.42"/><circle cx="426.30" cy="295.25" r="0.42"/><circle cx="426.90" cy="319.06" r="0.42"/><circle cx="425.09" cy="297.41" r="0.42"/><circle cx="425.57" cy="319.74" r="0.42"/><circle cx="424.63" cy="316.66" r="0.42"/><circle cx="426.32" cy="320.15" r="0.42"/><circle cx="426.63" cy="320.16" r="0.42"/><circle cx="425.82" cy="320.06" r="0.42"/><circle cx="425.85" cy="307.22" r="0.42"/></g>
<g fill="none" stroke="#ee2020" stroke-width="0.28" opacity="0.9"><circle cx="357.40" cy="311.63" r="0.42"/><circle cx="355.26" cy="312.36" r="0.42"/><circle cx="357.96" cy="304.01" r="0.42"/><circle cx="356.41" cy="301.91" r="0.42"/><circle cx="357.00" cy="320.16" r="0.42"/><circle cx="356.94" cy="319.96" r="0.42"/><circle cx="355.43" cy="318.91" r="0.42"/><circle cx="357.09" cy="311.41" r="0.42"/><circle cx="355.82" cy="320.18" r="0.42"/><circle cx="357.39" cy="318.90" r="0.42"/><circle cx="356.03" cy="320.15" r="0.42"/><circle cx="356.24" cy="313.23" r="0.42"/><circle cx="358.24" cy="317.37" r="0.42"/><circle cx="356.24" cy="320.19" r="0.42"/><circle cx="356.61" cy="310.84" r="0.42"/><circle cx="356.00" cy="320.15" r="0.42"/><circle cx="355.85" cy="317.63" r="0.42"/><circle cx="357.91" cy="304.28" r="0.42"/><circle cx="356.48" cy="318.83" r="0.42"/><circle cx="357.77" cy="312.85" r="0.42"/><circle cx="356.07" cy="309.80" r="0.42"/><circle cx="356.40" cy="319.24" r="0.42"/><circle cx="356.46" cy="307.47" r="0.42"/><circle cx="356.71" cy="318.41" r="0.42"/><circle cx="356.57" cy="319.84" r="0.42"/><circle cx="356.44" cy="319.68" r="0.42"/><circle cx="355.24" cy="320.17" r="0.42"/><circle cx="357.11" cy="316.58" r="0.42"/><circle cx="357.10" cy="318.79" r="0.42"/><circle cx="356.58" cy="319.08" r="0.42"/></g>
<g fill="none" stroke="#ee2020" stroke-width="0.28" opacity="0.9"><circle cx="296.43" cy="314.40" r="0.42"/><circle cx="295.11" cy="319.22" r="0.42"/><circle cx="295.06" cy="320.20" r="0.42"/><circle cx="295.95" cy="319.09" r="0.42"/><circle cx="295.59" cy="318.05" r="0.42"/><circle cx="295.25" cy="311.51" r="0.42"/></g>
<g fill="none" stroke="#ee2020" stroke-width="0.28" opacity="0.9"><circle cx="210.04" cy="319.00" r="0.42"/><circle cx="210.29" cy="319.77" r="0.42"/><circle cx="210.02" cy="313.70" r="0.42"/><circle cx="209.70" cy="320.19" r="0.42"/><circle cx="210.35" cy="319.28" r="0.42"/><circle cx="209.73" cy="317.91" r="0.42"/><circle cx="209.82" cy="314.46" r="0.42"/><circle cx="209.69" cy="320.20" r="0.42"/></g>
<g fill="none" stroke="#ee2020" stroke-width="0.28" opacity="0.9"><circle cx="233.46" cy="320.20" r="0.42"/><circle cx="232.77" cy="317.08" r="0.42"/><circle cx="233.89" cy="317.44" r="0.42"/></g>
<g fill="none" stroke="#ee2020" stroke-width="0.28" opacity="0.9"><circle cx="259.97" cy="300.04" r="0.42"/><circle cx="260.72" cy="309.28" r="0.42"/><circle cx="260.08" cy="308.48" r="0.42"/></g>
<g fill="none" stroke="#ee2020" stroke-width="0.28" opacity="0.9"><circle cx="346.68" cy="318.37" r="0.42"/><circle cx="344.73" cy="319.78" r="0.42"/><circle cx="345.06" cy="318.38" r="0.42"/><circle cx="346.07" cy="319.42" r="0.42"/><circle cx="345.53" cy="315.20" r="0.42"/><circle cx="345.52" cy="318.01" r="0.42"/></g>
<g fill="none" stroke="#ee2020" stroke-width="0.28" opacity="0.9"><circle cx="374.76" cy="320.15" r="0.42"/><circle cx="377.18" cy="308.57" r="0.42"/><circle cx="377.51" cy="319.78" r="0.42"/><circle cx="376.19" cy="306.28" r="0.42"/></g>
<g fill="none" stroke="#4050e0" stroke-width="0.28" opacity="0.9"><circle cx="407.24" cy="315.60" r="0.42"/><circle cx="407.30" cy="308.37" r="0.42"/><circle cx="407.36" cy="307.88" r="0.42"/><circle cx="406.96" cy="317.99" r="0.42"/><circle cx="406.88" cy="319.42" r="0.42"/><circle cx="406.08" cy="312.09" r="0.42"/><circle cx="405.36" cy="319.97" r="0.42"/><circle cx="406.61" cy="313.68" r="0.42"/><circle cx="407.74" cy="320.13" r="0.42"/><circle cx="407.60" cy="318.56" r="0.42"/></g>
<g fill="none" stroke="#4050e0" stroke-width="0.28" opacity="0.9"><circle cx="428.94" cy="318.62" r="0.42"/><circle cx="430.14" cy="307.04" r="0.42"/><circle cx="429.42" cy="319.58" r="0.42"/><circle cx="429.73" cy="316.46" r="0.42"/><circle cx="430.60" cy="313.06" r="0.42"/><circle cx="430.67" cy="313.60" r="0.42"/><circle cx="430.10" cy="320.20" r="0.42"/><circle cx="429.16" cy="317.05" r="0.42"/></g>
<rect x="205.30" y="319.70" width="2.2" height="2.2" rx="0.7" fill="#ee1c1c"/>
<rect x="208.60" y="319.70" width="3.3" height="2.2" rx="0.7" fill="#ee1c1c"/>
<rect x="212.46" y="319.70" width="3.3" height="2.2" rx="0.7" fill="#2a3ae0"/>
<rect x="216.31" y="319.70" width="3.3" height="2.2" rx="0.7" fill="#ee1c1c"/>
<rect x="220.17" y="319.70" width="3.3" height="2.2" rx="0.7" fill="#2a3ae0"/>
<rect x="224.02" y="319.70" width="3.3" height="2.2" rx="0.7" fill="#ee1c1c"/>
<rect x="227.88" y="319.70" width="3.3" height="2.2" rx="0.7" fill="#ee1c1c"/>
<rect x="231.73" y="319.70" width="3.3" height="2.2" rx="0.7" fill="#ee1c1c"/>
<rect x="235.59" y="319.70" width="3.3" height="2.2" rx="0.7" fill="#ee1c1c"/>
<rect x="239.44" y="319.70" width="3.3" height="2.2" rx="0.7" fill="#ee1c1c"/>
<rect x="243.30" y="319.70" width="3.3" height="2.2" rx="0.7" fill="#2a3ae0"/>
<rect x="247.15" y="319.70" width="3.3" height="2.2" rx="0.7" fill="#ee1c1c"/>
<rect x="251.01" y="319.70" width="3.3" height="2.2" rx="0.7" fill="#2a3ae0"/>
<rect x="254.86" y="319.70" width="3.3" height="2.2" rx="0.7" fill="#ee1c1c"/>
<rect x="258.72" y="319.70" width="3.3" height="2.2" rx="0.7" fill="#2a3ae0"/>
<rect x="262.57" y="319.70" width="3.3" height="2.2" rx="0.7" fill="#ee1c1c"/>
<rect x="266.43" y="319.70" width="3.3" height="2.2" rx="0.7" fill="#ee1c1c"/>
<rect x="270.28" y="319.70" width="3.3" height="2.2" rx="0.7" fill="#2a3ae0"/>
<rect x="274.14" y="319.70" width="3.3" height="2.2" rx="0.7" fill="#ee1c1c"/>
<rect x="277.99" y="319.70" width="3.3" height="2.2" rx="0.7" fill="#2a3ae0"/>
<rect x="281.85" y="319.70" width="3.3" height="2.2" rx="0.7" fill="#ee1c1c"/>
<rect x="285.70" y="319.70" width="3.3" height="2.2" rx="0.7" fill="#2a3ae0"/>
<rect x="289.56" y="319.70" width="3.3" height="2.2" rx="0.7" fill="#ee1c1c"/>
<rect x="293.41" y="319.70" width="3.3" height="2.2" rx="0.7" fill="#ee1c1c"/>
<rect x="297.27" y="319.70" width="3.3" height="2.2" rx="0.7" fill="#ee1c1c"/>
<rect x="301.12" y="319.70" width="3.3" height="2.2" rx="0.7" fill="#2a3ae0"/>
<rect x="304.98" y="319.70" width="3.3" height="2.2" rx="0.7" fill="#ee1c1c"/>
<rect x="308.83" y="319.70" width="3.3" height="2.2" rx="0.7" fill="#2a3ae0"/>
<rect x="312.69" y="319.70" width="3.3" height="2.2" rx="0.7" fill="#ee1c1c"/>
<rect x="316.54" y="319.70" width="3.3" height="2.2" rx="0.7" fill="#2a3ae0"/>
<rect x="320.40" y="319.70" width="3.3" height="2.2" rx="0.7" fill="#ee1c1c"/>
<rect x="324.25" y="319.70" width="3.3" height="2.2" rx="0.7" fill="#ee1c1c"/>
<rect x="328.11" y="319.70" width="3.3" height="2.2" rx="0.7" fill="#ee1c1c"/>
<rect x="331.96" y="319.70" width="3.3" height="2.2" rx="0.7" fill="#2a3ae0"/>
<rect x="335.82" y="319.70" width="3.3" height="2.2" rx="0.7" fill="#ee1c1c"/>
<rect x="339.67" y="319.70" width="3.3" height="2.2" rx="0.7" fill="#2a3ae0"/>
<rect x="343.53" y="319.70" width="3.3" height="2.2" rx="0.7" fill="#ee1c1c"/>
<rect x="347.38" y="319.70" width="3.3" height="2.2" rx="0.7" fill="#2a3ae0"/>
<rect x="351.24" y="319.70" width="3.3" height="2.2" rx="0.7" fill="#ee1c1c"/>
<rect x="355.09" y="319.70" width="3.3" height="2.2" rx="0.7" fill="#ee1c1c"/>
<rect x="358.95" y="319.70" width="3.3" height="2.2" rx="0.7" fill="#ee1c1c"/>
<rect x="362.80" y="319.70" width="3.3" height="2.2" rx="0.7" fill="#2a3ae0"/>
<rect x="366.66" y="319.70" width="3.3" height="2.2" rx="0.7" fill="#ee1c1c"/>
<rect x="370.51" y="319.70" width="3.3" height="2.2" rx="0.7" fill="#2a3ae0"/>
<rect x="374.37" y="319.70" width="3.3" height="2.2" rx="0.7" fill="#ee1c1c"/>
<rect x="378.22" y="319.70" width="3.3" height="2.2" rx="0.7" fill="#2a3ae0"/>
<rect x="382.08" y="319.70" width="3.3" height="2.2" rx="0.7" fill="#ee1c1c"/>
<rect x="385.93" y="319.70" width="3.3" height="2.2" rx="0.7" fill="#2a3ae0"/>
<rect x="389.79" y="319.70" width="3.3" height="2.2" rx="0.7" fill="#ee1c1c"/>
<rect x="393.64" y="319.70" width="3.3" height="2.2" rx="0.7" fill="#ee1c1c"/>
<rect x="397.50" y="319.70" width="3.3" height="2.2" rx="0.7" fill="#9a30e0"/>
<rect x="401.35" y="319.70" width="3.3" height="2.2" rx="0.7" fill="#ee1c1c"/>
<rect x="405.21" y="319.70" width="3.3" height="2.2" rx="0.7" fill="#2a3ae0"/>
<rect x="409.06" y="319.70" width="3.3" height="2.2" rx="0.7" fill="#ee1c1c"/>
<rect x="412.92" y="319.70" width="3.3" height="2.2" rx="0.7" fill="#ee1c1c"/>
<rect x="416.77" y="319.70" width="3.3" height="2.2" rx="0.7" fill="#2a3ae0"/>
<rect x="420.63" y="319.70" width="3.3" height="2.2" rx="0.7" fill="#ee1c1c"/>
<rect x="424.48" y="319.70" width="3.3" height="2.2" rx="0.7" fill="#ee1c1c"/>
<rect x="428.34" y="319.70" width="3.3" height="2.2" rx="0.7" fill="#2a3ae0"/>
<rect x="432.19" y="319.70" width="3.3" height="2.2" rx="0.7" fill="#ee1c1c"/>
<rect x="436.05" y="319.70" width="3.3" height="2.2" rx="0.7" fill="#ee1c1c"/>
<rect x="278.34" y="308.5" width="2.6" height="8.7" rx="0.5" fill="none" stroke="#3040e0" stroke-width="0.55"/>
<g fill="#5060e0"><rect x="276.8" y="304" width="0.6" height="0.6"/><rect x="277.3" y="306" width="0.6" height="0.6"/></g>
<rect x="345" y="294" width="0.7" height="0.7" fill="#ee2020"/>
</svg></body></html>
